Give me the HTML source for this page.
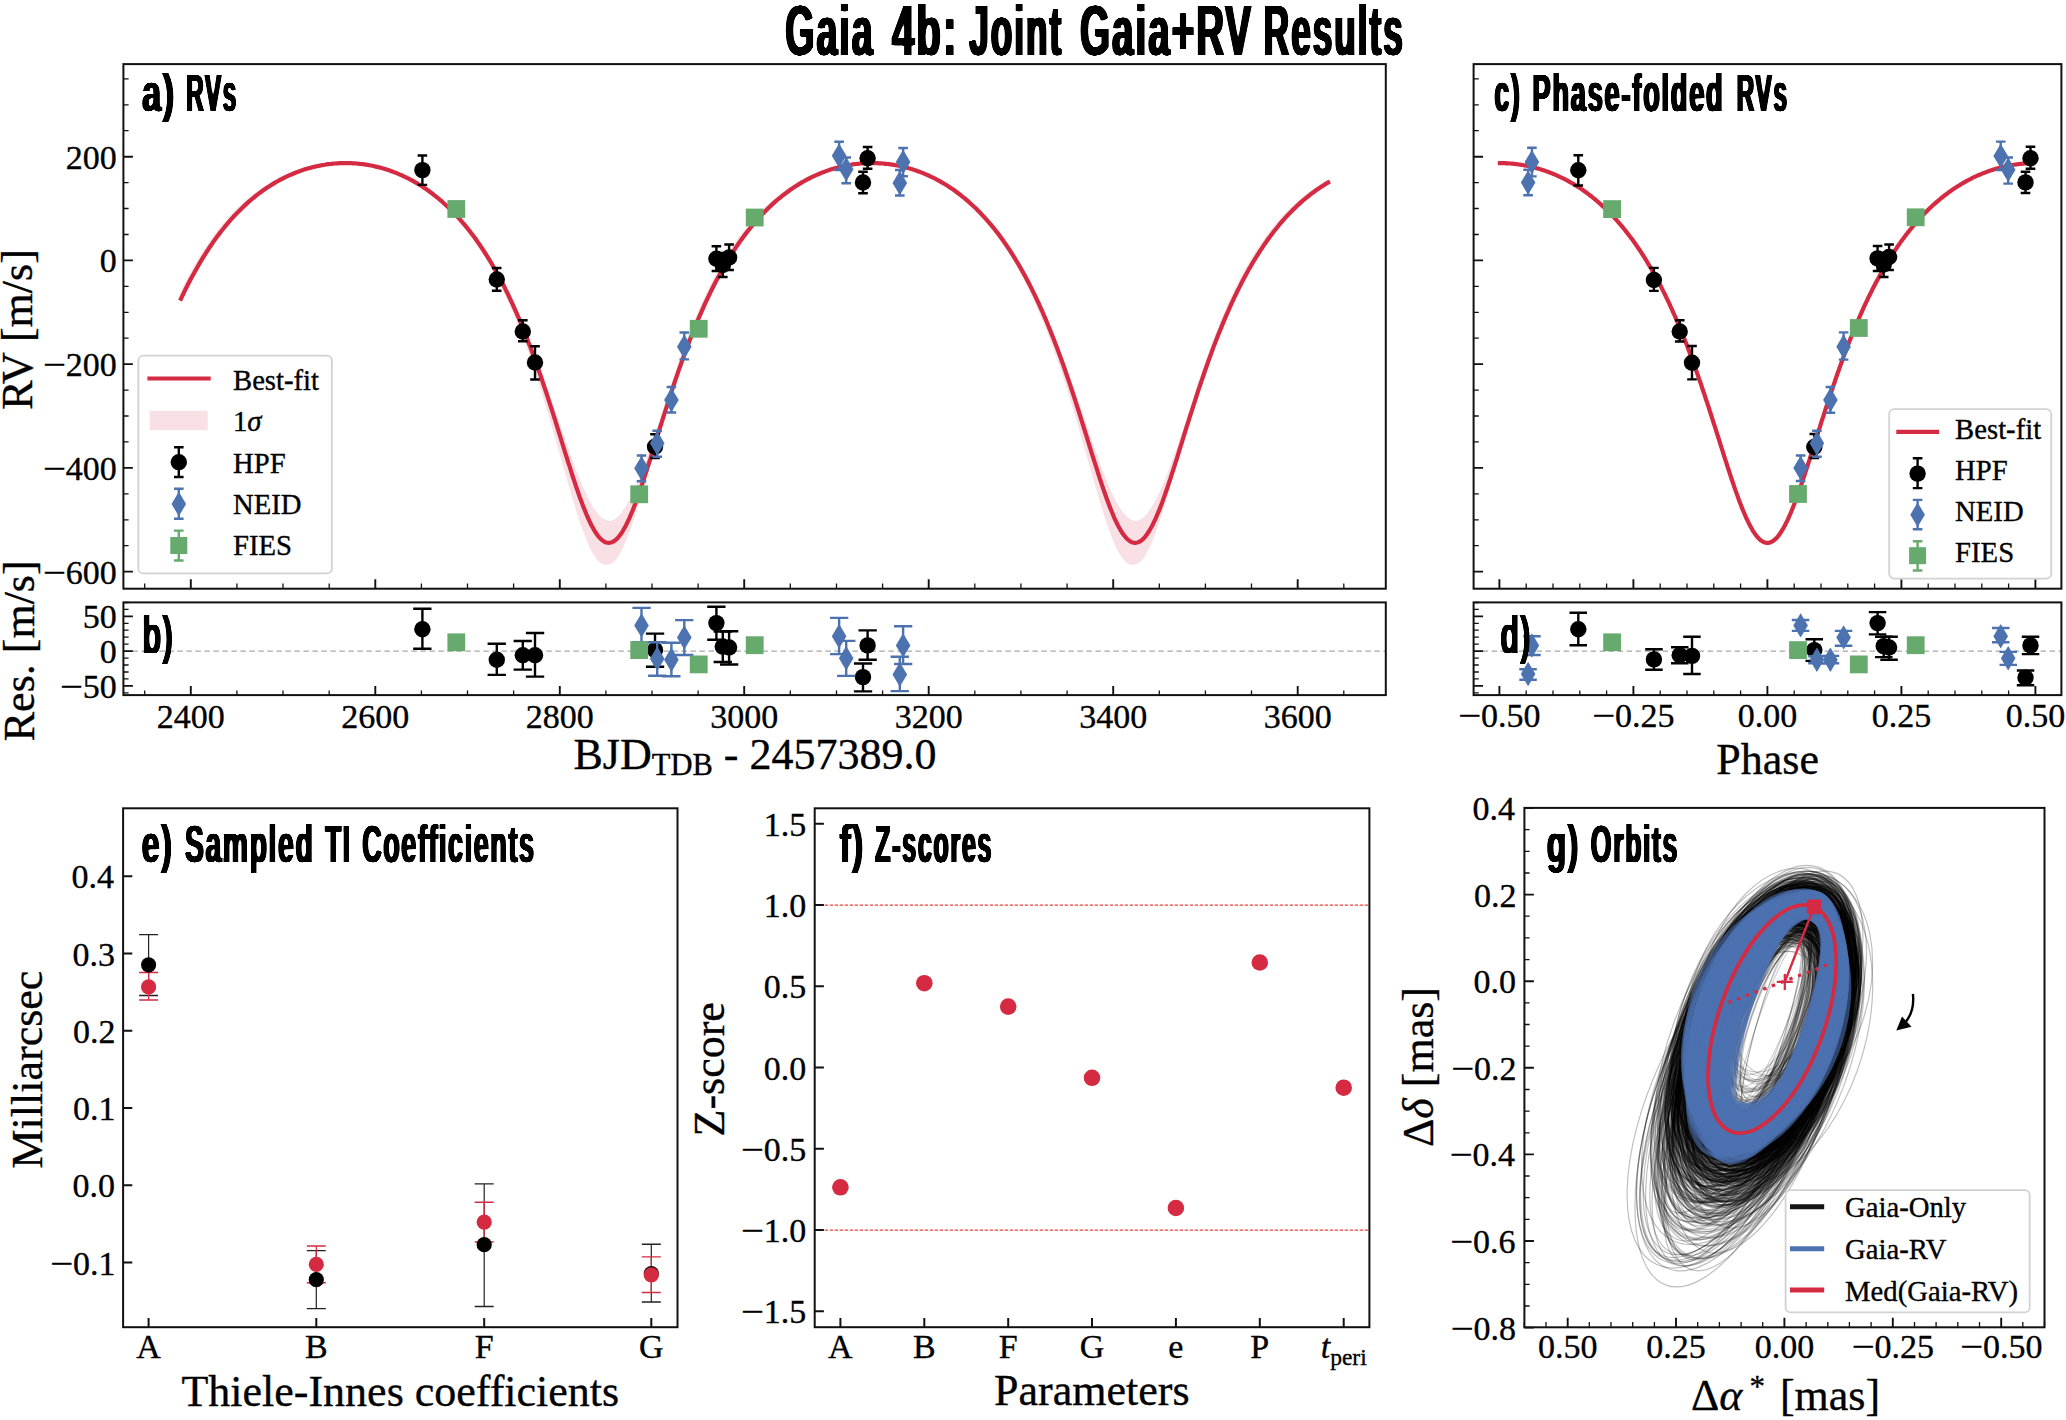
<!DOCTYPE html>
<html lang="en"><head><meta charset="utf-8"><title>Gaia 4b: Joint Gaia+RV Results</title>
<style>html,body{margin:0;padding:0;background:#fff}svg{display:block}svg text{stroke:#000;stroke-width:.35px}svg text.lb{stroke:none}</style></head>
<body>
<svg width="2066" height="1420" viewBox="0 0 2066 1420" font-family="Liberation Serif, serif" fill="#000">
<defs><filter id="fat10" x="-10%" y="-15%" width="120%" height="130%"><feGaussianBlur stdDeviation="1.5 0"/><feComponentTransfer><feFuncA type="linear" slope="6.00" intercept="-1.015"/></feComponentTransfer></filter><filter id="fat8" x="-10%" y="-15%" width="120%" height="130%"><feGaussianBlur stdDeviation="1.5 0"/><feComponentTransfer><feFuncA type="linear" slope="6.00" intercept="-1.281"/></feComponentTransfer></filter><filter id="fat6" x="-10%" y="-15%" width="120%" height="130%"><feGaussianBlur stdDeviation="1.5 0"/><feComponentTransfer><feFuncA type="linear" slope="6.00" intercept="-1.567"/></feComponentTransfer></filter><filter id="fat9" x="-10%" y="-15%" width="120%" height="130%"><feGaussianBlur stdDeviation="1.5 0"/><feComponentTransfer><feFuncA type="linear" slope="6.00" intercept="-1.146"/></feComponentTransfer></filter><clipPath id="cg"><rect x="1524.4" y="807.9" width="520.1" height="519.4"/></clipPath></defs>
<rect width="2066" height="1420" fill="#fff"/>
<g filter="url(#fat10)"><text class="lb" y="54.6" font-size="71" font-weight="bold" font-family="Liberation Sans, sans-serif"><tspan x="785.2" letter-spacing="3.78" textLength="89.4" lengthAdjust="spacingAndGlyphs">Gaia</tspan> <tspan x="891.9" letter-spacing="3.525" textLength="66.4" lengthAdjust="spacingAndGlyphs">4b:</tspan> <tspan x="969.2" letter-spacing="4.032" textLength="94.1" lengthAdjust="spacingAndGlyphs">Joint</tspan> <tspan x="1080.1" letter-spacing="3.683" textLength="173" lengthAdjust="spacingAndGlyphs">Gaia+RV</tspan> <tspan x="1263.8" letter-spacing="4.037" textLength="141.1" lengthAdjust="spacingAndGlyphs">Results</tspan></text></g>
<path d="M180.1 292.8L181.7 289.4L183.4 286.1L185 282.8L186.7 279.6L188.3 276.4L190 273.3L191.6 270.3L193.3 267.3L194.9 264.5L196.6 261.6L198.2 258.9L199.8 256.1L201.5 253.5L203.1 250.9L204.8 248.4L206.4 245.9L208.1 243.4L209.7 241.1L211.4 238.7L213 236.5L214.6 234.2L216.3 232.1L217.9 229.9L219.6 227.9L221.2 225.8L222.9 223.8L224.5 221.9L226.2 220L227.8 218.1L229.4 216.3L231.1 214.5L232.7 212.8L234.4 211.1L236 209.4L237.7 207.8L239.3 206.2L241 204.7L242.6 203.2L244.3 201.7L245.9 200.2L247.5 198.8L249.2 197.5L250.8 196.1L252.5 194.8L254.1 193.5L255.8 192.3L257.4 191.1L259.1 189.9L260.7 188.7L262.3 187.6L264 186.5L265.6 185.5L267.3 184.4L268.9 183.4L270.6 182.4L272.2 181.5L273.9 180.6L275.5 179.7L277.2 178.8L278.8 177.9L280.4 177.1L282.1 176.3L283.7 175.5L285.4 174.8L287 174.1L288.7 173.4L290.3 172.7L292 172L293.6 171.4L295.2 170.8L296.9 170.2L298.5 169.6L300.2 169.1L301.8 168.6L303.5 168.1L305.1 167.6L306.8 167.2L308.4 166.7L310.1 166.3L311.7 165.9L313.3 165.6L315 165.2L316.6 164.9L318.3 164.6L319.9 164.3L321.6 164L323.2 163.8L324.9 163.6L326.5 163.4L328.1 163.2L329.8 163L331.4 162.9L333.1 162.8L334.7 162.7L336.4 162.6L338 162.5L339.7 162.5L341.3 162.5L343 162.5L344.6 162.5L346.2 162.5L347.9 162.5L349.5 162.5L351.2 162.5L352.8 162.6L354.5 162.7L356.1 162.8L357.8 162.9L359.4 163.1L361 163.3L362.7 163.5L364.3 163.7L366 163.9L367.6 164.2L369.3 164.5L370.9 164.8L372.6 165.1L374.2 165.4L375.9 165.8L377.5 166.2L379.1 166.6L380.8 167L382.4 167.5L384.1 167.9L385.7 168.4L387.4 169L389 169.5L390.7 170.1L392.3 170.6L393.9 171.3L395.6 171.9L397.2 172.6L398.9 173.2L400.5 173.9L402.2 174.7L403.8 175.4L405.5 176.2L407.1 177L408.8 177.8L410.4 178.7L412 179.6L413.7 180.5L415.3 181.4L417 182.4L418.6 183.4L420.3 184.4L421.9 185.4L423.6 186.5L425.2 187.6L426.8 188.7L428.5 189.9L430.1 191.1L431.8 192.3L433.4 193.6L435.1 194.8L436.7 196.2L438.4 197.5L440 198.9L441.7 200.3L443.3 201.7L444.9 203.2L446.6 204.7L448.2 206.3L449.9 207.8L451.5 209.5L453.2 211.1L454.8 212.8L456.5 214.5L458.1 216.3L459.7 218.1L461.4 219.9L463 221.8L464.7 223.7L466.3 225.7L468 227.7L469.6 229.8L471.3 231.9L472.9 234L474.6 236.2L476.2 238.4L477.8 240.7L479.5 243L481.1 245.4L482.8 247.8L484.4 250.3L486.1 252.8L487.7 255.4L489.4 258L491 260.7L492.6 263.4L494.3 266.2L495.9 269L497.6 271.9L499.2 274.8L500.9 277.8L502.5 280.9L504.2 284L505.8 287.2L507.5 290.4L509.1 293.7L510.7 297.1L512.4 300.5L514 304L515.7 307.6L517.3 311.2L519 314.8L520.6 318.6L522.3 322.4L523.9 326.2L525.5 330.1L527.2 334.1L528.8 338.2L530.5 342.3L532.1 346.4L533.8 350.6L535.4 354.9L537.1 359.3L538.7 363.7L540.4 368.1L542 372.6L543.6 377.1L545.3 381.7L546.9 386.4L548.6 391L550.2 395.7L551.9 400.5L553.5 405.2L555.2 410L556.8 414.8L558.4 419.6L560.1 424.4L561.7 429.2L563.4 434L565 438.8L566.7 443.6L568.3 448.3L570 452.9L571.6 457.5L573.2 462.1L574.9 466.5L576.5 470.9L578.2 475.1L579.8 479.3L581.5 483.3L583.1 487.2L584.8 490.9L586.4 494.5L588.1 497.9L589.7 501.1L591.3 504.1L593 506.9L594.6 509.4L596.3 511.8L597.9 513.9L599.6 515.7L601.2 517.3L602.9 518.6L604.5 519.6L606.1 520.3L607.8 520.8L609.4 521L611.1 520.7L612.7 520.1L614.4 519.3L616 518.2L617.7 516.8L619.3 515.2L621 513.3L622.6 511.1L624.2 508.7L625.9 506.1L627.5 503.2L629.2 500.2L630.8 496.9L632.5 493.4L634.1 489.8L635.8 486L637.4 482.1L639 478.1L640.7 473.9L642.3 469.6L644 465.2L645.6 460.7L647.3 456.1L648.9 451.5L650.6 446.8L652.2 442.1L653.9 437.4L655.5 432.6L657.1 427.8L658.8 423L660.4 418.2L662.1 413.4L663.7 408.6L665.4 403.8L667 398.9L668.7 393.6L670.3 388.3L671.9 383.1L673.6 378L675.2 373L676.9 368L678.5 363.1L680.2 358.3L681.8 353.6L683.5 349L685.1 344.5L686.8 340L688.4 335.6L690 331.4L691.7 327.1L693.3 323L695 319L696.6 315L698.3 311.1L699.9 307.3L701.6 303.6L703.2 299.9L704.8 296.4L706.5 292.9L708.1 289.4L709.8 286.1L711.4 282.8L713.1 279.6L714.7 276.4L716.4 273.3L718 270.3L719.7 267.4L721.3 264.5L722.9 261.6L724.6 258.9L726.2 256.2L727.9 253.5L729.5 250.9L731.2 248.4L732.8 245.9L734.5 243.5L736.1 241.1L737.7 238.8L739.4 236.5L741 234.3L742.7 232.1L744.3 229.9L746 227.9L747.6 225.8L749.3 223.8L750.9 221.9L752.6 220L754.2 218.1L755.8 216.3L757.5 214.5L759.1 212.8L760.8 211.1L762.4 209.4L764.1 207.8L765.7 206.2L767.4 204.7L769 203.2L770.6 201.7L772.3 200.3L773.9 198.8L775.6 197.5L777.2 196.1L778.9 194.8L780.5 193.5L782.2 192.3L783.8 191.1L785.5 189.9L787.1 188.8L788.7 187.6L790.4 186.5L792 185.5L793.7 184.4L795.3 183.4L797 182.4L798.6 181.5L800.3 180.6L801.9 179.7L803.5 178.8L805.2 177.9L806.8 177.1L808.5 176.3L810.1 175.5L811.8 174.8L813.4 174.1L815.1 173.4L816.7 172.7L818.4 172L820 171.4L821.6 170.8L823.3 170.2L824.9 169.6L826.6 169.1L828.2 168.6L829.9 168.1L831.5 167.6L833.2 167.2L834.8 166.7L836.4 166.3L838.1 165.9L839.7 165.6L841.4 165.2L843 164.9L844.7 164.6L846.3 164.3L848 164L849.6 163.8L851.3 163.6L852.9 163.4L854.5 163.2L856.2 163L857.8 162.9L859.5 162.8L861.1 162.7L862.8 162.6L864.4 162.5L866.1 162.5L867.7 162.5L869.3 162.5L871 162.5L872.6 162.5L874.3 162.5L875.9 162.5L877.6 162.5L879.2 162.6L880.9 162.7L882.5 162.8L884.2 162.9L885.8 163.1L887.4 163.3L889.1 163.5L890.7 163.7L892.4 163.9L894 164.2L895.7 164.5L897.3 164.8L899 165.1L900.6 165.4L902.2 165.8L903.9 166.2L905.5 166.6L907.2 167L908.8 167.5L910.5 167.9L912.1 168.4L913.8 168.9L915.4 169.5L917.1 170.1L918.7 170.6L920.3 171.3L922 171.9L923.6 172.5L925.3 173.2L926.9 173.9L928.6 174.7L930.2 175.4L931.9 176.2L933.5 177L935.1 177.8L936.8 178.7L938.4 179.6L940.1 180.5L941.7 181.4L943.4 182.4L945 183.4L946.7 184.4L948.3 185.4L949.9 186.5L951.6 187.6L953.2 188.7L954.9 189.9L956.5 191.1L958.2 192.3L959.8 193.6L961.5 194.8L963.1 196.1L964.8 197.5L966.4 198.9L968 200.3L969.7 201.7L971.3 203.2L973 204.7L974.6 206.2L976.3 207.8L977.9 209.4L979.6 211.1L981.2 212.8L982.8 214.5L984.5 216.3L986.1 218.1L987.8 219.9L989.4 221.8L991.1 223.7L992.7 225.7L994.4 227.7L996 229.8L997.7 231.9L999.3 234L1000.9 236.2L1002.6 238.4L1004.2 240.7L1005.9 243L1007.5 245.4L1009.2 247.8L1010.8 250.3L1012.5 252.8L1014.1 255.3L1015.7 258L1017.4 260.6L1019 263.4L1020.7 266.2L1022.3 269L1024 271.9L1025.6 274.8L1027.3 277.8L1028.9 280.9L1030.6 284L1032.2 287.2L1033.8 290.4L1035.5 293.7L1037.1 297.1L1038.8 300.5L1040.4 304L1042.1 307.5L1043.7 311.1L1045.4 314.8L1047 318.5L1048.6 322.3L1050.3 326.2L1051.9 330.1L1053.6 334.1L1055.2 338.1L1056.9 342.2L1058.5 346.4L1060.2 350.6L1061.8 354.9L1063.5 359.2L1065.1 363.6L1066.7 368.1L1068.4 372.6L1070 377.1L1071.7 381.7L1073.3 386.3L1075 391L1076.6 395.7L1078.3 400.4L1079.9 405.2L1081.5 410L1083.2 414.8L1084.8 419.6L1086.5 424.4L1088.1 429.2L1089.8 434L1091.4 438.8L1093.1 443.5L1094.7 448.2L1096.4 452.9L1098 457.5L1099.6 462L1101.3 466.5L1102.9 470.9L1104.6 475.1L1106.2 479.3L1107.9 483.3L1109.5 487.2L1111.2 490.9L1112.8 494.5L1114.4 497.9L1116.1 501.1L1117.7 504.1L1119.4 506.9L1121 509.4L1122.7 511.8L1124.3 513.9L1126 515.7L1127.6 517.3L1129.3 518.6L1130.9 519.6L1132.5 520.3L1134.2 520.8L1135.8 521L1137.5 520.7L1139.1 520.1L1140.8 519.3L1142.4 518.2L1144.1 516.8L1145.7 515.2L1147.3 513.3L1149 511.1L1150.6 508.7L1152.3 506.1L1153.9 503.2L1155.6 500.2L1157.2 496.9L1158.9 493.5L1160.5 489.9L1162.2 486.1L1163.8 482.1L1165.4 478.1L1167.1 473.9L1168.7 469.6L1170.4 465.2L1172 460.7L1173.7 456.2L1175.3 451.6L1177 446.9L1178.6 442.2L1180.2 437.4L1181.9 432.6L1183.5 427.8L1185.2 423L1186.8 418.2L1188.5 413.4L1190.1 408.6L1191.8 403.8L1193.4 399L1195.1 393.6L1196.7 388.4L1198.3 383.2L1200 378L1201.6 373L1203.3 368L1204.9 363.2L1206.6 358.4L1208.2 353.7L1209.9 349L1211.5 344.5L1213.1 340L1214.8 335.7L1216.4 331.4L1218.1 327.2L1219.7 323L1221.4 319L1223 315L1224.7 311.2L1226.3 307.3L1228 303.6L1229.6 300L1231.2 296.4L1232.9 292.9L1234.5 289.5L1236.2 286.1L1237.8 282.8L1239.5 279.6L1241.1 276.4L1242.8 273.4L1244.4 270.3L1246 267.4L1247.7 264.5L1249.3 261.7L1251 258.9L1252.6 256.2L1254.3 253.5L1255.9 250.9L1257.6 248.4L1259.2 245.9L1260.9 243.5L1262.5 241.1L1264.1 238.8L1265.8 236.5L1267.4 234.3L1269.1 232.1L1270.7 230L1272.4 227.9L1274 225.8L1275.7 223.9L1277.3 221.9L1278.9 220L1280.6 218.1L1282.2 216.3L1283.9 214.5L1285.5 212.8L1287.2 211.1L1288.8 209.4L1290.5 207.8L1292.1 206.2L1293.7 204.7L1295.4 203.2L1297 201.7L1298.7 200.3L1300.3 198.9L1302 197.5L1303.6 196.1L1305.3 194.8L1306.9 193.6L1308.6 192.3L1310.2 191.1L1311.8 189.9L1313.5 188.8L1315.1 187.6L1316.8 186.5L1318.4 185.5L1320.1 184.4L1321.7 183.4L1323.4 182.5L1325 181.5L1326.6 180.6L1328.3 179.7L1329.9 178.8L1329.9 182.9L1328.3 183.9L1326.6 184.9L1325 185.9L1323.4 187L1321.7 188L1320.1 189.2L1318.4 190.3L1316.8 191.5L1315.1 192.7L1313.5 193.9L1311.8 195.1L1310.2 196.4L1308.6 197.8L1306.9 199.1L1305.3 200.5L1303.6 201.9L1302 203.4L1300.3 204.8L1298.7 206.4L1297 207.9L1295.4 209.5L1293.7 211.1L1292.1 212.8L1290.5 214.5L1288.8 216.2L1287.2 218L1285.5 219.8L1283.9 221.7L1282.2 223.6L1280.6 225.5L1278.9 227.5L1277.3 229.5L1275.7 231.6L1274 233.7L1272.4 235.8L1270.7 238L1269.1 240.3L1267.4 242.5L1265.8 244.9L1264.1 247.3L1262.5 249.7L1260.9 252.2L1259.2 254.7L1257.6 257.3L1255.9 259.9L1254.3 262.6L1252.6 265.4L1251 268.2L1249.3 271L1247.7 273.9L1246 276.9L1244.4 279.9L1242.8 283L1241.1 286.1L1239.5 289.3L1237.8 292.6L1236.2 295.9L1234.5 299.3L1232.9 302.7L1231.2 306.2L1229.6 309.8L1228 313.4L1226.3 317.1L1224.7 320.8L1223 324.6L1221.4 328.5L1219.7 332.4L1218.1 336.4L1216.4 340.5L1214.8 344.6L1213.1 348.8L1211.5 353.2L1209.9 357.7L1208.2 362.3L1206.6 366.9L1204.9 371.6L1203.3 376.4L1201.6 381.2L1200 386.1L1198.3 391L1196.7 396.1L1195.1 401.1L1193.4 406.3L1191.8 411.8L1190.1 417.3L1188.5 422.9L1186.8 428.6L1185.2 434.3L1183.5 440.1L1181.9 445.8L1180.2 451.6L1178.6 457.4L1177 463.2L1175.3 469.1L1173.7 474.8L1172 480.6L1170.4 486.3L1168.7 491.9L1167.1 497.5L1165.4 503L1163.8 508.4L1162.2 513.6L1160.5 518.7L1158.9 523.6L1157.2 528.3L1155.6 532.9L1153.9 537.2L1152.3 541.2L1150.6 545L1149 548.5L1147.3 551.7L1145.7 554.6L1144.1 557.2L1142.4 559.4L1140.8 561.2L1139.1 562.7L1137.5 563.7L1135.8 564.4L1134.2 564.7L1132.5 564.7L1130.9 564.7L1129.3 564.2L1127.6 563.4L1126 562.2L1124.3 560.6L1122.7 558.6L1121 556.3L1119.4 553.7L1117.7 550.7L1116.1 547.3L1114.4 543.7L1112.8 539.9L1111.2 535.7L1109.5 531.3L1107.9 526.7L1106.2 521.9L1104.6 516.9L1102.9 511.8L1101.3 506.5L1099.6 501.1L1098 495.6L1096.4 490L1094.7 484.3L1093.1 478.6L1091.4 472.8L1089.8 467L1088.1 461.2L1086.5 455.4L1084.8 449.6L1083.2 443.8L1081.5 438.1L1079.9 432.3L1078.3 426.6L1076.6 421L1075 415.4L1073.3 409.9L1071.7 404.4L1070 399L1068.4 393.7L1066.7 388.4L1065.1 383.2L1063.5 378.1L1061.8 373.1L1060.2 368.2L1058.5 363.3L1056.9 358.6L1055.2 353.9L1053.6 349.3L1051.9 344.7L1050.3 340.3L1048.6 335.9L1047 331.7L1045.4 327.5L1043.7 323.4L1042.1 319.4L1040.4 315.4L1038.8 311.5L1037.1 307.7L1035.5 304L1033.8 300.4L1032.2 296.8L1030.6 293.4L1028.9 289.9L1027.3 286.6L1025.6 283.3L1024 280.1L1022.3 277L1020.7 273.9L1019 270.9L1017.4 268L1015.7 265.1L1014.1 262.3L1012.5 259.5L1010.8 256.8L1009.2 254.2L1007.5 251.6L1005.9 249.1L1004.2 246.6L1002.6 244.2L1000.9 241.8L999.3 239.5L997.7 237.2L996 235L994.4 232.9L992.7 230.7L991.1 228.7L989.4 226.6L987.8 224.7L986.1 222.7L984.5 220.8L982.8 219L981.2 217.2L979.6 215.4L977.9 213.7L976.3 212L974.6 210.3L973 208.7L971.3 207.1L969.7 205.6L968 204.1L966.4 202.6L964.8 201.2L963.1 199.8L961.5 198.4L959.8 197.1L958.2 195.8L956.5 194.5L954.9 193.3L953.2 192.1L951.6 190.9L949.9 189.8L948.3 188.6L946.7 187.5L945 186.5L943.4 185.5L941.7 184.5L940.1 183.5L938.4 182.5L936.8 181.6L935.1 180.7L933.5 179.8L931.9 179L930.2 178.2L928.6 177.4L926.9 176.6L925.3 175.9L923.6 175.2L922 174.5L920.3 173.8L918.7 173.1L917.1 172.5L915.4 171.9L913.8 171.3L912.1 170.8L910.5 170.2L908.8 169.7L907.2 169.2L905.5 168.8L903.9 168.3L902.2 167.9L900.6 167.5L899 167.1L897.3 166.7L895.7 166.4L894 166.1L892.4 165.8L890.7 165.5L889.1 165.2L887.4 165L885.8 164.8L884.2 164.6L882.5 164.4L880.9 164.2L879.2 164.1L877.6 164L875.9 163.9L874.3 163.8L872.6 163.8L871 163.7L869.3 163.7L867.7 163.8L866.1 163.9L864.4 164L862.8 164.1L861.1 164.2L859.5 164.4L857.8 164.6L856.2 164.8L854.5 165L852.9 165.2L851.3 165.5L849.6 165.8L848 166.1L846.3 166.4L844.7 166.8L843 167.1L841.4 167.5L839.7 167.9L838.1 168.4L836.4 168.8L834.8 169.3L833.2 169.8L831.5 170.3L829.9 170.9L828.2 171.5L826.6 172L824.9 172.7L823.3 173.3L821.6 174L820 174.7L818.4 175.4L816.7 176.1L815.1 176.9L813.4 177.7L811.8 178.5L810.1 179.3L808.5 180.2L806.8 181.1L805.2 182L803.5 182.9L801.9 183.9L800.3 184.9L798.6 185.9L797 187L795.3 188L793.7 189.1L792 190.3L790.4 191.5L788.7 192.7L787.1 193.9L785.5 195.1L783.8 196.4L782.2 197.7L780.5 199.1L778.9 200.5L777.2 201.9L775.6 203.3L773.9 204.8L772.3 206.4L770.6 207.9L769 209.5L767.4 211.1L765.7 212.8L764.1 214.5L762.4 216.2L760.8 218L759.1 219.8L757.5 221.7L755.8 223.6L754.2 225.5L752.6 227.5L750.9 229.5L749.3 231.6L747.6 233.7L746 235.8L744.3 238L742.7 240.2L741 242.5L739.4 244.9L737.7 247.3L736.1 249.7L734.5 252.2L732.8 254.7L731.2 257.3L729.5 259.9L727.9 262.6L726.2 265.3L724.6 268.1L722.9 271L721.3 273.9L719.7 276.9L718 279.9L716.4 283L714.7 286.1L713.1 289.3L711.4 292.5L709.8 295.9L708.1 299.2L706.5 302.7L704.8 306.2L703.2 309.7L701.6 313.4L699.9 317L698.3 320.8L696.6 324.6L695 328.5L693.3 332.4L691.7 336.4L690 340.5L688.4 344.6L686.8 348.8L685.1 353.2L683.5 357.7L681.8 362.2L680.2 366.9L678.5 371.6L676.9 376.3L675.2 381.2L673.6 386.1L671.9 391L670.3 396L668.7 401.1L667 406.3L665.4 411.7L663.7 417.3L662.1 422.9L660.4 428.6L658.8 434.3L657.1 440L655.5 445.8L653.9 451.6L652.2 457.4L650.6 463.2L648.9 469L647.3 474.8L645.6 480.6L644 486.3L642.3 491.9L640.7 497.5L639 503L637.4 508.3L635.8 513.6L634.1 518.7L632.5 523.6L630.8 528.3L629.2 532.8L627.5 537.1L625.9 541.2L624.2 545L622.6 548.5L621 551.7L619.3 554.6L617.7 557.2L616 559.4L614.4 561.2L612.7 562.7L611.1 563.7L609.4 564.4L607.8 564.7L606.1 564.7L604.5 564.7L602.9 564.3L601.2 563.4L599.6 562.2L597.9 560.6L596.3 558.7L594.6 556.3L593 553.7L591.3 550.7L589.7 547.4L588.1 543.8L586.4 539.9L584.8 535.7L583.1 531.4L581.5 526.8L579.8 522L578.2 517L576.5 511.8L574.9 506.5L573.2 501.1L571.6 495.6L570 490L568.3 484.4L566.7 478.6L565 472.9L563.4 467.1L561.7 461.3L560.1 455.5L558.4 449.6L556.8 443.9L555.2 438.1L553.5 432.4L551.9 426.7L550.2 421L548.6 415.4L546.9 409.9L545.3 404.4L543.6 399L542 393.7L540.4 388.5L538.7 383.3L537.1 378.2L535.4 373.2L533.8 368.2L532.1 363.4L530.5 358.6L528.8 353.9L527.2 349.3L525.5 344.8L523.9 340.3L522.3 336L520.6 331.7L519 327.5L517.3 323.4L515.7 319.4L514 315.4L512.4 311.6L510.7 307.8L509.1 304.1L507.5 300.4L505.8 296.9L504.2 293.4L502.5 290L500.9 286.6L499.2 283.3L497.6 280.1L495.9 277L494.3 273.9L492.6 270.9L491 268L489.4 265.1L487.7 262.3L486.1 259.5L484.4 256.8L482.8 254.2L481.1 251.6L479.5 249.1L477.8 246.6L476.2 244.2L474.6 241.8L472.9 239.5L471.3 237.2L469.6 235L468 232.9L466.3 230.7L464.7 228.7L463 226.6L461.4 224.7L459.7 222.7L458.1 220.8L456.5 219L454.8 217.2L453.2 215.4L451.5 213.7L449.9 212L448.2 210.3L446.6 208.7L444.9 207.1L443.3 205.6L441.7 204.1L440 202.6L438.4 201.2L436.7 199.8L435.1 198.4L433.4 197.1L431.8 195.8L430.1 194.5L428.5 193.3L426.8 192.1L425.2 190.9L423.6 189.8L421.9 188.6L420.3 187.6L418.6 186.5L417 185.5L415.3 184.5L413.7 183.5L412 182.5L410.4 181.6L408.8 180.7L407.1 179.8L405.5 179L403.8 178.2L402.2 177.4L400.5 176.6L398.9 175.9L397.2 175.2L395.6 174.5L393.9 173.8L392.3 173.1L390.7 172.5L389 171.9L387.4 171.3L385.7 170.8L384.1 170.2L382.4 169.7L380.8 169.2L379.1 168.8L377.5 168.3L375.9 167.9L374.2 167.5L372.6 167.1L370.9 166.7L369.3 166.4L367.6 166.1L366 165.8L364.3 165.5L362.7 165.2L361 165L359.4 164.8L357.8 164.6L356.1 164.4L354.5 164.2L352.8 164.1L351.2 164L349.5 163.9L347.9 163.8L346.2 163.8L344.6 163.7L343 163.7L341.3 163.8L339.7 163.9L338 164L336.4 164.1L334.7 164.2L333.1 164.4L331.4 164.6L329.8 164.8L328.1 165L326.5 165.2L324.9 165.5L323.2 165.8L321.6 166.1L319.9 166.4L318.3 166.8L316.6 167.1L315 167.5L313.3 167.9L311.7 168.4L310.1 168.8L308.4 169.3L306.8 169.8L305.1 170.3L303.5 170.9L301.8 171.5L300.2 172L298.5 172.7L296.9 173.3L295.2 174L293.6 174.7L292 175.4L290.3 176.1L288.7 176.9L287 177.7L285.4 178.5L283.7 179.3L282.1 180.2L280.4 181.1L278.8 182L277.2 182.9L275.5 183.9L273.9 184.9L272.2 185.9L270.6 187L268.9 188L267.3 189.1L265.6 190.3L264 191.4L262.3 192.6L260.7 193.9L259.1 195.1L257.4 196.4L255.8 197.7L254.1 199.1L252.5 200.5L250.8 201.9L249.2 203.3L247.5 204.8L245.9 206.3L244.3 207.9L242.6 209.5L241 211.1L239.3 212.8L237.7 214.5L236 216.2L234.4 218L232.7 219.8L231.1 221.7L229.4 223.5L227.8 225.5L226.2 227.5L224.5 229.5L222.9 231.5L221.2 233.6L219.6 235.8L217.9 238L216.3 240.2L214.6 242.5L213 244.9L211.4 247.2L209.7 249.7L208.1 252.2L206.4 254.7L204.8 257.3L203.1 259.9L201.5 262.6L199.8 265.3L198.2 268.1L196.6 271L194.9 273.9L193.3 276.8L191.6 279.9L190 282.9L188.3 286.1L186.7 289.3L185 292.5L183.4 295.8L181.7 299.2L180.1 302.7Z" fill="#f9e0e5"/>
<path d="M180.1 300.6L181.7 297.1L183.4 293.7L185 290.3L186.7 287L188.3 283.8L190 280.6L191.6 277.5L193.3 274.5L194.9 271.5L196.6 268.6L198.2 265.7L199.8 262.9L201.5 260.1L203.1 257.4L204.8 254.8L206.4 252.2L208.1 249.7L209.7 247.2L211.4 244.8L213 242.4L214.6 240.1L216.3 237.8L217.9 235.6L219.6 233.4L221.2 231.3L222.9 229.2L224.5 227.2L226.2 225.2L227.8 223.2L229.4 221.3L231.1 219.4L232.7 217.6L234.4 215.8L236 214.1L237.7 212.4L239.3 210.7L241 209.1L242.6 207.5L244.3 205.9L245.9 204.4L247.5 202.9L249.2 201.4L250.8 200L252.5 198.6L254.1 197.3L255.8 195.9L257.4 194.6L259.1 193.4L260.7 192.2L262.3 191L264 189.8L265.6 188.7L267.3 187.5L268.9 186.5L270.6 185.4L272.2 184.4L273.9 183.4L275.5 182.4L277.2 181.5L278.8 180.6L280.4 179.7L282.1 178.8L283.7 178L285.4 177.2L287 176.4L288.7 175.6L290.3 174.9L292 174.2L293.6 173.5L295.2 172.8L296.9 172.2L298.5 171.6L300.2 171L301.8 170.4L303.5 169.8L305.1 169.3L306.8 168.8L308.4 168.3L310.1 167.9L311.7 167.4L313.3 167L315 166.6L316.6 166.2L318.3 165.9L319.9 165.6L321.6 165.2L323.2 165L324.9 164.7L326.5 164.4L328.1 164.2L329.8 164L331.4 163.8L333.1 163.7L334.7 163.5L336.4 163.4L338 163.3L339.7 163.2L341.3 163.1L343 163.1L344.6 163.1L346.2 163.1L347.9 163.1L349.5 163.1L351.2 163.2L352.8 163.3L354.5 163.4L356.1 163.5L357.8 163.6L359.4 163.8L361 164L362.7 164.2L364.3 164.4L366 164.7L367.6 164.9L369.3 165.2L370.9 165.5L372.6 165.8L374.2 166.2L375.9 166.6L377.5 167L379.1 167.4L380.8 167.8L382.4 168.3L384.1 168.7L385.7 169.2L387.4 169.8L389 170.3L390.7 170.9L392.3 171.5L393.9 172.1L395.6 172.7L397.2 173.4L398.9 174.1L400.5 174.8L402.2 175.5L403.8 176.3L405.5 177.1L407.1 177.9L408.8 178.7L410.4 179.6L412 180.4L413.7 181.4L415.3 182.3L417 183.3L418.6 184.3L420.3 185.3L421.9 186.3L423.6 187.4L425.2 188.5L426.8 189.6L428.5 190.8L430.1 192L431.8 193.2L433.4 194.5L435.1 195.8L436.7 197.1L438.4 198.4L440 199.8L441.7 201.2L443.3 202.7L444.9 204.2L446.6 205.7L448.2 207.3L449.9 208.8L451.5 210.5L453.2 212.1L454.8 213.8L456.5 215.6L458.1 217.4L459.7 219.2L461.4 221.1L463 223L464.7 224.9L466.3 226.9L468 228.9L469.6 231L471.3 233.2L472.9 235.3L474.6 237.5L476.2 239.8L477.8 242.1L479.5 244.5L481.1 246.9L482.8 249.4L484.4 251.9L486.1 254.5L487.7 257.1L489.4 259.8L491 262.5L492.6 265.3L494.3 268.2L495.9 271.1L497.6 274.1L499.2 277.1L500.9 280.2L502.5 283.4L504.2 286.6L505.8 289.9L507.5 293.2L509.1 296.6L510.7 300.1L512.4 303.7L514 307.3L515.7 311L517.3 314.8L519 318.6L520.6 322.5L522.3 326.5L523.9 330.6L525.5 334.7L527.2 338.9L528.8 343.2L530.5 347.5L532.1 351.9L533.8 356.4L535.4 361L537.1 365.6L538.7 370.3L540.4 375.1L542 379.9L543.6 384.8L545.3 389.7L546.9 394.7L548.6 399.8L550.2 404.9L551.9 410L553.5 415.2L555.2 420.4L556.8 425.7L558.4 430.9L560.1 436.2L561.7 441.5L563.4 446.8L565 452.1L566.7 457.3L568.3 462.6L570 467.7L571.6 472.9L573.2 477.9L574.9 482.9L576.5 487.8L578.2 492.6L579.8 497.2L581.5 501.7L583.1 506.1L584.8 510.3L586.4 514.3L588.1 518.1L589.7 521.7L591.3 525L593 528.1L594.6 530.9L596.3 533.5L597.9 535.8L599.6 537.7L601.2 539.4L602.9 540.7L604.5 541.8L606.1 542.5L607.8 542.8L609.4 542.8L611.1 542.5L612.7 541.9L614.4 540.9L616 539.6L617.7 538L619.3 536.1L621 533.8L622.6 531.3L624.2 528.5L625.9 525.4L627.5 522.1L629.2 518.6L630.8 514.8L632.5 510.8L634.1 506.7L635.8 502.3L637.4 497.9L639 493.2L640.7 488.5L642.3 483.6L644 478.6L645.6 473.6L647.3 468.5L648.9 463.3L650.6 458.1L652.2 452.8L653.9 447.5L655.5 442.2L657.1 437L658.8 431.7L660.4 426.4L662.1 421.1L663.7 415.9L665.4 410.7L667 405.6L668.7 400.5L670.3 395.4L671.9 390.4L673.6 385.4L675.2 380.5L676.9 375.7L678.5 370.9L680.2 366.2L681.8 361.6L683.5 357L685.1 352.5L686.8 348.1L688.4 343.8L690 339.5L691.7 335.3L693.3 331.1L695 327.1L696.6 323.1L698.3 319.2L699.9 315.3L701.6 311.5L703.2 307.8L704.8 304.2L706.5 300.6L708.1 297.1L709.8 293.7L711.4 290.3L713.1 287L714.7 283.8L716.4 280.6L718 277.5L719.7 274.5L721.3 271.5L722.9 268.6L724.6 265.7L726.2 262.9L727.9 260.2L729.5 257.5L731.2 254.8L732.8 252.2L734.5 249.7L736.1 247.2L737.7 244.8L739.4 242.4L741 240.1L742.7 237.9L744.3 235.6L746 233.4L747.6 231.3L749.3 229.2L750.9 227.2L752.6 225.2L754.2 223.2L755.8 221.3L757.5 219.5L759.1 217.6L760.8 215.8L762.4 214.1L764.1 212.4L765.7 210.7L767.4 209.1L769 207.5L770.6 205.9L772.3 204.4L773.9 202.9L775.6 201.4L777.2 200L778.9 198.6L780.5 197.3L782.2 195.9L783.8 194.7L785.5 193.4L787.1 192.2L788.7 191L790.4 189.8L792 188.7L793.7 187.6L795.3 186.5L797 185.4L798.6 184.4L800.3 183.4L801.9 182.4L803.5 181.5L805.2 180.6L806.8 179.7L808.5 178.8L810.1 178L811.8 177.2L813.4 176.4L815.1 175.6L816.7 174.9L818.4 174.2L820 173.5L821.6 172.8L823.3 172.2L824.9 171.6L826.6 171L828.2 170.4L829.9 169.8L831.5 169.3L833.2 168.8L834.8 168.3L836.4 167.9L838.1 167.4L839.7 167L841.4 166.6L843 166.2L844.7 165.9L846.3 165.6L848 165.2L849.6 165L851.3 164.7L852.9 164.4L854.5 164.2L856.2 164L857.8 163.8L859.5 163.7L861.1 163.5L862.8 163.4L864.4 163.3L866.1 163.2L867.7 163.1L869.3 163.1L871 163.1L872.6 163.1L874.3 163.1L875.9 163.1L877.6 163.2L879.2 163.3L880.9 163.4L882.5 163.5L884.2 163.6L885.8 163.8L887.4 164L889.1 164.2L890.7 164.4L892.4 164.7L894 164.9L895.7 165.2L897.3 165.5L899 165.8L900.6 166.2L902.2 166.6L903.9 167L905.5 167.4L907.2 167.8L908.8 168.3L910.5 168.7L912.1 169.2L913.8 169.8L915.4 170.3L917.1 170.9L918.7 171.5L920.3 172.1L922 172.7L923.6 173.4L925.3 174.1L926.9 174.8L928.6 175.5L930.2 176.3L931.9 177.1L933.5 177.9L935.1 178.7L936.8 179.6L938.4 180.4L940.1 181.4L941.7 182.3L943.4 183.3L945 184.3L946.7 185.3L948.3 186.3L949.9 187.4L951.6 188.5L953.2 189.6L954.9 190.8L956.5 192L958.2 193.2L959.8 194.5L961.5 195.8L963.1 197.1L964.8 198.4L966.4 199.8L968 201.2L969.7 202.7L971.3 204.2L973 205.7L974.6 207.2L976.3 208.8L977.9 210.5L979.6 212.1L981.2 213.8L982.8 215.6L984.5 217.4L986.1 219.2L987.8 221.1L989.4 223L991.1 224.9L992.7 226.9L994.4 228.9L996 231L997.7 233.1L999.3 235.3L1000.9 237.5L1002.6 239.8L1004.2 242.1L1005.9 244.5L1007.5 246.9L1009.2 249.4L1010.8 251.9L1012.5 254.5L1014.1 257.1L1015.7 259.8L1017.4 262.5L1019 265.3L1020.7 268.2L1022.3 271.1L1024 274L1025.6 277.1L1027.3 280.2L1028.9 283.3L1030.6 286.6L1032.2 289.9L1033.8 293.2L1035.5 296.6L1037.1 300.1L1038.8 303.7L1040.4 307.3L1042.1 311L1043.7 314.8L1045.4 318.6L1047 322.5L1048.6 326.5L1050.3 330.6L1051.9 334.7L1053.6 338.9L1055.2 343.2L1056.9 347.5L1058.5 351.9L1060.2 356.4L1061.8 361L1063.5 365.6L1065.1 370.3L1066.7 375L1068.4 379.9L1070 384.7L1071.7 389.7L1073.3 394.7L1075 399.7L1076.6 404.8L1078.3 410L1079.9 415.2L1081.5 420.4L1083.2 425.6L1084.8 430.9L1086.5 436.2L1088.1 441.5L1089.8 446.8L1091.4 452.1L1093.1 457.3L1094.7 462.5L1096.4 467.7L1098 472.8L1099.6 477.9L1101.3 482.9L1102.9 487.8L1104.6 492.5L1106.2 497.2L1107.9 501.7L1109.5 506.1L1111.2 510.3L1112.8 514.3L1114.4 518.1L1116.1 521.6L1117.7 525L1119.4 528.1L1121 530.9L1122.7 533.5L1124.3 535.7L1126 537.7L1127.6 539.4L1129.3 540.7L1130.9 541.8L1132.5 542.5L1134.2 542.8L1135.8 542.8L1137.5 542.5L1139.1 541.9L1140.8 540.9L1142.4 539.6L1144.1 538L1145.7 536.1L1147.3 533.8L1149 531.3L1150.6 528.5L1152.3 525.5L1153.9 522.1L1155.6 518.6L1157.2 514.8L1158.9 510.9L1160.5 506.7L1162.2 502.4L1163.8 497.9L1165.4 493.2L1167.1 488.5L1168.7 483.6L1170.4 478.7L1172 473.6L1173.7 468.5L1175.3 463.3L1177 458.1L1178.6 452.8L1180.2 447.6L1181.9 442.3L1183.5 437L1185.2 431.7L1186.8 426.4L1188.5 421.2L1190.1 415.9L1191.8 410.8L1193.4 405.6L1195.1 400.5L1196.7 395.4L1198.3 390.4L1200 385.5L1201.6 380.6L1203.3 375.7L1204.9 371L1206.6 366.3L1208.2 361.6L1209.9 357.1L1211.5 352.6L1213.1 348.1L1214.8 343.8L1216.4 339.5L1218.1 335.3L1219.7 331.2L1221.4 327.1L1223 323.1L1224.7 319.2L1226.3 315.3L1228 311.6L1229.6 307.9L1231.2 304.2L1232.9 300.6L1234.5 297.1L1236.2 293.7L1237.8 290.4L1239.5 287.1L1241.1 283.8L1242.8 280.6L1244.4 277.5L1246 274.5L1247.7 271.5L1249.3 268.6L1251 265.7L1252.6 262.9L1254.3 260.2L1255.9 257.5L1257.6 254.8L1259.2 252.3L1260.9 249.7L1262.5 247.3L1264.1 244.8L1265.8 242.5L1267.4 240.1L1269.1 237.9L1270.7 235.6L1272.4 233.5L1274 231.3L1275.7 229.2L1277.3 227.2L1278.9 225.2L1280.6 223.2L1282.2 221.3L1283.9 219.5L1285.5 217.6L1287.2 215.8L1288.8 214.1L1290.5 212.4L1292.1 210.7L1293.7 209.1L1295.4 207.5L1297 205.9L1298.7 204.4L1300.3 202.9L1302 201.4L1303.6 200L1305.3 198.6L1306.9 197.3L1308.6 196L1310.2 194.7L1311.8 193.4L1313.5 192.2L1315.1 191L1316.8 189.8L1318.4 188.7L1320.1 187.6L1321.7 186.5L1323.4 185.4L1325 184.4L1326.6 183.4L1328.3 182.4L1329.9 181.5" fill="none" stroke="#d42b42" stroke-width="4.2" stroke-linejoin="round"/>
<path d="M422.4 155.5V184.9" stroke="#000" stroke-width="2.4" fill="none"/><path d="M417.6 155.5h9.6M417.6 184.9h9.6" stroke="#000" stroke-width="2.4" fill="none"/>
<path d="M496.8 268V290.8" stroke="#000" stroke-width="2.4" fill="none"/><path d="M491.9 268h9.6M491.9 290.8h9.6" stroke="#000" stroke-width="2.4" fill="none"/>
<path d="M522.8 320.3V341.2" stroke="#000" stroke-width="2.4" fill="none"/><path d="M518 320.3h9.6M518 341.2h9.6" stroke="#000" stroke-width="2.4" fill="none"/>
<path d="M535 346.2V379.5" stroke="#000" stroke-width="2.4" fill="none"/><path d="M530.2 346.2h9.6M530.2 379.5h9.6" stroke="#000" stroke-width="2.4" fill="none"/>
<path d="M655 434.2V458" stroke="#000" stroke-width="2.4" fill="none"/><path d="M650.2 434.2h9.6M650.2 458h9.6" stroke="#000" stroke-width="2.4" fill="none"/>
<path d="M716.4 246.2V271" stroke="#000" stroke-width="2.4" fill="none"/><path d="M711.6 246.2h9.6M711.6 271h9.6" stroke="#000" stroke-width="2.4" fill="none"/>
<path d="M722.8 253V277" stroke="#000" stroke-width="2.4" fill="none"/><path d="M718 253h9.6M718 277h9.6" stroke="#000" stroke-width="2.4" fill="none"/>
<path d="M729.1 244.5V270" stroke="#000" stroke-width="2.4" fill="none"/><path d="M724.3 244.5h9.6M724.3 270h9.6" stroke="#000" stroke-width="2.4" fill="none"/>
<path d="M867.6 147V168.8" stroke="#000" stroke-width="2.4" fill="none"/><path d="M862.8 147h9.6M862.8 168.8h9.6" stroke="#000" stroke-width="2.4" fill="none"/>
<path d="M863 171.8V193.2" stroke="#000" stroke-width="2.4" fill="none"/><path d="M858.2 171.8h9.6M858.2 193.2h9.6" stroke="#000" stroke-width="2.4" fill="none"/>
<circle cx="422.4" cy="170.1" r="8.2" fill="#000"/>
<circle cx="496.8" cy="279.5" r="8.2" fill="#000"/>
<circle cx="522.8" cy="331.5" r="8.2" fill="#000"/>
<circle cx="535" cy="362.5" r="8.2" fill="#000"/>
<circle cx="655" cy="446.8" r="8.2" fill="#000"/>
<circle cx="716.4" cy="258.8" r="8.2" fill="#000"/>
<circle cx="722.8" cy="265" r="8.2" fill="#000"/>
<circle cx="729.1" cy="257.5" r="8.2" fill="#000"/>
<circle cx="867.6" cy="158.2" r="8.2" fill="#000"/>
<circle cx="863" cy="182.5" r="8.2" fill="#000"/>
<path d="M641.5 455.5V481.2" stroke="#4c72b0" stroke-width="2.4" fill="none"/><path d="M636.7 455.5h9.6M636.7 481.2h9.6" stroke="#4c72b0" stroke-width="2.4" fill="none"/>
<path d="M657.2 430.8V456.8" stroke="#4c72b0" stroke-width="2.4" fill="none"/><path d="M652.4 430.8h9.6M652.4 456.8h9.6" stroke="#4c72b0" stroke-width="2.4" fill="none"/>
<path d="M671.4 387V412.5" stroke="#4c72b0" stroke-width="2.4" fill="none"/><path d="M666.6 387h9.6M666.6 412.5h9.6" stroke="#4c72b0" stroke-width="2.4" fill="none"/>
<path d="M684.3 332.5V359.4" stroke="#4c72b0" stroke-width="2.4" fill="none"/><path d="M679.5 332.5h9.6M679.5 359.4h9.6" stroke="#4c72b0" stroke-width="2.4" fill="none"/>
<path d="M839.1 141.8V170" stroke="#4c72b0" stroke-width="2.4" fill="none"/><path d="M834.3 141.8h9.6M834.3 170h9.6" stroke="#4c72b0" stroke-width="2.4" fill="none"/>
<path d="M846.2 157.5V183.2" stroke="#4c72b0" stroke-width="2.4" fill="none"/><path d="M841.4 157.5h9.6M841.4 183.2h9.6" stroke="#4c72b0" stroke-width="2.4" fill="none"/>
<path d="M903.1 148V176.2" stroke="#4c72b0" stroke-width="2.4" fill="none"/><path d="M898.3 148h9.6M898.3 176.2h9.6" stroke="#4c72b0" stroke-width="2.4" fill="none"/>
<path d="M899.8 170V195.5" stroke="#4c72b0" stroke-width="2.4" fill="none"/><path d="M895 170h9.6M895 195.5h9.6" stroke="#4c72b0" stroke-width="2.4" fill="none"/>
<path d="M641.5 456.1L648.8 468.2L641.5 480.4L634.2 468.2Z" fill="#4c72b0"/>
<path d="M657.2 431.1L664.5 443.2L657.2 455.4L649.9 443.2Z" fill="#4c72b0"/>
<path d="M671.4 387.8L678.7 400L671.4 412.2L664.1 400Z" fill="#4c72b0"/>
<path d="M684.3 334.6L691.6 346.8L684.3 358.9L677 346.8Z" fill="#4c72b0"/>
<path d="M839.1 143.6L846.4 155.8L839.1 167.9L831.8 155.8Z" fill="#4c72b0"/>
<path d="M846.2 157.1L853.5 169.2L846.2 181.4L838.9 169.2Z" fill="#4c72b0"/>
<path d="M903.1 149.8L910.4 162L903.1 174.2L895.8 162Z" fill="#4c72b0"/>
<path d="M899.8 170.8L907.1 183L899.8 195.2L892.5 183Z" fill="#4c72b0"/>
<rect x="447.4" y="200.1" width="17.8" height="17.8" fill="#66aa6d"/>
<rect x="630.3" y="485.4" width="17.8" height="17.8" fill="#66aa6d"/>
<rect x="689.8" y="319.9" width="17.8" height="17.8" fill="#66aa6d"/>
<rect x="745.8" y="208.6" width="17.8" height="17.8" fill="#66aa6d"/>
<path d="M190.8 588.7v-9.5M375.3 588.7v-9.5M559.8 588.7v-9.5M744.2 588.7v-9.5M928.7 588.7v-9.5M1113.2 588.7v-9.5M1297.7 588.7v-9.5" stroke="#111" stroke-width="1.9" fill="none"/>
<path d="M144.7 588.7v-5.2M236.9 588.7v-5.2M283 588.7v-5.2M329.2 588.7v-5.2M421.4 588.7v-5.2M467.5 588.7v-5.2M513.6 588.7v-5.2M605.9 588.7v-5.2M652 588.7v-5.2M698.1 588.7v-5.2M790.3 588.7v-5.2M836.5 588.7v-5.2M882.6 588.7v-5.2M974.8 588.7v-5.2M1020.9 588.7v-5.2M1067.1 588.7v-5.2M1159.3 588.7v-5.2M1205.4 588.7v-5.2M1251.5 588.7v-5.2M1343.8 588.7v-5.2" stroke="#111" stroke-width="1.3" fill="none"/>
<path d="M123.4 571.6h9.5M123.4 467.9h9.5M123.4 364.1h9.5M123.4 260.4h9.5M123.4 156.7h9.5" stroke="#111" stroke-width="1.9" fill="none"/>
<path d="M123.4 545.7h5.2M123.4 519.8h5.2M123.4 493.8h5.2M123.4 441.9h5.2M123.4 416h5.2M123.4 390.1h5.2M123.4 338.2h5.2M123.4 312.3h5.2M123.4 286.3h5.2M123.4 234.5h5.2M123.4 208.5h5.2M123.4 182.6h5.2M123.4 130.7h5.2M123.4 104.8h5.2M123.4 78.9h5.2" stroke="#111" stroke-width="1.3" fill="none"/>
<rect x="123.4" y="64.1" width="1262.4" height="524.6" fill="none" stroke="#111" stroke-width="2.0"/>
<text x="42.7" y="583.6" font-size="34"><tspan textLength="23" lengthAdjust="spacingAndGlyphs">−</tspan>600</text>
<text x="42.7" y="479.9" font-size="34"><tspan textLength="23" lengthAdjust="spacingAndGlyphs">−</tspan>400</text>
<text x="42.7" y="376.1" font-size="34"><tspan textLength="23" lengthAdjust="spacingAndGlyphs">−</tspan>200</text>
<text x="99.7" y="272.4" font-size="34">0</text>
<text x="65.7" y="168.7" font-size="34">200</text>
<text transform="translate(32.3,329.5) rotate(-90)" font-size="44" text-anchor="middle">RV [m/s]</text>
<rect x="138.3" y="355.7" width="193.6" height="217.7" rx="5" fill="#fff" fill-opacity="0.8" stroke="#d2d2d2" stroke-width="1.8"/>
<path d="M147.4 378.5H210.7" stroke="#d42b42" stroke-width="4.2"/>
<rect x="149.7" y="410.8" width="58" height="19.4" fill="#f9e0e5"/>
<path d="M178.8 447.3V477" stroke="#000" stroke-width="2.4" fill="none"/><path d="M174 447.3h9.6M174 477h9.6" stroke="#000" stroke-width="2.4" fill="none"/>
<circle cx="178.8" cy="462.2" r="8.2" fill="#000"/>
<path d="M178.8 488.8V518.7" stroke="#4c72b0" stroke-width="2.4" fill="none"/><path d="M174 488.8h9.6M174 518.7h9.6" stroke="#4c72b0" stroke-width="2.4" fill="none"/>
<path d="M178.8 491.8L186.1 504L178.8 516.2L171.5 504Z" fill="#4c72b0"/>
<path d="M178.8 530.6V560.5" stroke="#66aa6d" stroke-width="2.4" fill="none"/><path d="M174 530.6h9.6M174 560.5h9.6" stroke="#66aa6d" stroke-width="2.4" fill="none"/>
<rect x="170.3" y="537" width="17" height="17" fill="#66aa6d"/>
<text x="233" y="389.9" font-size="28.7" text-anchor="start" >Best-fit</text>
<text x="233" y="430.8" font-size="28.7" text-anchor="start" >1<tspan font-style="italic">σ</tspan></text>
<text x="233" y="472.6" font-size="28.7" text-anchor="start" >HPF</text>
<text x="233" y="514.1" font-size="28.7" text-anchor="start" >NEID</text>
<text x="233" y="555.4" font-size="28.7" text-anchor="start" >FIES</text>
<g filter="url(#fat8)"><text class="lb" y="111" font-size="52.2" font-weight="bold" font-family="Liberation Sans, sans-serif"><tspan x="142" letter-spacing="2.415" textLength="34" lengthAdjust="spacingAndGlyphs">a)</tspan> <tspan x="186.3" letter-spacing="3.442" textLength="51.6" lengthAdjust="spacingAndGlyphs">RVs</tspan></text></g>
<path d="M123.4 651.1H1385.8" stroke="#a8a8a8" stroke-width="1.4" stroke-dasharray="5.5 3.5"/>
<path d="M422.4 608.8V648.7" stroke="#000" stroke-width="2.4" fill="none"/><path d="M413.2 608.8h18.3M413.2 648.7h18.3" stroke="#000" stroke-width="2.4" fill="none"/>
<path d="M496.8 643.7V674.9" stroke="#000" stroke-width="2.4" fill="none"/><path d="M487.6 643.7h18.3M487.6 674.9h18.3" stroke="#000" stroke-width="2.4" fill="none"/>
<path d="M522.8 641V669.6" stroke="#000" stroke-width="2.4" fill="none"/><path d="M513.6 641h18.3M513.6 669.6h18.3" stroke="#000" stroke-width="2.4" fill="none"/>
<path d="M535 633V676.6" stroke="#000" stroke-width="2.4" fill="none"/><path d="M525.9 633h18.3M525.9 676.6h18.3" stroke="#000" stroke-width="2.4" fill="none"/>
<path d="M655 633.6V666.7" stroke="#000" stroke-width="2.4" fill="none"/><path d="M645.9 633.6h18.3M645.9 666.7h18.3" stroke="#000" stroke-width="2.4" fill="none"/>
<path d="M716.4 606.8V639.7" stroke="#000" stroke-width="2.4" fill="none"/><path d="M707.2 606.8h18.3M707.2 639.7h18.3" stroke="#000" stroke-width="2.4" fill="none"/>
<path d="M722.8 631.6V662" stroke="#000" stroke-width="2.4" fill="none"/><path d="M713.6 631.6h18.3M713.6 662h18.3" stroke="#000" stroke-width="2.4" fill="none"/>
<path d="M729.1 631.3V664.5" stroke="#000" stroke-width="2.4" fill="none"/><path d="M720 631.3h18.3M720 664.5h18.3" stroke="#000" stroke-width="2.4" fill="none"/>
<path d="M867.6 630.4V659.7" stroke="#000" stroke-width="2.4" fill="none"/><path d="M858.5 630.4h18.3M858.5 659.7h18.3" stroke="#000" stroke-width="2.4" fill="none"/>
<path d="M863 663.5V691.4" stroke="#000" stroke-width="2.4" fill="none"/><path d="M853.9 663.5h18.3M853.9 691.4h18.3" stroke="#000" stroke-width="2.4" fill="none"/>
<circle cx="422.4" cy="629.2" r="8.2" fill="#000"/>
<circle cx="496.8" cy="659.7" r="8.2" fill="#000"/>
<circle cx="522.8" cy="655.3" r="8.2" fill="#000"/>
<circle cx="535" cy="655.3" r="8.2" fill="#000"/>
<circle cx="655" cy="650.1" r="8.2" fill="#000"/>
<circle cx="716.4" cy="623.1" r="8.2" fill="#000"/>
<circle cx="722.8" cy="646.6" r="8.2" fill="#000"/>
<circle cx="729.1" cy="647.5" r="8.2" fill="#000"/>
<circle cx="867.6" cy="645.4" r="8.2" fill="#000"/>
<circle cx="863" cy="677.1" r="8.2" fill="#000"/>
<path d="M641.5 607.9V642.3" stroke="#4c72b0" stroke-width="2.4" fill="none"/><path d="M632.4 607.9h18.3M632.4 642.3h18.3" stroke="#4c72b0" stroke-width="2.4" fill="none"/>
<path d="M657.2 642.3V675.7" stroke="#4c72b0" stroke-width="2.4" fill="none"/><path d="M648.1 642.3h18.3M648.1 675.7h18.3" stroke="#4c72b0" stroke-width="2.4" fill="none"/>
<path d="M671.4 642.8V676.3" stroke="#4c72b0" stroke-width="2.4" fill="none"/><path d="M662.2 642.8h18.3M662.2 676.3h18.3" stroke="#4c72b0" stroke-width="2.4" fill="none"/>
<path d="M684.3 620.1V655" stroke="#4c72b0" stroke-width="2.4" fill="none"/><path d="M675.1 620.1h18.3M675.1 655h18.3" stroke="#4c72b0" stroke-width="2.4" fill="none"/>
<path d="M839.1 617.9V654.1" stroke="#4c72b0" stroke-width="2.4" fill="none"/><path d="M830 617.9h18.3M830 654.1h18.3" stroke="#4c72b0" stroke-width="2.4" fill="none"/>
<path d="M846.2 640.9V675.9" stroke="#4c72b0" stroke-width="2.4" fill="none"/><path d="M837.1 640.9h18.3M837.1 675.9h18.3" stroke="#4c72b0" stroke-width="2.4" fill="none"/>
<path d="M903.1 626.2V664" stroke="#4c72b0" stroke-width="2.4" fill="none"/><path d="M894 626.2h18.3M894 664h18.3" stroke="#4c72b0" stroke-width="2.4" fill="none"/>
<path d="M899.8 656.7V691.1" stroke="#4c72b0" stroke-width="2.4" fill="none"/><path d="M890.6 656.7h18.3M890.6 691.1h18.3" stroke="#4c72b0" stroke-width="2.4" fill="none"/>
<path d="M641.5 613.2L648.8 625.4L641.5 637.6L634.2 625.4Z" fill="#4c72b0"/>
<path d="M657.2 646.6L664.5 658.8L657.2 671L649.9 658.8Z" fill="#4c72b0"/>
<path d="M671.4 647.5L678.7 659.7L671.4 671.9L664.1 659.7Z" fill="#4c72b0"/>
<path d="M684.3 625.2L691.6 637.4L684.3 649.6L677 637.4Z" fill="#4c72b0"/>
<path d="M839.1 624L846.4 636.2L839.1 648.4L831.8 636.2Z" fill="#4c72b0"/>
<path d="M846.2 646.1L853.5 658.3L846.2 670.5L838.9 658.3Z" fill="#4c72b0"/>
<path d="M903.1 633.2L910.4 645.4L903.1 657.6L895.8 645.4Z" fill="#4c72b0"/>
<path d="M899.8 662.3L907.1 674.5L899.8 686.7L892.5 674.5Z" fill="#4c72b0"/>
<rect x="447.4" y="633.4" width="17.8" height="17.8" fill="#66aa6d"/>
<rect x="630.3" y="641.2" width="17.8" height="17.8" fill="#66aa6d"/>
<rect x="689.8" y="655.5" width="17.8" height="17.8" fill="#66aa6d"/>
<rect x="745.8" y="636.3" width="17.8" height="17.8" fill="#66aa6d"/>
<path d="M190.8 695.1v-9.0M375.3 695.1v-9.0M559.8 695.1v-9.0M744.2 695.1v-9.0M928.7 695.1v-9.0M1113.2 695.1v-9.0M1297.7 695.1v-9.0" stroke="#111" stroke-width="1.9" fill="none"/>
<path d="M144.7 695.1v-4.7M236.9 695.1v-4.7M283 695.1v-4.7M329.2 695.1v-4.7M421.4 695.1v-4.7M467.5 695.1v-4.7M513.6 695.1v-4.7M605.9 695.1v-4.7M652 695.1v-4.7M698.1 695.1v-4.7M790.3 695.1v-4.7M836.5 695.1v-4.7M882.6 695.1v-4.7M974.8 695.1v-4.7M1020.9 695.1v-4.7M1067.1 695.1v-4.7M1159.3 695.1v-4.7M1205.4 695.1v-4.7M1251.5 695.1v-4.7M1343.8 695.1v-4.7" stroke="#111" stroke-width="1.3" fill="none"/>
<path d="M123.4 685.9h9.5M123.4 651.1h9.5M123.4 616.4h9.5" stroke="#111" stroke-width="1.9" fill="none"/>
<path d="M123.4 692.8h5.2M123.4 678.9h5.2M123.4 672h5.2M123.4 665h5.2M123.4 658.1h5.2M123.4 644.1h5.2M123.4 637.2h5.2M123.4 630.2h5.2M123.4 623.3h5.2M123.4 609.4h5.2M123.4 602.5h5.2" stroke="#111" stroke-width="1.3" fill="none"/>
<rect x="123.4" y="602.4" width="1262.4" height="92.7" fill="none" stroke="#111" stroke-width="2.0"/>
<text x="59.7" y="697.9" font-size="34"><tspan textLength="23" lengthAdjust="spacingAndGlyphs">−</tspan>50</text>
<text x="99.7" y="663.1" font-size="34">0</text>
<text x="82.7" y="628.4" font-size="34">50</text>
<text x="156.8" y="728" font-size="34">2400</text>
<text x="341.3" y="728" font-size="34">2600</text>
<text x="525.8" y="728" font-size="34">2800</text>
<text x="710.2" y="728" font-size="34">3000</text>
<text x="894.7" y="728" font-size="34">3200</text>
<text x="1079.2" y="728" font-size="34">3400</text>
<text x="1263.7" y="728" font-size="34">3600</text>
<text transform="translate(33.5,650.8) rotate(-90)" font-size="44" text-anchor="middle">Res. [m/s]</text>
<text x="573.5" y="768.8" font-size="44">BJD<tspan font-size="30.5" dy="6.5">TDB</tspan><tspan dy="-6.5"> - 2457389.0</tspan></text>
<g filter="url(#fat6)"><text class="lb" y="652.5" font-size="52.2" font-weight="bold" font-family="Liberation Sans, sans-serif"><tspan x="142.3" letter-spacing="2.007" textLength="31.9" lengthAdjust="spacingAndGlyphs">b)</tspan></text></g>
<path d="M1497.8 163.1L1498.9 163.1L1499.9 163.1L1501 163.1L1502.1 163.1L1503.1 163.1L1504.2 163.2L1505.3 163.2L1506.4 163.3L1507.4 163.3L1508.5 163.4L1509.6 163.5L1510.6 163.5L1511.7 163.6L1512.8 163.7L1513.8 163.8L1514.9 164L1516 164.1L1517.1 164.2L1518.1 164.4L1519.2 164.5L1520.3 164.7L1521.3 164.8L1522.4 165L1523.5 165.2L1524.6 165.4L1525.6 165.6L1526.7 165.8L1527.8 166L1528.8 166.2L1529.9 166.5L1531 166.7L1532 167L1533.1 167.2L1534.2 167.5L1535.3 167.8L1536.3 168.1L1537.4 168.4L1538.5 168.7L1539.5 169L1540.6 169.3L1541.7 169.7L1542.7 170L1543.8 170.4L1544.9 170.7L1546 171.1L1547 171.5L1548.1 171.9L1549.2 172.3L1550.2 172.7L1551.3 173.1L1552.4 173.5L1553.5 174L1554.5 174.4L1555.6 174.9L1556.7 175.3L1557.7 175.8L1558.8 176.3L1559.9 176.8L1560.9 177.3L1562 177.8L1563.1 178.4L1564.2 178.9L1565.2 179.4L1566.3 180L1567.4 180.6L1568.4 181.2L1569.5 181.8L1570.6 182.4L1571.6 183L1572.7 183.6L1573.8 184.2L1574.9 184.9L1575.9 185.5L1577 186.2L1578.1 186.9L1579.1 187.6L1580.2 188.3L1581.3 189L1582.4 189.7L1583.4 190.5L1584.5 191.2L1585.6 192L1586.6 192.8L1587.7 193.6L1588.8 194.4L1589.8 195.2L1590.9 196L1592 196.9L1593.1 197.7L1594.1 198.6L1595.2 199.5L1596.3 200.4L1597.3 201.3L1598.4 202.2L1599.5 203.2L1600.5 204.1L1601.6 205.1L1602.7 206.1L1603.8 207.1L1604.8 208.1L1605.9 209.1L1607 210.1L1608 211.2L1609.1 212.3L1610.2 213.3L1611.3 214.4L1612.3 215.6L1613.4 216.7L1614.5 217.9L1615.5 219L1616.6 220.2L1617.7 221.4L1618.7 222.6L1619.8 223.9L1620.9 225.1L1622 226.4L1623 227.7L1624.1 229L1625.2 230.3L1626.2 231.6L1627.3 233L1628.4 234.4L1629.4 235.8L1630.5 237.2L1631.6 238.6L1632.7 240.1L1633.7 241.6L1634.8 243.1L1635.9 244.6L1636.9 246.1L1638 247.7L1639.1 249.3L1640.2 250.9L1641.2 252.5L1642.3 254.2L1643.4 255.8L1644.4 257.5L1645.5 259.2L1646.6 261L1647.6 262.7L1648.7 264.5L1649.8 266.3L1650.9 268.1L1651.9 270L1653 271.9L1654.1 273.8L1655.1 275.7L1656.2 277.7L1657.3 279.6L1658.4 281.7L1659.4 283.7L1660.5 285.7L1661.6 287.8L1662.6 289.9L1663.7 292.1L1664.8 294.2L1665.8 296.4L1666.9 298.7L1668 300.9L1669.1 303.2L1670.1 305.5L1671.2 307.8L1672.3 310.2L1673.3 312.6L1674.4 315L1675.5 317.4L1676.5 319.9L1677.6 322.4L1678.7 324.9L1679.8 327.5L1680.8 330.1L1681.9 332.7L1683 335.4L1684 338.1L1685.1 340.8L1686.2 343.5L1687.3 346.3L1688.3 349.1L1689.4 351.9L1690.5 354.8L1691.5 357.7L1692.6 360.6L1693.7 363.5L1694.7 366.5L1695.8 369.5L1696.9 372.5L1698 375.6L1699 378.7L1700.1 381.8L1701.2 384.9L1702.2 388L1703.3 391.2L1704.4 394.4L1705.4 397.6L1706.5 400.9L1707.6 404.1L1708.7 407.4L1709.7 410.7L1710.8 414L1711.9 417.4L1712.9 420.7L1714 424.1L1715.1 427.4L1716.2 430.8L1717.2 434.2L1718.3 437.5L1719.4 440.9L1720.4 444.3L1721.5 447.7L1722.6 451.1L1723.6 454.4L1724.7 457.8L1725.8 461.1L1726.9 464.5L1727.9 467.8L1729 471L1730.1 474.3L1731.1 477.5L1732.2 480.7L1733.3 483.9L1734.3 487L1735.4 490.1L1736.5 493.1L1737.6 496.1L1738.6 499L1739.7 501.9L1740.8 504.7L1741.8 507.4L1742.9 510.1L1744 512.6L1745.1 515.2L1746.1 517.6L1747.2 519.9L1748.3 522.1L1749.3 524.3L1750.4 526.3L1751.5 528.3L1752.5 530.1L1753.6 531.8L1754.7 533.4L1755.8 534.9L1756.8 536.3L1757.9 537.5L1759 538.7L1760 539.7L1761.1 540.5L1762.2 541.2L1763.2 541.8L1764.3 542.3L1765.4 542.6L1766.5 542.8L1767.5 542.9L1768.6 542.8L1769.7 542.6L1770.7 542.2L1771.8 541.7L1772.9 541.1L1774 540.3L1775 539.4L1776.1 538.4L1777.2 537.3L1778.2 536L1779.3 534.6L1780.4 533.1L1781.4 531.4L1782.5 529.7L1783.6 527.8L1784.7 525.8L1785.7 523.8L1786.8 521.6L1787.9 519.3L1788.9 517L1790 514.6L1791.1 512L1792.1 509.4L1793.2 506.7L1794.3 504L1795.4 501.2L1796.4 498.3L1797.5 495.4L1798.6 492.4L1799.6 489.3L1800.7 486.2L1801.8 483.1L1802.9 480L1803.9 476.7L1805 473.5L1806.1 470.2L1807.1 467L1808.2 463.6L1809.3 460.3L1810.3 457L1811.4 453.6L1812.5 450.2L1813.6 446.9L1814.6 443.5L1815.7 440.1L1816.8 436.7L1817.8 433.3L1818.9 430L1820 426.6L1821 423.2L1822.1 419.9L1823.2 416.6L1824.3 413.2L1825.3 409.9L1826.4 406.6L1827.5 403.4L1828.5 400.1L1829.6 396.9L1830.7 393.6L1831.8 390.4L1832.8 387.3L1833.9 384.1L1835 381L1836 377.9L1837.1 374.8L1838.2 371.8L1839.2 368.8L1840.3 365.8L1841.4 362.8L1842.5 359.9L1843.5 357L1844.6 354.1L1845.7 351.2L1846.7 348.4L1847.8 345.6L1848.9 342.8L1849.9 340.1L1851 337.4L1852.1 334.7L1853.2 332.1L1854.2 329.5L1855.3 326.9L1856.4 324.3L1857.4 321.8L1858.5 319.3L1859.6 316.8L1860.7 314.4L1861.7 312L1862.8 309.6L1863.9 307.2L1864.9 304.9L1866 302.6L1867.1 300.4L1868.1 298.1L1869.2 295.9L1870.3 293.7L1871.4 291.6L1872.4 289.4L1873.5 287.3L1874.6 285.2L1875.6 283.2L1876.7 281.2L1877.8 279.2L1878.9 277.2L1879.9 275.2L1881 273.3L1882.1 271.4L1883.1 269.5L1884.2 267.7L1885.3 265.9L1886.3 264.1L1887.4 262.3L1888.5 260.5L1889.6 258.8L1890.6 257.1L1891.7 255.4L1892.8 253.7L1893.8 252.1L1894.9 250.5L1896 248.9L1897 247.3L1898.1 245.8L1899.2 244.2L1900.3 242.7L1901.3 241.2L1902.4 239.7L1903.5 238.3L1904.5 236.9L1905.6 235.4L1906.7 234L1907.8 232.7L1908.8 231.3L1909.9 230L1911 228.7L1912 227.4L1913.1 226.1L1914.2 224.8L1915.2 223.6L1916.3 222.3L1917.4 221.1L1918.5 219.9L1919.5 218.7L1920.6 217.6L1921.7 216.4L1922.7 215.3L1923.8 214.2L1924.9 213.1L1925.9 212L1927 210.9L1928.1 209.9L1929.2 208.8L1930.2 207.8L1931.3 206.8L1932.4 205.8L1933.4 204.8L1934.5 203.9L1935.6 202.9L1936.7 202L1937.7 201.1L1938.8 200.2L1939.9 199.3L1940.9 198.4L1942 197.5L1943.1 196.7L1944.1 195.8L1945.2 195L1946.3 194.2L1947.4 193.4L1948.4 192.6L1949.5 191.8L1950.6 191.1L1951.6 190.3L1952.7 189.6L1953.8 188.8L1954.8 188.1L1955.9 187.4L1957 186.7L1958.1 186.1L1959.1 185.4L1960.2 184.7L1961.3 184.1L1962.3 183.4L1963.4 182.8L1964.5 182.2L1965.6 181.6L1966.6 181L1967.7 180.4L1968.8 179.9L1969.8 179.3L1970.9 178.8L1972 178.2L1973 177.7L1974.1 177.2L1975.2 176.7L1976.3 176.2L1977.3 175.7L1978.4 175.2L1979.5 174.8L1980.5 174.3L1981.6 173.9L1982.7 173.4L1983.7 173L1984.8 172.6L1985.9 172.2L1987 171.8L1988 171.4L1989.1 171L1990.2 170.6L1991.2 170.3L1992.3 169.9L1993.4 169.6L1994.5 169.2L1995.5 168.9L1996.6 168.6L1997.7 168.3L1998.7 168L1999.8 167.7L2000.9 167.4L2001.9 167.2L2003 166.9L2004.1 166.7L2005.2 166.4L2006.2 166.2L2007.3 166L2008.4 165.7L2009.4 165.5L2010.5 165.3L2011.6 165.1L2012.6 165L2013.7 164.8L2014.8 164.6L2015.9 164.5L2016.9 164.3L2018 164.2L2019.1 164L2020.1 163.9L2021.2 163.8L2022.3 163.7L2023.4 163.6L2024.4 163.5L2025.5 163.4L2026.6 163.4L2027.6 163.3L2028.7 163.2L2029.8 163.2L2030.8 163.2L2031.9 163.1" fill="none" stroke="#d42b42" stroke-width="4.2" stroke-linejoin="round"/>
<path d="M1578.3 155.2V185.5" stroke="#000" stroke-width="2.4" fill="none"/><path d="M1573.5 155.2h9.6M1573.5 185.5h9.6" stroke="#000" stroke-width="2.4" fill="none"/>
<path d="M1653.9 267.9V290.9" stroke="#000" stroke-width="2.4" fill="none"/><path d="M1649.1 267.9h9.6M1649.1 290.9h9.6" stroke="#000" stroke-width="2.4" fill="none"/>
<path d="M1679.7 320.3V341.5" stroke="#000" stroke-width="2.4" fill="none"/><path d="M1674.9 320.3h9.6M1674.9 341.5h9.6" stroke="#000" stroke-width="2.4" fill="none"/>
<path d="M1692 346V379.4" stroke="#000" stroke-width="2.4" fill="none"/><path d="M1687.2 346h9.6M1687.2 379.4h9.6" stroke="#000" stroke-width="2.4" fill="none"/>
<path d="M1814.3 434V458" stroke="#000" stroke-width="2.4" fill="none"/><path d="M1809.5 434h9.6M1809.5 458h9.6" stroke="#000" stroke-width="2.4" fill="none"/>
<path d="M1877.6 246V271" stroke="#000" stroke-width="2.4" fill="none"/><path d="M1872.8 246h9.6M1872.8 271h9.6" stroke="#000" stroke-width="2.4" fill="none"/>
<path d="M1883.7 253V277" stroke="#000" stroke-width="2.4" fill="none"/><path d="M1878.9 253h9.6M1878.9 277h9.6" stroke="#000" stroke-width="2.4" fill="none"/>
<path d="M1889.1 244.5V270" stroke="#000" stroke-width="2.4" fill="none"/><path d="M1884.3 244.5h9.6M1884.3 270h9.6" stroke="#000" stroke-width="2.4" fill="none"/>
<path d="M2030.5 146.7V168.8" stroke="#000" stroke-width="2.4" fill="none"/><path d="M2025.7 146.7h9.6M2025.7 168.8h9.6" stroke="#000" stroke-width="2.4" fill="none"/>
<path d="M2025.5 171.8V193" stroke="#000" stroke-width="2.4" fill="none"/><path d="M2020.7 171.8h9.6M2020.7 193h9.6" stroke="#000" stroke-width="2.4" fill="none"/>
<circle cx="1578.3" cy="170.2" r="8.2" fill="#000"/>
<circle cx="1653.9" cy="280" r="8.2" fill="#000"/>
<circle cx="1679.7" cy="331.5" r="8.2" fill="#000"/>
<circle cx="1692" cy="362.7" r="8.2" fill="#000"/>
<circle cx="1814.3" cy="447" r="8.2" fill="#000"/>
<circle cx="1877.6" cy="258.4" r="8.2" fill="#000"/>
<circle cx="1883.7" cy="264.5" r="8.2" fill="#000"/>
<circle cx="1889.1" cy="257" r="8.2" fill="#000"/>
<circle cx="2030.5" cy="158.2" r="8.2" fill="#000"/>
<circle cx="2025.5" cy="182.4" r="8.2" fill="#000"/>
<path d="M1800.6 455.5V481" stroke="#4c72b0" stroke-width="2.4" fill="none"/><path d="M1795.8 455.5h9.6M1795.8 481h9.6" stroke="#4c72b0" stroke-width="2.4" fill="none"/>
<path d="M1816.9 430.7V456.7" stroke="#4c72b0" stroke-width="2.4" fill="none"/><path d="M1812.1 430.7h9.6M1812.1 456.7h9.6" stroke="#4c72b0" stroke-width="2.4" fill="none"/>
<path d="M1830.4 387V412.7" stroke="#4c72b0" stroke-width="2.4" fill="none"/><path d="M1825.6 387h9.6M1825.6 412.7h9.6" stroke="#4c72b0" stroke-width="2.4" fill="none"/>
<path d="M1843.6 332.4V359.6" stroke="#4c72b0" stroke-width="2.4" fill="none"/><path d="M1838.8 332.4h9.6M1838.8 359.6h9.6" stroke="#4c72b0" stroke-width="2.4" fill="none"/>
<path d="M2000.7 141.6V170" stroke="#4c72b0" stroke-width="2.4" fill="none"/><path d="M1995.9 141.6h9.6M1995.9 170h9.6" stroke="#4c72b0" stroke-width="2.4" fill="none"/>
<path d="M2008.2 157.5V183.6" stroke="#4c72b0" stroke-width="2.4" fill="none"/><path d="M2003.4 157.5h9.6M2003.4 183.6h9.6" stroke="#4c72b0" stroke-width="2.4" fill="none"/>
<path d="M1531.9 147.8V176.4" stroke="#4c72b0" stroke-width="2.4" fill="none"/><path d="M1527.1 147.8h9.6M1527.1 176.4h9.6" stroke="#4c72b0" stroke-width="2.4" fill="none"/>
<path d="M1528.1 169.8V195.3" stroke="#4c72b0" stroke-width="2.4" fill="none"/><path d="M1523.3 169.8h9.6M1523.3 195.3h9.6" stroke="#4c72b0" stroke-width="2.4" fill="none"/>
<path d="M1800.6 455.8L1807.9 468L1800.6 480.2L1793.3 468Z" fill="#4c72b0"/>
<path d="M1816.9 431L1824.2 443.2L1816.9 455.4L1809.6 443.2Z" fill="#4c72b0"/>
<path d="M1830.4 387.8L1837.7 400L1830.4 412.2L1823.1 400Z" fill="#4c72b0"/>
<path d="M1843.6 334.5L1850.9 346.7L1843.6 358.9L1836.3 346.7Z" fill="#4c72b0"/>
<path d="M2000.7 143.8L2008 156L2000.7 168.2L1993.4 156Z" fill="#4c72b0"/>
<path d="M2008.2 157.6L2015.5 169.8L2008.2 182L2000.9 169.8Z" fill="#4c72b0"/>
<path d="M1531.9 149.9L1539.2 162.1L1531.9 174.3L1524.6 162.1Z" fill="#4c72b0"/>
<path d="M1528.1 170.4L1535.4 182.6L1528.1 194.8L1520.8 182.6Z" fill="#4c72b0"/>
<rect x="1603.2" y="200.2" width="17.8" height="17.8" fill="#66aa6d"/>
<rect x="1789.1" y="485.1" width="17.8" height="17.8" fill="#66aa6d"/>
<rect x="1849.9" y="319.1" width="17.8" height="17.8" fill="#66aa6d"/>
<rect x="1906.8" y="208.4" width="17.8" height="17.8" fill="#66aa6d"/>
<path d="M1499.4 588.7v-9.5M1633.4 588.7v-9.5M1767.4 588.7v-9.5M1901.4 588.7v-9.5M2035.4 588.7v-9.5" stroke="#111" stroke-width="1.9" fill="none"/>
<path d="M1526.2 588.7v-5.2M1553 588.7v-5.2M1579.8 588.7v-5.2M1606.6 588.7v-5.2M1660.2 588.7v-5.2M1687 588.7v-5.2M1713.8 588.7v-5.2M1740.6 588.7v-5.2M1794.2 588.7v-5.2M1821 588.7v-5.2M1847.8 588.7v-5.2M1874.6 588.7v-5.2M1928.2 588.7v-5.2M1955 588.7v-5.2M1981.8 588.7v-5.2M2008.6 588.7v-5.2" stroke="#111" stroke-width="1.3" fill="none"/>
<path d="M1473.6 571.6h9.5M1473.6 467.9h9.5M1473.6 364.1h9.5M1473.6 260.4h9.5M1473.6 156.7h9.5" stroke="#111" stroke-width="1.9" fill="none"/>
<path d="M1473.6 545.7h5.2M1473.6 519.8h5.2M1473.6 493.8h5.2M1473.6 441.9h5.2M1473.6 416h5.2M1473.6 390.1h5.2M1473.6 338.2h5.2M1473.6 312.3h5.2M1473.6 286.3h5.2M1473.6 234.5h5.2M1473.6 208.5h5.2M1473.6 182.6h5.2M1473.6 130.7h5.2M1473.6 104.8h5.2M1473.6 78.9h5.2" stroke="#111" stroke-width="1.3" fill="none"/>
<rect x="1473.6" y="64.1" width="587.8" height="524.6" fill="none" stroke="#111" stroke-width="2.0"/>
<rect x="1889.2" y="409.2" width="162" height="169.4" rx="5" fill="#fff" fill-opacity="0.8" stroke="#d2d2d2" stroke-width="1.8"/>
<path d="M1896.3 431.9H1939.1" stroke="#d42b42" stroke-width="4.2"/>
<path d="M1917.6 458.3V488.1" stroke="#000" stroke-width="2.4" fill="none"/><path d="M1912.8 458.3h9.6M1912.8 488.1h9.6" stroke="#000" stroke-width="2.4" fill="none"/>
<circle cx="1917.6" cy="473.6" r="8.2" fill="#000"/>
<path d="M1917.6 499.9V529.3" stroke="#4c72b0" stroke-width="2.4" fill="none"/><path d="M1912.8 499.9h9.6M1912.8 529.3h9.6" stroke="#4c72b0" stroke-width="2.4" fill="none"/>
<path d="M1917.6 502.5L1924.9 514.7L1917.6 526.9L1910.3 514.7Z" fill="#4c72b0"/>
<path d="M1917.6 541.2V570.5" stroke="#66aa6d" stroke-width="2.4" fill="none"/><path d="M1912.8 541.2h9.6M1912.8 570.5h9.6" stroke="#66aa6d" stroke-width="2.4" fill="none"/>
<rect x="1909.1" y="547.2" width="17" height="17" fill="#66aa6d"/>
<text x="1955.1" y="439.1" font-size="28.7" text-anchor="start" >Best-fit</text>
<text x="1955.1" y="480.2" font-size="28.7" text-anchor="start" >HPF</text>
<text x="1955.1" y="521.4" font-size="28.7" text-anchor="start" >NEID</text>
<text x="1955.1" y="562.3" font-size="28.7" text-anchor="start" >FIES</text>
<g filter="url(#fat9)"><text class="lb" y="111" font-size="52.2" font-weight="bold" font-family="Liberation Sans, sans-serif"><tspan x="1494.6" letter-spacing="3.574" textLength="27" lengthAdjust="spacingAndGlyphs">c)</tspan> <tspan x="1532.5" letter-spacing="3.462" textLength="192" lengthAdjust="spacingAndGlyphs">Phase-folded</tspan> <tspan x="1736.7" letter-spacing="3.881" textLength="52.1" lengthAdjust="spacingAndGlyphs">RVs</tspan></text></g>
<path d="M1473.6 651.1H2061.4" stroke="#a8a8a8" stroke-width="1.4" stroke-dasharray="5.5 3.5"/>
<path d="M1578.3 612.7V645.2" stroke="#000" stroke-width="2.4" fill="none"/><path d="M1569.5 612.7h17.5M1569.5 645.2h17.5" stroke="#000" stroke-width="2.4" fill="none"/>
<path d="M1653.9 649.2V669.8" stroke="#000" stroke-width="2.4" fill="none"/><path d="M1645.2 649.2h17.5M1645.2 669.8h17.5" stroke="#000" stroke-width="2.4" fill="none"/>
<path d="M1679.7 647.2V663.2" stroke="#000" stroke-width="2.4" fill="none"/><path d="M1671 647.2h17.5M1671 663.2h17.5" stroke="#000" stroke-width="2.4" fill="none"/>
<path d="M1692 636.7V674" stroke="#000" stroke-width="2.4" fill="none"/><path d="M1683.2 636.7h17.5M1683.2 674h17.5" stroke="#000" stroke-width="2.4" fill="none"/>
<path d="M1814.3 639.3V660.9" stroke="#000" stroke-width="2.4" fill="none"/><path d="M1805.5 639.3h17.5M1805.5 660.9h17.5" stroke="#000" stroke-width="2.4" fill="none"/>
<path d="M1877.6 612.1V634.4" stroke="#000" stroke-width="2.4" fill="none"/><path d="M1868.8 612.1h17.5M1868.8 634.4h17.5" stroke="#000" stroke-width="2.4" fill="none"/>
<path d="M1883.7 636.7V657.1" stroke="#000" stroke-width="2.4" fill="none"/><path d="M1875 636.7h17.5M1875 657.1h17.5" stroke="#000" stroke-width="2.4" fill="none"/>
<path d="M1889.1 636.7V659.7" stroke="#000" stroke-width="2.4" fill="none"/><path d="M1880.3 636.7h17.5M1880.3 659.7h17.5" stroke="#000" stroke-width="2.4" fill="none"/>
<path d="M2030.5 636.7V654.1" stroke="#000" stroke-width="2.4" fill="none"/><path d="M2021.8 636.7h17.5M2021.8 654.1h17.5" stroke="#000" stroke-width="2.4" fill="none"/>
<path d="M2025.5 670.5V685.3" stroke="#000" stroke-width="2.4" fill="none"/><path d="M2016.8 670.5h17.5M2016.8 685.3h17.5" stroke="#000" stroke-width="2.4" fill="none"/>
<circle cx="1578.3" cy="629.2" r="8.2" fill="#000"/>
<circle cx="1653.9" cy="659.4" r="8.2" fill="#000"/>
<circle cx="1679.7" cy="655.3" r="8.2" fill="#000"/>
<circle cx="1692" cy="655.9" r="8.2" fill="#000"/>
<circle cx="1814.3" cy="650.1" r="8.2" fill="#000"/>
<circle cx="1877.6" cy="623.1" r="8.2" fill="#000"/>
<circle cx="1883.7" cy="646.1" r="8.2" fill="#000"/>
<circle cx="1889.1" cy="647.5" r="8.2" fill="#000"/>
<circle cx="2030.5" cy="645.4" r="8.2" fill="#000"/>
<circle cx="2025.5" cy="677.6" r="8.2" fill="#000"/>
<path d="M1800.6 620V630.9" stroke="#4c72b0" stroke-width="2.4" fill="none"/><path d="M1791.8 620h17.5M1791.8 630.9h17.5" stroke="#4c72b0" stroke-width="2.4" fill="none"/>
<path d="M1816.9 656.2V663.2" stroke="#4c72b0" stroke-width="2.4" fill="none"/><path d="M1808.2 656.2h17.5M1808.2 663.2h17.5" stroke="#4c72b0" stroke-width="2.4" fill="none"/>
<path d="M1830.4 655.9V663.2" stroke="#4c72b0" stroke-width="2.4" fill="none"/><path d="M1821.7 655.9h17.5M1821.7 663.2h17.5" stroke="#4c72b0" stroke-width="2.4" fill="none"/>
<path d="M1843.6 630.9V645.8" stroke="#4c72b0" stroke-width="2.4" fill="none"/><path d="M1834.8 630.9h17.5M1834.8 645.8h17.5" stroke="#4c72b0" stroke-width="2.4" fill="none"/>
<path d="M2000.7 628V642.3" stroke="#4c72b0" stroke-width="2.4" fill="none"/><path d="M1992 628h17.5M1992 642.3h17.5" stroke="#4c72b0" stroke-width="2.4" fill="none"/>
<path d="M2008.2 651.9V664.9" stroke="#4c72b0" stroke-width="2.4" fill="none"/><path d="M1999.5 651.9h17.5M1999.5 664.9h17.5" stroke="#4c72b0" stroke-width="2.4" fill="none"/>
<path d="M1531.9 636.2V655" stroke="#4c72b0" stroke-width="2.4" fill="none"/><path d="M1523.2 636.2h17.5M1523.2 655h17.5" stroke="#4c72b0" stroke-width="2.4" fill="none"/>
<path d="M1528.1 669.3V679.7" stroke="#4c72b0" stroke-width="2.4" fill="none"/><path d="M1519.3 669.3h17.5M1519.3 679.7h17.5" stroke="#4c72b0" stroke-width="2.4" fill="none"/>
<path d="M1800.6 613.2L1807.9 625.4L1800.6 637.6L1793.3 625.4Z" fill="#4c72b0"/>
<path d="M1816.9 647.5L1824.2 659.7L1816.9 671.9L1809.6 659.7Z" fill="#4c72b0"/>
<path d="M1830.4 647.5L1837.7 659.7L1830.4 671.9L1823.1 659.7Z" fill="#4c72b0"/>
<path d="M1843.6 625.2L1850.9 637.4L1843.6 649.6L1836.3 637.4Z" fill="#4c72b0"/>
<path d="M2000.7 624L2008 636.2L2000.7 648.4L1993.4 636.2Z" fill="#4c72b0"/>
<path d="M2008.2 646.1L2015.5 658.3L2008.2 670.5L2000.9 658.3Z" fill="#4c72b0"/>
<path d="M1531.9 633.3L1539.2 645.5L1531.9 657.7L1524.6 645.5Z" fill="#4c72b0"/>
<path d="M1528.1 661.8L1535.4 674L1528.1 686.2L1520.8 674Z" fill="#4c72b0"/>
<rect x="1603.2" y="633.4" width="17.8" height="17.8" fill="#66aa6d"/>
<rect x="1789.1" y="641.2" width="17.8" height="17.8" fill="#66aa6d"/>
<rect x="1849.9" y="655.5" width="17.8" height="17.8" fill="#66aa6d"/>
<rect x="1906.8" y="636.3" width="17.8" height="17.8" fill="#66aa6d"/>
<path d="M1499.4 695.1v-9.0M1633.4 695.1v-9.0M1767.4 695.1v-9.0M1901.4 695.1v-9.0M2035.4 695.1v-9.0" stroke="#111" stroke-width="1.9" fill="none"/>
<path d="M1526.2 695.1v-4.7M1553 695.1v-4.7M1579.8 695.1v-4.7M1606.6 695.1v-4.7M1660.2 695.1v-4.7M1687 695.1v-4.7M1713.8 695.1v-4.7M1740.6 695.1v-4.7M1794.2 695.1v-4.7M1821 695.1v-4.7M1847.8 695.1v-4.7M1874.6 695.1v-4.7M1928.2 695.1v-4.7M1955 695.1v-4.7M1981.8 695.1v-4.7M2008.6 695.1v-4.7" stroke="#111" stroke-width="1.3" fill="none"/>
<path d="M1473.6 685.9h9.5M1473.6 651.1h9.5M1473.6 616.4h9.5" stroke="#111" stroke-width="1.9" fill="none"/>
<path d="M1473.6 692.8h5.2M1473.6 678.9h5.2M1473.6 672h5.2M1473.6 665h5.2M1473.6 658.1h5.2M1473.6 644.1h5.2M1473.6 637.2h5.2M1473.6 630.2h5.2M1473.6 623.3h5.2M1473.6 609.4h5.2M1473.6 602.5h5.2" stroke="#111" stroke-width="1.3" fill="none"/>
<rect x="1473.6" y="602.4" width="587.8" height="92.7" fill="none" stroke="#111" stroke-width="2.0"/>
<text x="1458.1" y="727" font-size="34"><tspan textLength="23" lengthAdjust="spacingAndGlyphs">−</tspan>0.50</text>
<text x="1592.1" y="727" font-size="34"><tspan textLength="23" lengthAdjust="spacingAndGlyphs">−</tspan>0.25</text>
<text x="1737.7" y="727" font-size="34">0.00</text>
<text x="1871.7" y="727" font-size="34">0.25</text>
<text x="2005.7" y="727" font-size="34">0.50</text>
<text x="1767.6" y="774.2" font-size="44" text-anchor="middle" >Phase</text>
<g filter="url(#fat6)"><text class="lb" y="652.6" font-size="52.2" font-weight="bold" font-family="Liberation Sans, sans-serif"><tspan x="1500.3" letter-spacing="2.029" textLength="31.5" lengthAdjust="spacingAndGlyphs">d)</tspan></text></g>
<path d="M148.6 934.6V995.5" stroke="#222" stroke-width="1.2" fill="none"/><path d="M139.1 934.6h19M139.1 995.5h19" stroke="#222" stroke-width="1.4" fill="none"/>
<path d="M316.3 1250.6V1308.6" stroke="#222" stroke-width="1.2" fill="none"/><path d="M306.8 1250.6h19M306.8 1308.6h19" stroke="#222" stroke-width="1.4" fill="none"/>
<path d="M484.2 1183.9V1306.5" stroke="#222" stroke-width="1.2" fill="none"/><path d="M474.7 1183.9h19M474.7 1306.5h19" stroke="#222" stroke-width="1.4" fill="none"/>
<path d="M651.3 1244.3V1302" stroke="#222" stroke-width="1.2" fill="none"/><path d="M641.8 1244.3h19M641.8 1302h19" stroke="#222" stroke-width="1.4" fill="none"/>
<path d="M148.6 972.5V1000" stroke="#d42b42" stroke-width="1.2" fill="none"/><path d="M139.1 972.5h19M139.1 1000h19" stroke="#d42b42" stroke-width="1.4" fill="none"/>
<path d="M316.3 1246V1282.8" stroke="#d42b42" stroke-width="1.2" fill="none"/><path d="M306.8 1246h19M306.8 1282.8h19" stroke="#d42b42" stroke-width="1.4" fill="none"/>
<path d="M484.2 1202.3V1242" stroke="#d42b42" stroke-width="1.2" fill="none"/><path d="M474.7 1202.3h19M474.7 1242h19" stroke="#d42b42" stroke-width="1.4" fill="none"/>
<path d="M651.3 1256.9V1292.5" stroke="#d42b42" stroke-width="1.2" fill="none"/><path d="M641.8 1256.9h19M641.8 1292.5h19" stroke="#d42b42" stroke-width="1.4" fill="none"/>
<circle cx="148.6" cy="964.8" r="7.6" fill="#000"/>
<circle cx="316.3" cy="1279.7" r="7.6" fill="#000"/>
<circle cx="484.2" cy="1244.7" r="7.6" fill="#000"/>
<circle cx="651.3" cy="1273.6" r="7.6" fill="#000"/>
<circle cx="148.6" cy="986.9" r="7.6" fill="#d42b42"/>
<circle cx="316.3" cy="1264.4" r="7.6" fill="#d42b42"/>
<circle cx="484.2" cy="1222.2" r="7.6" fill="#d42b42"/>
<circle cx="651.3" cy="1274.9" r="7.6" fill="#d42b42"/>
<path d="M148.6 1327.2v-9.2M316.3 1327.2v-9.2M484.2 1327.2v-9.2M651.3 1327.2v-9.2" stroke="#111" stroke-width="2.0" fill="none"/>
<path d="M123.1 1262.5h9.2M123.1 1185.3h9.2M123.1 1108h9.2M123.1 1030.8h9.2M123.1 953.5h9.2M123.1 876.3h9.2" stroke="#111" stroke-width="2.0" fill="none"/>
<rect x="123.1" y="808.3" width="554.4" height="518.9" fill="none" stroke="#111" stroke-width="2.0"/>
<text x="50.1" y="1274.5" font-size="34"><tspan textLength="23" lengthAdjust="spacingAndGlyphs">−</tspan>0.1</text>
<text x="72.4" y="1197.3" font-size="34">0.0</text>
<text x="73.1" y="1120" font-size="34">0.1</text>
<text x="73" y="1042.8" font-size="34">0.2</text>
<text x="72.4" y="965.5" font-size="34">0.3</text>
<text x="71.6" y="888.3" font-size="34">0.4</text>
<text x="148.6" y="1358.4" font-size="34" text-anchor="middle" >A</text>
<text x="316.3" y="1358.4" font-size="34" text-anchor="middle" >B</text>
<text x="484.2" y="1358.4" font-size="34" text-anchor="middle" >F</text>
<text x="651.3" y="1358.4" font-size="34" text-anchor="middle" >G</text>
<text x="400.3" y="1405.5" font-size="44" text-anchor="middle" >Thiele-Innes coefficients</text>
<text transform="translate(42.3,1069.6) rotate(-90)" font-size="44" text-anchor="middle">Milliarcsec</text>
<g filter="url(#fat8)"><text class="lb" y="861.7" font-size="52.2" font-weight="bold" font-family="Liberation Sans, sans-serif"><tspan x="141.8" letter-spacing="2.618" textLength="31.6" lengthAdjust="spacingAndGlyphs">e)</tspan> <tspan x="185" letter-spacing="2.947" textLength="129.3" lengthAdjust="spacingAndGlyphs">Sampled</tspan> <tspan x="325.2" letter-spacing="3.216" textLength="26.3" lengthAdjust="spacingAndGlyphs">TI</tspan> <tspan x="362.2" letter-spacing="3.1" textLength="173.4" lengthAdjust="spacingAndGlyphs">Coefficients</tspan></text></g>
<path d="M814.7 905.1H1369.4" stroke="#f0403a" stroke-width="1.3" stroke-dasharray="3.3 1.7"/>
<path d="M814.7 1230.1H1369.4" stroke="#f0403a" stroke-width="1.3" stroke-dasharray="3.3 1.7"/>
<circle cx="840.4" cy="1187.3" r="8.3" fill="#d42b42"/>
<circle cx="924.3" cy="983.2" r="8.3" fill="#d42b42"/>
<circle cx="1008.2" cy="1006.6" r="8.3" fill="#d42b42"/>
<circle cx="1092" cy="1077.8" r="8.3" fill="#d42b42"/>
<circle cx="1175.9" cy="1208" r="8.3" fill="#d42b42"/>
<circle cx="1259.8" cy="962.5" r="8.3" fill="#d42b42"/>
<circle cx="1343.7" cy="1087.7" r="8.3" fill="#d42b42"/>
<path d="M840.4 1327.2v-9.2M924.3 1327.2v-9.2M1008.2 1327.2v-9.2M1092 1327.2v-9.2M1175.9 1327.2v-9.2M1259.8 1327.2v-9.2M1343.7 1327.2v-9.2" stroke="#111" stroke-width="2.0" fill="none"/>
<path d="M814.7 1311.3h9.2M814.7 1230.1h9.2M814.7 1148.8h9.2M814.7 1067.6h9.2M814.7 986.3h9.2M814.7 905.1h9.2M814.7 823.8h9.2" stroke="#111" stroke-width="2.0" fill="none"/>
<rect x="814.7" y="808.3" width="554.7" height="518.9" fill="none" stroke="#111" stroke-width="2.0"/>
<text x="740.8" y="1323.3" font-size="34"><tspan textLength="23" lengthAdjust="spacingAndGlyphs">−</tspan>1.5</text>
<text x="740.8" y="1242.1" font-size="34"><tspan textLength="23" lengthAdjust="spacingAndGlyphs">−</tspan>1.0</text>
<text x="740.8" y="1160.8" font-size="34"><tspan textLength="23" lengthAdjust="spacingAndGlyphs">−</tspan>0.5</text>
<text x="763.8" y="1079.6" font-size="34">0.0</text>
<text x="763.8" y="998.3" font-size="34">0.5</text>
<text x="763.8" y="917.1" font-size="34">1.0</text>
<text x="763.8" y="835.8" font-size="34">1.5</text>
<text x="840.4" y="1358.2" font-size="34" text-anchor="middle" >A</text>
<text x="924.3" y="1358.2" font-size="34" text-anchor="middle" >B</text>
<text x="1008.2" y="1358.2" font-size="34" text-anchor="middle" >F</text>
<text x="1092" y="1358.2" font-size="34" text-anchor="middle" >G</text>
<text x="1175.9" y="1358.2" font-size="34" text-anchor="middle" >e</text>
<text x="1259.8" y="1358.2" font-size="34" text-anchor="middle" >P</text>
<text x="1343.7" y="1358.2" font-size="34" text-anchor="middle"><tspan font-style="italic">t</tspan><tspan font-size="23.5" dy="6.5">peri</tspan></text>
<text x="1091.8" y="1404.9" font-size="44" text-anchor="middle" >Parameters</text>
<text transform="translate(723.5,1069.3) rotate(-90)" font-size="44" text-anchor="middle">Z-score</text>
<g filter="url(#fat9)"><text class="lb" y="861.7" font-size="52.2" font-weight="bold" font-family="Liberation Sans, sans-serif"><tspan x="839.7" letter-spacing="2.891" textLength="25.2" lengthAdjust="spacingAndGlyphs">f)</tspan> <tspan x="875.3" letter-spacing="3.786" textLength="117.9" lengthAdjust="spacingAndGlyphs">Z-scores</tspan></text></g>
<g clip-path="url(#cg)" fill="none">
<g stroke="#000" stroke-width="1.2" stroke-opacity="0.25">
<ellipse cx="1763.8" cy="1033.7" rx="60.9" ry="138.1" transform="rotate(18.6 1763.8 1033.7)"/>
<ellipse cx="1755.7" cy="1057.7" rx="66.2" ry="164.3" transform="rotate(21.5 1755.7 1057.7)"/>
<ellipse cx="1772.8" cy="1017.4" rx="67.4" ry="121.2" transform="rotate(16 1772.8 1017.4)"/>
<ellipse cx="1771.7" cy="1028.5" rx="53.7" ry="104.1" transform="rotate(16.2 1771.7 1028.5)"/>
<ellipse cx="1769.3" cy="1025.5" rx="62.2" ry="130.8" transform="rotate(19.5 1769.3 1025.5)"/>
<ellipse cx="1761.8" cy="1030.9" rx="54" ry="114.9" transform="rotate(22.1 1761.8 1030.9)"/>
<ellipse cx="1760.6" cy="1046.6" rx="68.5" ry="150.9" transform="rotate(20.3 1760.6 1046.6)"/>
<ellipse cx="1762.3" cy="1037.8" rx="52.3" ry="125.4" transform="rotate(21.8 1762.3 1037.8)"/>
<ellipse cx="1747.2" cy="1084" rx="59.9" ry="182.1" transform="rotate(20.9 1747.2 1084)"/>
<ellipse cx="1756.5" cy="1040.8" rx="72.9" ry="144.9" transform="rotate(23.5 1756.5 1040.8)"/>
<ellipse cx="1770.8" cy="1021.6" rx="57.4" ry="127.2" transform="rotate(18 1770.8 1021.6)"/>
<ellipse cx="1753.1" cy="1044.1" rx="66.8" ry="164.4" transform="rotate(21.8 1753.1 1044.1)"/>
<ellipse cx="1766.6" cy="1030.7" rx="68.3" ry="127.8" transform="rotate(18.8 1766.6 1030.7)"/>
<ellipse cx="1751.8" cy="1064.7" rx="68.4" ry="167.9" transform="rotate(21.3 1751.8 1064.7)"/>
<ellipse cx="1771.8" cy="1017.6" rx="59" ry="117.5" transform="rotate(22.3 1771.8 1017.6)"/>
<ellipse cx="1764.3" cy="1042.4" rx="76.2" ry="145.8" transform="rotate(19.9 1764.3 1042.4)"/>
<ellipse cx="1760.4" cy="1043.1" rx="49.7" ry="130" transform="rotate(19 1760.4 1043.1)"/>
<ellipse cx="1746.1" cy="1083.8" rx="67" ry="193.5" transform="rotate(21.3 1746.1 1083.8)"/>
<ellipse cx="1770.1" cy="1027.9" rx="67.8" ry="128.2" transform="rotate(17 1770.1 1027.9)"/>
<ellipse cx="1771.3" cy="1016.2" rx="57.5" ry="119.6" transform="rotate(21.8 1771.3 1016.2)"/>
<ellipse cx="1773.6" cy="1021.6" rx="51.6" ry="124.8" transform="rotate(16.6 1773.6 1021.6)"/>
<ellipse cx="1761.2" cy="1061.3" rx="67.6" ry="135.3" transform="rotate(17.9 1761.2 1061.3)"/>
<ellipse cx="1773" cy="1012.3" rx="70.3" ry="116.7" transform="rotate(19.1 1773 1012.3)"/>
<ellipse cx="1769.3" cy="1017.7" rx="58.8" ry="119" transform="rotate(19.3 1769.3 1017.7)"/>
<ellipse cx="1769.8" cy="1018.6" rx="58.7" ry="113.1" transform="rotate(21.7 1769.8 1018.6)"/>
<ellipse cx="1767.5" cy="1029.1" rx="62.3" ry="122.8" transform="rotate(18.6 1767.5 1029.1)"/>
<ellipse cx="1771.2" cy="1029.1" rx="54.4" ry="112.1" transform="rotate(16.8 1771.2 1029.1)"/>
<ellipse cx="1780.3" cy="1005.7" rx="62.8" ry="126.1" transform="rotate(14.9 1780.3 1005.7)"/>
<ellipse cx="1767.7" cy="1030.8" rx="69.1" ry="133.7" transform="rotate(18.3 1767.7 1030.8)"/>
<ellipse cx="1769.4" cy="1022.6" rx="55.2" ry="110.2" transform="rotate(20.1 1769.4 1022.6)"/>
<ellipse cx="1769.4" cy="1025.3" rx="60.6" ry="122.1" transform="rotate(19.1 1769.4 1025.3)"/>
<ellipse cx="1771.4" cy="1036" rx="68.2" ry="154.4" transform="rotate(16.4 1771.4 1036)"/>
<ellipse cx="1771.7" cy="1021.2" rx="74.1" ry="137.2" transform="rotate(21.7 1771.7 1021.2)"/>
<ellipse cx="1753.6" cy="1066.6" rx="77.5" ry="166.1" transform="rotate(21.6 1753.6 1066.6)"/>
<ellipse cx="1753.8" cy="1048" rx="61.9" ry="181.5" transform="rotate(22.4 1753.8 1048)"/>
<ellipse cx="1760.6" cy="1045.3" rx="53.4" ry="149.9" transform="rotate(20.6 1760.6 1045.3)"/>
<ellipse cx="1764.3" cy="1030.6" rx="55.2" ry="131.6" transform="rotate(19.2 1764.3 1030.6)"/>
<ellipse cx="1761.2" cy="1049.5" rx="65.1" ry="130.8" transform="rotate(17.4 1761.2 1049.5)"/>
<ellipse cx="1769.5" cy="1024.9" rx="54.8" ry="113.9" transform="rotate(20.3 1769.5 1024.9)"/>
<ellipse cx="1773.6" cy="999.4" rx="68.6" ry="130.9" transform="rotate(19.3 1773.6 999.4)"/>
<ellipse cx="1765.1" cy="1047.7" rx="68" ry="144.5" transform="rotate(19.2 1765.1 1047.7)"/>
<ellipse cx="1777" cy="1011.5" rx="49.3" ry="112.6" transform="rotate(11.1 1777 1011.5)"/>
<ellipse cx="1768.8" cy="1020.6" rx="64" ry="142.8" transform="rotate(22.5 1768.8 1020.6)"/>
<ellipse cx="1767.4" cy="1027.9" rx="71.2" ry="132.1" transform="rotate(21 1767.4 1027.9)"/>
<ellipse cx="1764.7" cy="1046.3" rx="71.9" ry="135.1" transform="rotate(16.7 1764.7 1046.3)"/>
<ellipse cx="1775.7" cy="1015.7" rx="70.4" ry="117.1" transform="rotate(18.2 1775.7 1015.7)"/>
<ellipse cx="1772.4" cy="1006" rx="61.3" ry="114.4" transform="rotate(19.4 1772.4 1006)"/>
<ellipse cx="1772.2" cy="1029.9" rx="66.4" ry="127.9" transform="rotate(19.6 1772.2 1029.9)"/>
<ellipse cx="1768.9" cy="1027.7" rx="72.1" ry="122.9" transform="rotate(21.9 1768.9 1027.7)"/>
<ellipse cx="1768.9" cy="1026.8" rx="66.9" ry="139.3" transform="rotate(19.2 1768.9 1026.8)"/>
<ellipse cx="1773.1" cy="1031.3" rx="68.7" ry="154" transform="rotate(18.3 1773.1 1031.3)"/>
<ellipse cx="1770.9" cy="1027.9" rx="60.3" ry="137.4" transform="rotate(19.5 1770.9 1027.9)"/>
<ellipse cx="1770.4" cy="1029.3" rx="64.3" ry="126.3" transform="rotate(15.6 1770.4 1029.3)"/>
<ellipse cx="1753.3" cy="1049.9" rx="70.9" ry="145.2" transform="rotate(23.8 1753.3 1049.9)"/>
<ellipse cx="1769.4" cy="1038.1" rx="58" ry="131.8" transform="rotate(20.9 1769.4 1038.1)"/>
<ellipse cx="1767.4" cy="1027.8" rx="66.3" ry="127.6" transform="rotate(16.5 1767.4 1027.8)"/>
<ellipse cx="1775.9" cy="1010.1" rx="77.4" ry="129.7" transform="rotate(20 1775.9 1010.1)"/>
<ellipse cx="1777.3" cy="1014.9" rx="62.3" ry="143.2" transform="rotate(19.7 1777.3 1014.9)"/>
<ellipse cx="1773" cy="1011" rx="63" ry="127.1" transform="rotate(20.1 1773 1011)"/>
<ellipse cx="1765.4" cy="1032.6" rx="67.5" ry="139.5" transform="rotate(20.3 1765.4 1032.6)"/>
<ellipse cx="1758.5" cy="1074.1" rx="74.3" ry="185.2" transform="rotate(16.4 1758.5 1074.1)"/>
<ellipse cx="1757.1" cy="1055" rx="51" ry="133.2" transform="rotate(19 1757.1 1055)"/>
<ellipse cx="1751.7" cy="1082.3" rx="66.6" ry="196.9" transform="rotate(17.9 1751.7 1082.3)"/>
<ellipse cx="1773.2" cy="1017.7" rx="54.8" ry="117.3" transform="rotate(22.1 1773.2 1017.7)"/>
<ellipse cx="1772.1" cy="1015.4" rx="67.2" ry="133.2" transform="rotate(18.5 1772.1 1015.4)"/>
<ellipse cx="1772.6" cy="1023.4" rx="55.7" ry="107.2" transform="rotate(19.8 1772.6 1023.4)"/>
<ellipse cx="1770.9" cy="1031.9" rx="59.1" ry="109.9" transform="rotate(18.5 1770.9 1031.9)"/>
<ellipse cx="1767.1" cy="1011.9" rx="67.7" ry="119.5" transform="rotate(20.5 1767.1 1011.9)"/>
<ellipse cx="1764" cy="1030.4" rx="69.8" ry="153.8" transform="rotate(19.1 1764 1030.4)"/>
<ellipse cx="1769.5" cy="1008.1" rx="69.4" ry="147.6" transform="rotate(20 1769.5 1008.1)"/>
<ellipse cx="1755" cy="1049.9" rx="76.8" ry="151" transform="rotate(20.9 1755 1049.9)"/>
<ellipse cx="1769.4" cy="1026.4" rx="59.1" ry="122.3" transform="rotate(17.4 1769.4 1026.4)"/>
<ellipse cx="1773.1" cy="1022.6" rx="63" ry="110.2" transform="rotate(15.5 1773.1 1022.6)"/>
<ellipse cx="1765.6" cy="1019.8" rx="57.3" ry="115.5" transform="rotate(23.1 1765.6 1019.8)"/>
<ellipse cx="1771.6" cy="1024" rx="70.3" ry="131.8" transform="rotate(19.2 1771.6 1024)"/>
<ellipse cx="1768.1" cy="1015.2" rx="62.5" ry="118.7" transform="rotate(21.8 1768.1 1015.2)"/>
<ellipse cx="1775.9" cy="1013.4" rx="54.8" ry="114.4" transform="rotate(14.8 1775.9 1013.4)"/>
<ellipse cx="1778.2" cy="1006.8" rx="60.9" ry="123.6" transform="rotate(16.5 1778.2 1006.8)"/>
<ellipse cx="1765.5" cy="1023.9" rx="56" ry="117" transform="rotate(20.5 1765.5 1023.9)"/>
<ellipse cx="1770.6" cy="1019.7" rx="54.7" ry="105.7" transform="rotate(19.9 1770.6 1019.7)"/>
<ellipse cx="1767.9" cy="1029.2" rx="59.6" ry="134.6" transform="rotate(15.8 1767.9 1029.2)"/>
<ellipse cx="1762.2" cy="1053.2" rx="57.9" ry="138.4" transform="rotate(16.5 1762.2 1053.2)"/>
<ellipse cx="1771.4" cy="1006" rx="60.6" ry="128.9" transform="rotate(18.6 1771.4 1006)"/>
<ellipse cx="1751.1" cy="1065.4" rx="65.2" ry="158.4" transform="rotate(18.1 1751.1 1065.4)"/>
<ellipse cx="1769" cy="1032.1" rx="63.8" ry="129.4" transform="rotate(16.8 1769 1032.1)"/>
<ellipse cx="1759" cy="1058" rx="69.8" ry="162.1" transform="rotate(18.3 1759 1058)"/>
<ellipse cx="1768.2" cy="1023.1" rx="55" ry="118.2" transform="rotate(20.9 1768.2 1023.1)"/>
<ellipse cx="1768" cy="1024.5" rx="59.8" ry="131.5" transform="rotate(19 1768 1024.5)"/>
<ellipse cx="1769" cy="1028" rx="67.1" ry="134.2" transform="rotate(16.3 1769 1028)"/>
<ellipse cx="1772.6" cy="1012.5" rx="60.4" ry="111.1" transform="rotate(18.8 1772.6 1012.5)"/>
<ellipse cx="1767.4" cy="1018.6" rx="58" ry="117.4" transform="rotate(19.6 1767.4 1018.6)"/>
<ellipse cx="1761.3" cy="1027.8" rx="64.3" ry="136.8" transform="rotate(21.1 1761.3 1027.8)"/>
<ellipse cx="1767.7" cy="1030.5" rx="71.1" ry="140.2" transform="rotate(18.1 1767.7 1030.5)"/>
<ellipse cx="1768.2" cy="1033.4" rx="58.8" ry="145.2" transform="rotate(21.1 1768.2 1033.4)"/>
<ellipse cx="1761.5" cy="1024.1" rx="77.1" ry="143.9" transform="rotate(19.3 1761.5 1024.1)"/>
<ellipse cx="1771.5" cy="1010.1" rx="59.1" ry="118.7" transform="rotate(22.5 1771.5 1010.1)"/>
<ellipse cx="1749.1" cy="1068" rx="72.1" ry="179.1" transform="rotate(19.9 1749.1 1068)"/>
<ellipse cx="1758.3" cy="1039.4" rx="66" ry="135.8" transform="rotate(22.3 1758.3 1039.4)"/>
<ellipse cx="1760.1" cy="1042.6" rx="76.6" ry="147" transform="rotate(20.9 1760.1 1042.6)"/>
<ellipse cx="1773.7" cy="1015.1" rx="67.5" ry="122.4" transform="rotate(19.2 1773.7 1015.1)"/>
<ellipse cx="1769.9" cy="1036.6" rx="53.5" ry="115.2" transform="rotate(13.9 1769.9 1036.6)"/>
<ellipse cx="1757.8" cy="1026.2" rx="70.3" ry="146" transform="rotate(21.7 1757.8 1026.2)"/>
<ellipse cx="1761.5" cy="1039.1" rx="79.8" ry="142.2" transform="rotate(22.7 1761.5 1039.1)"/>
<ellipse cx="1765.5" cy="1043.5" rx="69.8" ry="150.9" transform="rotate(22.2 1765.5 1043.5)"/>
<ellipse cx="1771.6" cy="1031" rx="73.9" ry="130.7" transform="rotate(19.5 1771.6 1031)"/>
<ellipse cx="1759.7" cy="1030.2" rx="66.6" ry="122.9" transform="rotate(22.2 1759.7 1030.2)"/>
<ellipse cx="1761.8" cy="1040.5" rx="54.1" ry="132.4" transform="rotate(22.4 1761.8 1040.5)"/>
<ellipse cx="1766.8" cy="1017.7" rx="64.4" ry="129.1" transform="rotate(22.2 1766.8 1017.7)"/>
<ellipse cx="1760.9" cy="1037" rx="68.2" ry="130.3" transform="rotate(20.4 1760.9 1037)"/>
<ellipse cx="1766.1" cy="1022.4" rx="66.2" ry="127.8" transform="rotate(21.8 1766.1 1022.4)"/>
<ellipse cx="1756.9" cy="1057.8" rx="85" ry="156.9" transform="rotate(20.3 1756.9 1057.8)"/>
<ellipse cx="1768.8" cy="1016.1" rx="71.6" ry="141.4" transform="rotate(20.7 1768.8 1016.1)"/>
<ellipse cx="1770.2" cy="1025.1" rx="51.5" ry="104.9" transform="rotate(19 1770.2 1025.1)"/>
<ellipse cx="1768.4" cy="1019.5" rx="61" ry="131.9" transform="rotate(18.6 1768.4 1019.5)"/>
<ellipse cx="1772.7" cy="1022.2" rx="67.3" ry="140.1" transform="rotate(19.1 1772.7 1022.2)"/>
<ellipse cx="1766.1" cy="1026.6" rx="70.4" ry="108.3" transform="rotate(21.8 1766.1 1026.6)"/>
<ellipse cx="1744.8" cy="1075.3" rx="70.9" ry="193.8" transform="rotate(23.8 1744.8 1075.3)"/>
<ellipse cx="1772.7" cy="1018.2" rx="77.6" ry="129.9" transform="rotate(20.9 1772.7 1018.2)"/>
<ellipse cx="1755.1" cy="1053.1" rx="64.6" ry="131" transform="rotate(21.6 1755.1 1053.1)"/>
<ellipse cx="1761.8" cy="1047" rx="59.5" ry="127.6" transform="rotate(18.3 1761.8 1047)"/>
<ellipse cx="1744.5" cy="1066.9" rx="71.6" ry="144" transform="rotate(25.1 1744.5 1066.9)"/>
<ellipse cx="1761.6" cy="1028" rx="53.6" ry="108.2" transform="rotate(19.6 1761.6 1028)"/>
<ellipse cx="1774.3" cy="1011.3" rx="62.1" ry="118.3" transform="rotate(18.5 1774.3 1011.3)"/>
<ellipse cx="1771.3" cy="1025.7" rx="61.6" ry="120.1" transform="rotate(24.1 1771.3 1025.7)"/>
<ellipse cx="1765.5" cy="1033.7" rx="84.4" ry="156.1" transform="rotate(19.8 1765.5 1033.7)"/>
<ellipse cx="1767.6" cy="1033.1" rx="64.7" ry="132.2" transform="rotate(17 1767.6 1033.1)"/>
<ellipse cx="1769.2" cy="1011.5" rx="77.5" ry="147.5" transform="rotate(21.4 1769.2 1011.5)"/>
<ellipse cx="1753.7" cy="1046" rx="69.9" ry="150.6" transform="rotate(23.9 1753.7 1046)"/>
<ellipse cx="1770" cy="1021.5" rx="52.1" ry="125.6" transform="rotate(17.8 1770 1021.5)"/>
<ellipse cx="1762.2" cy="1034.9" rx="58.8" ry="149.2" transform="rotate(21.7 1762.2 1034.9)"/>
<ellipse cx="1759" cy="1042.2" rx="51.5" ry="138.4" transform="rotate(18.9 1759 1042.2)"/>
<ellipse cx="1759.7" cy="1038.6" rx="75.9" ry="135" transform="rotate(19.3 1759.7 1038.6)"/>
<ellipse cx="1765.4" cy="1021.5" rx="62.6" ry="115.3" transform="rotate(17.8 1765.4 1021.5)"/>
<ellipse cx="1768.7" cy="1022.5" rx="68.6" ry="135.7" transform="rotate(21.2 1768.7 1022.5)"/>
<ellipse cx="1770.1" cy="1029.3" rx="74.8" ry="149.3" transform="rotate(16.2 1770.1 1029.3)"/>
<ellipse cx="1761.9" cy="1033" rx="76.8" ry="134.5" transform="rotate(20 1761.9 1033)"/>
<ellipse cx="1763" cy="1035.7" rx="54.6" ry="116.3" transform="rotate(19.8 1763 1035.7)"/>
<ellipse cx="1765.7" cy="1013.3" rx="71.6" ry="126.5" transform="rotate(25.9 1765.7 1013.3)"/>
<ellipse cx="1771.1" cy="1022" rx="54.6" ry="118.2" transform="rotate(18.2 1771.1 1022)"/>
<ellipse cx="1771.1" cy="1024.6" rx="47.2" ry="113.4" transform="rotate(15.8 1771.1 1024.6)"/>
<ellipse cx="1768.9" cy="1025.5" rx="62.7" ry="130.7" transform="rotate(21.6 1768.9 1025.5)"/>
<ellipse cx="1771" cy="1018.7" rx="59.1" ry="120.4" transform="rotate(16.5 1771 1018.7)"/>
<ellipse cx="1766.1" cy="1022" rx="68.2" ry="146.7" transform="rotate(22.1 1766.1 1022)"/>
<ellipse cx="1766.1" cy="1022" rx="65.5" ry="124.2" transform="rotate(22.5 1766.1 1022)"/>
<ellipse cx="1762.7" cy="1035.8" rx="59.3" ry="116.1" transform="rotate(22.8 1762.7 1035.8)"/>
<ellipse cx="1773.9" cy="1010.9" rx="78.4" ry="124.6" transform="rotate(21.3 1773.9 1010.9)"/>
<ellipse cx="1751.2" cy="1071.1" rx="71.7" ry="179.7" transform="rotate(21.7 1751.2 1071.1)"/>
<ellipse cx="1761.6" cy="1036.3" rx="66.4" ry="135.2" transform="rotate(19.4 1761.6 1036.3)"/>
<ellipse cx="1756" cy="1044.6" rx="67.6" ry="150.8" transform="rotate(21.7 1756 1044.6)"/>
<ellipse cx="1769" cy="1014" rx="77.1" ry="120.6" transform="rotate(24.4 1769 1014)"/>
<ellipse cx="1774.1" cy="1028" rx="79.7" ry="139.9" transform="rotate(16.4 1774.1 1028)"/>
<ellipse cx="1756.4" cy="1061" rx="65.7" ry="165.6" transform="rotate(21 1756.4 1061)"/>
<ellipse cx="1764" cy="1037.6" rx="52.8" ry="142.2" transform="rotate(22.1 1764 1037.6)"/>
<ellipse cx="1768.4" cy="1029.7" rx="63.6" ry="134.9" transform="rotate(17.9 1768.4 1029.7)"/>
<ellipse cx="1780.6" cy="1007.9" rx="62.1" ry="125.1" transform="rotate(16.6 1780.6 1007.9)"/>
<ellipse cx="1769.6" cy="1014.3" rx="67" ry="116.7" transform="rotate(22.3 1769.6 1014.3)"/>
<ellipse cx="1761.9" cy="1039.4" rx="72.8" ry="149.8" transform="rotate(19.8 1761.9 1039.4)"/>
<ellipse cx="1770" cy="1034.9" rx="60.8" ry="130.4" transform="rotate(18.6 1770 1034.9)"/>
<ellipse cx="1752.9" cy="1041.4" rx="74.7" ry="152.7" transform="rotate(25.7 1752.9 1041.4)"/>
<ellipse cx="1771.5" cy="1019.6" rx="78.9" ry="133.4" transform="rotate(14.6 1771.5 1019.6)"/>
<ellipse cx="1764" cy="1040.2" rx="70.7" ry="153.5" transform="rotate(21.1 1764 1040.2)"/>
<ellipse cx="1765.2" cy="1052.4" rx="74.7" ry="154.3" transform="rotate(17.5 1765.2 1052.4)"/>
<ellipse cx="1768.1" cy="1018.8" rx="56.6" ry="119.3" transform="rotate(17.1 1768.1 1018.8)"/>
<ellipse cx="1761.5" cy="1037.3" rx="66.8" ry="141.9" transform="rotate(22.4 1761.5 1037.3)"/>
<ellipse cx="1763.5" cy="1040.3" rx="65.5" ry="143.1" transform="rotate(19.2 1763.5 1040.3)"/>
<ellipse cx="1768.8" cy="1016.4" rx="60.7" ry="121.4" transform="rotate(20.6 1768.8 1016.4)"/>
<ellipse cx="1769.9" cy="1035.2" rx="83.1" ry="142.4" transform="rotate(20.7 1769.9 1035.2)"/>
<ellipse cx="1773" cy="1014.2" rx="69.9" ry="130.1" transform="rotate(19.6 1773 1014.2)"/>
<ellipse cx="1770.6" cy="1012.9" rx="47.4" ry="112.3" transform="rotate(20.2 1770.6 1012.9)"/>
<ellipse cx="1767.7" cy="1031" rx="53.6" ry="124.2" transform="rotate(15.2 1767.7 1031)"/>
<ellipse cx="1761.9" cy="1029" rx="49.6" ry="105.9" transform="rotate(21 1761.9 1029)"/>
<ellipse cx="1767.3" cy="1021.6" rx="69.5" ry="129.8" transform="rotate(23.9 1767.3 1021.6)"/>
<ellipse cx="1770.8" cy="1016.1" rx="61.6" ry="121" transform="rotate(21.5 1770.8 1016.1)"/>
<ellipse cx="1776.2" cy="999.1" rx="72.8" ry="125.7" transform="rotate(18.4 1776.2 999.1)"/>
<ellipse cx="1767.6" cy="1014.2" rx="74.8" ry="114.9" transform="rotate(22.2 1767.6 1014.2)"/>
<ellipse cx="1771.5" cy="1030.6" rx="56.3" ry="120.4" transform="rotate(17.8 1771.5 1030.6)"/>
<ellipse cx="1766.2" cy="1016.5" rx="57.3" ry="133" transform="rotate(17.8 1766.2 1016.5)"/>
<ellipse cx="1767.4" cy="1013.9" rx="78.4" ry="129" transform="rotate(22.4 1767.4 1013.9)"/>
<ellipse cx="1756" cy="1046.1" rx="65.4" ry="164.6" transform="rotate(19.9 1756 1046.1)"/>
<ellipse cx="1771.4" cy="1015.2" rx="71.2" ry="138.7" transform="rotate(20.2 1771.4 1015.2)"/>
<ellipse cx="1777.4" cy="1003.4" rx="60.5" ry="120.9" transform="rotate(19.6 1777.4 1003.4)"/>
<ellipse cx="1775.7" cy="1029.1" rx="62.4" ry="117.2" transform="rotate(17.8 1775.7 1029.1)"/>
<ellipse cx="1778.6" cy="998.6" rx="86.7" ry="132.4" transform="rotate(21.3 1778.6 998.6)"/>
<ellipse cx="1767.3" cy="1022.3" rx="59.8" ry="123.3" transform="rotate(21.3 1767.3 1022.3)"/>
<ellipse cx="1774.8" cy="1019.6" rx="55.3" ry="115" transform="rotate(18.9 1774.8 1019.6)"/>
<ellipse cx="1764.4" cy="1035.6" rx="69.6" ry="144.9" transform="rotate(19.5 1764.4 1035.6)"/>
<ellipse cx="1773.6" cy="1011.4" rx="65.4" ry="124.4" transform="rotate(17.5 1773.6 1011.4)"/>
<ellipse cx="1760.3" cy="1034.9" rx="71.7" ry="130.7" transform="rotate(17.7 1760.3 1034.9)"/>
<ellipse cx="1765" cy="1058.1" rx="57.8" ry="150.6" transform="rotate(18.2 1765 1058.1)"/>
<ellipse cx="1766" cy="1026.4" rx="83.6" ry="135" transform="rotate(22.9 1766 1026.4)"/>
<ellipse cx="1761.2" cy="1037.2" rx="61.8" ry="147.2" transform="rotate(20 1761.2 1037.2)"/>
<ellipse cx="1766.5" cy="1031.1" rx="60.4" ry="133.9" transform="rotate(19.4 1766.5 1031.1)"/>
<ellipse cx="1762.5" cy="1048.4" rx="65" ry="158.5" transform="rotate(16 1762.5 1048.4)"/>
<ellipse cx="1769.8" cy="1026.9" rx="65.4" ry="137.2" transform="rotate(19.7 1769.8 1026.9)"/>
<ellipse cx="1758.1" cy="1025.5" rx="55.7" ry="124.6" transform="rotate(23.6 1758.1 1025.5)"/>
<ellipse cx="1765.4" cy="1035.1" rx="60.2" ry="134.2" transform="rotate(19.6 1765.4 1035.1)"/>
<ellipse cx="1775.2" cy="1012.7" rx="55.7" ry="113.4" transform="rotate(17.9 1775.2 1012.7)"/>
<ellipse cx="1762.3" cy="1042.7" rx="78.8" ry="156" transform="rotate(22.9 1762.3 1042.7)"/>
<ellipse cx="1774.4" cy="1018.7" rx="76" ry="140" transform="rotate(16.2 1774.4 1018.7)"/>
<ellipse cx="1769.2" cy="1027.9" rx="59.1" ry="123.3" transform="rotate(15.2 1769.2 1027.9)"/>
<ellipse cx="1758.9" cy="1046.1" rx="68.8" ry="151.1" transform="rotate(19.5 1758.9 1046.1)"/>
<ellipse cx="1765.6" cy="1021.4" rx="77.9" ry="131.6" transform="rotate(19.5 1765.6 1021.4)"/>
<ellipse cx="1766.5" cy="1017.8" rx="65.6" ry="110.2" transform="rotate(19.9 1766.5 1017.8)"/>
<ellipse cx="1760.5" cy="1052.4" rx="67.3" ry="166" transform="rotate(19.4 1760.5 1052.4)"/>
<ellipse cx="1757.2" cy="1048.9" rx="82.3" ry="163.7" transform="rotate(23.6 1757.2 1048.9)"/>
<ellipse cx="1761.4" cy="1036.1" rx="57.7" ry="119.8" transform="rotate(21.9 1761.4 1036.1)"/>
<ellipse cx="1752.2" cy="1067.2" rx="70.5" ry="160.6" transform="rotate(22.6 1752.2 1067.2)"/>
<ellipse cx="1777.1" cy="1008.2" rx="58.9" ry="114.4" transform="rotate(16.8 1777.1 1008.2)"/>
<ellipse cx="1769.9" cy="1013.7" rx="82" ry="133.9" transform="rotate(18.4 1769.9 1013.7)"/>
<ellipse cx="1763.7" cy="1034.6" rx="74" ry="142.3" transform="rotate(18.6 1763.7 1034.6)"/>
<ellipse cx="1770.5" cy="1045.6" rx="72.1" ry="149.6" transform="rotate(19.7 1770.5 1045.6)"/>
<ellipse cx="1753.8" cy="1064.2" rx="68.1" ry="160.2" transform="rotate(22.1 1753.8 1064.2)"/>
<ellipse cx="1769" cy="1026.7" rx="67.5" ry="147.5" transform="rotate(21 1769 1026.7)"/>
<ellipse cx="1763.5" cy="1025.7" rx="83.7" ry="150.3" transform="rotate(20.2 1763.5 1025.7)"/>
<ellipse cx="1769.9" cy="1021.6" rx="52.6" ry="108.1" transform="rotate(22.4 1769.9 1021.6)"/>
<ellipse cx="1764.1" cy="1038.2" rx="73.7" ry="166.2" transform="rotate(20.3 1764.1 1038.2)"/>
<ellipse cx="1763.3" cy="1031.1" rx="53" ry="128.4" transform="rotate(20.3 1763.3 1031.1)"/>
<ellipse cx="1769.3" cy="1046.6" rx="75.8" ry="151.3" transform="rotate(16 1769.3 1046.6)"/>
<ellipse cx="1764.4" cy="1045.5" rx="48.2" ry="140.7" transform="rotate(18 1764.4 1045.5)"/>
<ellipse cx="1771.7" cy="1024.9" rx="61.8" ry="148.7" transform="rotate(23.3 1771.7 1024.9)"/>
<ellipse cx="1765.6" cy="1024.6" rx="70.9" ry="129.4" transform="rotate(26.3 1765.6 1024.6)"/>
<ellipse cx="1768.8" cy="1031.4" rx="82.5" ry="151.9" transform="rotate(16.8 1768.8 1031.4)"/>
<ellipse cx="1760" cy="1044.1" rx="73.3" ry="153.1" transform="rotate(18.1 1760 1044.1)"/>
<ellipse cx="1766.6" cy="1018.1" rx="55.8" ry="123.2" transform="rotate(18.2 1766.6 1018.1)"/>
<ellipse cx="1762.9" cy="1018.5" rx="58.4" ry="105.7" transform="rotate(24.3 1762.9 1018.5)"/>
<ellipse cx="1752.9" cy="1049.1" rx="65" ry="147.1" transform="rotate(24.3 1752.9 1049.1)"/>
<ellipse cx="1769.8" cy="1022.4" rx="59.2" ry="109.1" transform="rotate(15.9 1769.8 1022.4)"/>
<ellipse cx="1758.4" cy="1033.7" rx="74.6" ry="147.6" transform="rotate(21.3 1758.4 1033.7)"/>
<ellipse cx="1766.8" cy="1039.5" rx="51.7" ry="138.2" transform="rotate(19.1 1766.8 1039.5)"/>
<ellipse cx="1780.7" cy="1001.2" rx="59.5" ry="123.8" transform="rotate(21.6 1780.7 1001.2)"/>
<ellipse cx="1763" cy="1023.3" rx="74.3" ry="142.2" transform="rotate(17.9 1763 1023.3)"/>
<ellipse cx="1770.5" cy="1025.4" rx="70.1" ry="165.9" transform="rotate(23.6 1770.5 1025.4)"/>
<ellipse cx="1769.9" cy="1018.5" rx="70" ry="143.2" transform="rotate(14.1 1769.9 1018.5)"/>
<ellipse cx="1772.8" cy="1017.1" rx="62.3" ry="120.6" transform="rotate(24.2 1772.8 1017.1)"/>
<ellipse cx="1751.2" cy="1052.4" rx="67.9" ry="159.6" transform="rotate(22.5 1751.2 1052.4)"/>
<ellipse cx="1774" cy="1017.1" rx="70.2" ry="115.2" transform="rotate(17.4 1774 1017.1)"/>
<ellipse cx="1767.5" cy="1020.8" rx="67.1" ry="112.3" transform="rotate(25.3 1767.5 1020.8)"/>
<ellipse cx="1760.7" cy="1047.1" rx="72.1" ry="141.8" transform="rotate(20.6 1760.7 1047.1)"/>
<ellipse cx="1768.5" cy="1016.3" rx="54.9" ry="128.6" transform="rotate(18.4 1768.5 1016.3)"/>
<ellipse cx="1771.4" cy="1018.6" rx="64.9" ry="119.2" transform="rotate(15.8 1771.4 1018.6)"/>
<ellipse cx="1765" cy="1051.3" rx="71.9" ry="141.2" transform="rotate(19.1 1765 1051.3)"/>
<ellipse cx="1744.5" cy="1070.5" rx="45.1" ry="158.2" transform="rotate(27 1744.5 1070.5)"/>
<ellipse cx="1765.8" cy="1039.4" rx="63.7" ry="128.4" transform="rotate(16 1765.8 1039.4)"/>
<ellipse cx="1760.4" cy="1026.9" rx="68.9" ry="139.9" transform="rotate(25.6 1760.4 1026.9)"/>
<ellipse cx="1777.3" cy="1010.6" rx="69.5" ry="115.6" transform="rotate(16.9 1777.3 1010.6)"/>
<ellipse cx="1774.9" cy="1018.2" rx="59.2" ry="119" transform="rotate(18.2 1774.9 1018.2)"/>
<ellipse cx="1775" cy="1018.2" rx="68" ry="128.9" transform="rotate(19.2 1775 1018.2)"/>
<ellipse cx="1766.7" cy="1027.8" rx="76.5" ry="168.7" transform="rotate(17.8 1766.7 1027.8)"/>
<ellipse cx="1767.5" cy="1030.3" rx="65.3" ry="119.7" transform="rotate(18.5 1767.5 1030.3)"/>
<ellipse cx="1750.4" cy="1075.8" rx="83.2" ry="165.1" transform="rotate(22.4 1750.4 1075.8)"/>
<ellipse cx="1763.2" cy="1045" rx="59.1" ry="145.3" transform="rotate(22.9 1763.2 1045)"/>
<ellipse cx="1759.4" cy="1039.6" rx="65.3" ry="151.2" transform="rotate(21 1759.4 1039.6)"/>
<ellipse cx="1764" cy="1023.5" rx="62.1" ry="118.9" transform="rotate(20.6 1764 1023.5)"/>
<ellipse cx="1764.6" cy="1041.3" rx="73.7" ry="173.4" transform="rotate(19.9 1764.6 1041.3)"/>
<ellipse cx="1780" cy="1011.1" rx="77.7" ry="117.7" transform="rotate(14.5 1780 1011.1)"/>
<ellipse cx="1772.9" cy="1026.4" rx="58.7" ry="133.5" transform="rotate(20 1772.9 1026.4)"/>
<ellipse cx="1763.8" cy="1022.3" rx="60.7" ry="124.8" transform="rotate(23.5 1763.8 1022.3)"/>
<ellipse cx="1778.1" cy="1010" rx="64.6" ry="123.7" transform="rotate(12.7 1778.1 1010)"/>
<ellipse cx="1773.9" cy="1032.1" rx="53.5" ry="118.2" transform="rotate(16.8 1773.9 1032.1)"/>
<ellipse cx="1757.3" cy="1066.1" rx="64.4" ry="172.5" transform="rotate(20.2 1757.3 1066.1)"/>
<ellipse cx="1776.5" cy="1025.1" rx="68.5" ry="139.5" transform="rotate(18.1 1776.5 1025.1)"/>
<ellipse cx="1771.1" cy="1015.3" rx="66.6" ry="118.5" transform="rotate(21 1771.1 1015.3)"/>
<ellipse cx="1762.5" cy="1032.9" rx="55" ry="128.3" transform="rotate(21.7 1762.5 1032.9)"/>
<ellipse cx="1753.2" cy="1051.4" rx="72.2" ry="163.9" transform="rotate(25.7 1753.2 1051.4)"/>
<ellipse cx="1760.5" cy="1045.6" rx="61.4" ry="145.4" transform="rotate(20.1 1760.5 1045.6)"/>
<ellipse cx="1767" cy="1041" rx="55.5" ry="115.7" transform="rotate(15.3 1767 1041)"/>
<ellipse cx="1768.8" cy="1031.9" rx="70.5" ry="134.2" transform="rotate(16.5 1768.8 1031.9)"/>
<ellipse cx="1773.7" cy="1011" rx="75.6" ry="132.2" transform="rotate(18.4 1773.7 1011)"/>
<ellipse cx="1759.4" cy="1049.8" rx="64.2" ry="157.9" transform="rotate(17.5 1759.4 1049.8)"/>
<ellipse cx="1770.4" cy="1024.6" rx="54.5" ry="115" transform="rotate(19.7 1770.4 1024.6)"/>
<ellipse cx="1766.3" cy="1036.8" rx="66" ry="129.8" transform="rotate(18 1766.3 1036.8)"/>
<ellipse cx="1767.3" cy="1041.4" rx="58.3" ry="131.1" transform="rotate(19.2 1767.3 1041.4)"/>
<ellipse cx="1772.5" cy="1038.2" rx="59.4" ry="132.5" transform="rotate(18.4 1772.5 1038.2)"/>
<ellipse cx="1768.5" cy="1024.4" rx="61.5" ry="122.1" transform="rotate(21.1 1768.5 1024.4)"/>
<ellipse cx="1766" cy="1017.3" rx="75.9" ry="150.9" transform="rotate(21.2 1766 1017.3)"/>
<ellipse cx="1764.7" cy="1027.9" rx="51.1" ry="130.6" transform="rotate(21.8 1764.7 1027.9)"/>
<ellipse cx="1767.8" cy="1028.4" rx="65.9" ry="125.6" transform="rotate(16.4 1767.8 1028.4)"/>
<ellipse cx="1768.9" cy="1030.2" rx="63.5" ry="137.2" transform="rotate(17.6 1768.9 1030.2)"/>
<ellipse cx="1777.6" cy="1009.8" rx="72.2" ry="127.6" transform="rotate(18.2 1777.6 1009.8)"/>
<ellipse cx="1769.4" cy="1021.7" rx="53.5" ry="104.4" transform="rotate(18.5 1769.4 1021.7)"/>
<ellipse cx="1774.2" cy="1010" rx="52.9" ry="113.7" transform="rotate(17.6 1774.2 1010)"/>
<ellipse cx="1770.8" cy="1022.2" rx="57.4" ry="108.7" transform="rotate(20.8 1770.8 1022.2)"/>
<ellipse cx="1776.5" cy="1027.8" rx="62.1" ry="115" transform="rotate(14.3 1776.5 1027.8)"/>
<ellipse cx="1772.4" cy="1023.3" rx="67.6" ry="118.6" transform="rotate(20.3 1772.4 1023.3)"/>
<ellipse cx="1753.6" cy="1052.7" rx="70.4" ry="161.5" transform="rotate(23.8 1753.6 1052.7)"/>
<ellipse cx="1775.8" cy="1018.5" rx="67.8" ry="121.2" transform="rotate(16.1 1775.8 1018.5)"/>
<ellipse cx="1763" cy="1030.2" rx="67.5" ry="140.1" transform="rotate(21.4 1763 1030.2)"/>
<ellipse cx="1768.5" cy="1007.1" rx="56.9" ry="112.9" transform="rotate(21.4 1768.5 1007.1)"/>
<ellipse cx="1777.9" cy="1023.6" rx="61.2" ry="133.8" transform="rotate(18 1777.9 1023.6)"/>
<ellipse cx="1771.5" cy="1026.6" rx="54.4" ry="117" transform="rotate(22.4 1771.5 1026.6)"/>
<ellipse cx="1774" cy="1017.8" rx="64.5" ry="109.8" transform="rotate(21.3 1774 1017.8)"/>
<ellipse cx="1762.4" cy="1030.8" rx="53.4" ry="123.9" transform="rotate(22 1762.4 1030.8)"/>
<ellipse cx="1771.1" cy="1014.9" rx="80" ry="149.9" transform="rotate(24.2 1771.1 1014.9)"/>
<ellipse cx="1767.2" cy="1045.3" rx="60" ry="131" transform="rotate(17.8 1767.2 1045.3)"/>
<ellipse cx="1772.5" cy="1015.4" rx="58.3" ry="119.9" transform="rotate(20.1 1772.5 1015.4)"/>
<ellipse cx="1764.3" cy="1034.7" rx="75.7" ry="154.9" transform="rotate(22.2 1764.3 1034.7)"/>
<ellipse cx="1768" cy="1013.6" rx="73.7" ry="131.9" transform="rotate(16.8 1768 1013.6)"/>
<ellipse cx="1771.9" cy="1012.7" rx="58" ry="129.8" transform="rotate(16.1 1771.9 1012.7)"/>
<ellipse cx="1764.1" cy="1038" rx="71.3" ry="137" transform="rotate(16.8 1764.1 1038)"/>
<ellipse cx="1771.8" cy="1024.4" rx="80.5" ry="136.2" transform="rotate(17.5 1771.8 1024.4)"/>
<ellipse cx="1761.5" cy="1061" rx="80.4" ry="167.4" transform="rotate(18.4 1761.5 1061)"/>
<ellipse cx="1773.7" cy="1031.3" rx="63.8" ry="121.8" transform="rotate(19.8 1773.7 1031.3)"/>
<ellipse cx="1773.8" cy="1017.2" rx="57.1" ry="124.2" transform="rotate(22.2 1773.8 1017.2)"/>
<ellipse cx="1772.7" cy="1025.8" rx="61.7" ry="119.7" transform="rotate(17 1772.7 1025.8)"/>
<ellipse cx="1760.8" cy="1035.1" rx="55.5" ry="111.9" transform="rotate(20.3 1760.8 1035.1)"/>
<ellipse cx="1773" cy="1023.6" rx="58.1" ry="133.9" transform="rotate(16.6 1773 1023.6)"/>
<ellipse cx="1760.3" cy="1034.8" rx="69.4" ry="127" transform="rotate(23.6 1760.3 1034.8)"/>
<ellipse cx="1760.3" cy="1058.1" rx="74.8" ry="147.1" transform="rotate(20.1 1760.3 1058.1)"/>
<ellipse cx="1764.4" cy="1037.1" rx="74.6" ry="153" transform="rotate(20.5 1764.4 1037.1)"/>
<ellipse cx="1770.7" cy="1015" rx="66.9" ry="132.1" transform="rotate(21.9 1770.7 1015)"/>
<ellipse cx="1748.7" cy="1082.9" rx="60" ry="186.1" transform="rotate(19 1748.7 1082.9)"/>
<ellipse cx="1772.6" cy="1018.9" rx="66.5" ry="151.4" transform="rotate(20.6 1772.6 1018.9)"/>
<ellipse cx="1776.2" cy="1008.6" rx="72" ry="135.6" transform="rotate(16.9 1776.2 1008.6)"/>
<ellipse cx="1760.1" cy="1039.5" rx="57.8" ry="141.2" transform="rotate(23.5 1760.1 1039.5)"/>
<ellipse cx="1758.4" cy="1053.8" rx="81.5" ry="173.1" transform="rotate(19.7 1758.4 1053.8)"/>
<ellipse cx="1766.8" cy="1029.6" rx="66.4" ry="132" transform="rotate(19.2 1766.8 1029.6)"/>
<ellipse cx="1772.9" cy="1016.1" rx="63.8" ry="123.2" transform="rotate(18 1772.9 1016.1)"/>
<ellipse cx="1752.3" cy="1085.8" rx="75" ry="182.4" transform="rotate(20.6 1752.3 1085.8)"/>
<ellipse cx="1766" cy="1024.7" rx="68.7" ry="133.5" transform="rotate(23.1 1766 1024.7)"/>
<ellipse cx="1773.7" cy="1003.3" rx="63.8" ry="135.7" transform="rotate(23.9 1773.7 1003.3)"/>
<ellipse cx="1757.4" cy="1046.8" rx="61" ry="151.8" transform="rotate(19.2 1757.4 1046.8)"/>
<ellipse cx="1767" cy="1026.3" rx="61.5" ry="132" transform="rotate(18.6 1767 1026.3)"/>
<ellipse cx="1758.2" cy="1060.9" rx="72.3" ry="173.1" transform="rotate(19.3 1758.2 1060.9)"/>
<ellipse cx="1765.4" cy="1033" rx="66.3" ry="123.6" transform="rotate(19.8 1765.4 1033)"/>
<ellipse cx="1768.8" cy="1022.8" rx="70.2" ry="131.4" transform="rotate(20.3 1768.8 1022.8)"/>
<ellipse cx="1759.3" cy="1048.4" rx="67.3" ry="167.1" transform="rotate(24.1 1759.3 1048.4)"/>
<ellipse cx="1773.6" cy="1021.5" rx="56.6" ry="113.1" transform="rotate(15.4 1773.6 1021.5)"/>
<ellipse cx="1771.5" cy="1024.6" rx="53.6" ry="109.1" transform="rotate(19.2 1771.5 1024.6)"/>
<ellipse cx="1770.2" cy="1018.7" rx="62" ry="133.2" transform="rotate(23.9 1770.2 1018.7)"/>
<ellipse cx="1764.3" cy="1036.5" rx="65.1" ry="125" transform="rotate(24.2 1764.3 1036.5)"/>
<ellipse cx="1774" cy="1034.1" rx="65.3" ry="127.4" transform="rotate(20 1774 1034.1)"/>
<ellipse cx="1773.6" cy="1010" rx="61.6" ry="113.8" transform="rotate(16.1 1773.6 1010)"/>
<ellipse cx="1761" cy="1036.2" rx="60" ry="136.4" transform="rotate(21.7 1761 1036.2)"/>
<ellipse cx="1774.2" cy="1018.4" rx="63.6" ry="113.3" transform="rotate(15.3 1774.2 1018.4)"/>
<ellipse cx="1772.1" cy="1019.6" rx="59.7" ry="132" transform="rotate(22.8 1772.1 1019.6)"/>
<ellipse cx="1773" cy="1010.2" rx="67.6" ry="116.2" transform="rotate(23.6 1773 1010.2)"/>
<ellipse cx="1768.5" cy="1011" rx="68.2" ry="132.7" transform="rotate(20.5 1768.5 1011)"/>
<ellipse cx="1755.7" cy="1050.5" rx="62.5" ry="169.9" transform="rotate(21.1 1755.7 1050.5)"/>
<ellipse cx="1749.1" cy="1057.5" rx="58.3" ry="132.7" transform="rotate(25.2 1749.1 1057.5)"/>
<ellipse cx="1762.6" cy="1034.9" rx="58.8" ry="129.1" transform="rotate(20.6 1762.6 1034.9)"/>
<ellipse cx="1750.3" cy="1070.8" rx="77.6" ry="171.3" transform="rotate(21.8 1750.3 1070.8)"/>
<ellipse cx="1767.5" cy="1018.1" rx="64.1" ry="142.5" transform="rotate(19 1767.5 1018.1)"/>
<ellipse cx="1762.1" cy="1040.4" rx="62.2" ry="140.2" transform="rotate(19.8 1762.1 1040.4)"/>
<ellipse cx="1770.7" cy="1020.5" rx="49.6" ry="113" transform="rotate(19.6 1770.7 1020.5)"/>
<ellipse cx="1777.3" cy="1023.5" rx="70.9" ry="115.1" transform="rotate(16 1777.3 1023.5)"/>
<ellipse cx="1765.4" cy="1017.8" rx="73.5" ry="131.3" transform="rotate(23.8 1765.4 1017.8)"/>
<ellipse cx="1761.8" cy="1053.7" rx="84.5" ry="153.5" transform="rotate(18.7 1761.8 1053.7)"/>
<ellipse cx="1743.2" cy="1091" rx="50.8" ry="181.6" transform="rotate(20.5 1743.2 1091)"/>
<ellipse cx="1771.5" cy="1010.8" rx="75.6" ry="140.9" transform="rotate(23.5 1771.5 1010.8)"/>
<ellipse cx="1763.8" cy="1030.7" rx="72" ry="149.9" transform="rotate(19.9 1763.8 1030.7)"/>
<ellipse cx="1773.8" cy="1005.6" rx="72.2" ry="125.2" transform="rotate(19.1 1773.8 1005.6)"/>
<ellipse cx="1759.7" cy="1037.5" rx="69" ry="140" transform="rotate(22.3 1759.7 1037.5)"/>
<ellipse cx="1777.8" cy="1012.9" rx="63.1" ry="117.2" transform="rotate(18.3 1777.8 1012.9)"/>
<ellipse cx="1775.6" cy="1009.6" rx="79.2" ry="121.1" transform="rotate(18 1775.6 1009.6)"/>
<ellipse cx="1771.5" cy="1039.1" rx="75.3" ry="137.3" transform="rotate(17.3 1771.5 1039.1)"/>
<ellipse cx="1763.9" cy="1040.2" rx="68.5" ry="131.1" transform="rotate(17.4 1763.9 1040.2)"/>
<ellipse cx="1767.4" cy="1031.8" rx="55.8" ry="128.6" transform="rotate(20.8 1767.4 1031.8)"/>
<ellipse cx="1765.3" cy="1033.7" rx="73.2" ry="145.4" transform="rotate(22 1765.3 1033.7)"/>
<ellipse cx="1775.6" cy="998.9" rx="65.9" ry="126.4" transform="rotate(18.6 1775.6 998.9)"/>
<ellipse cx="1772.8" cy="1038.4" rx="60.6" ry="113.8" transform="rotate(15.8 1772.8 1038.4)"/>
<ellipse cx="1770" cy="1024" rx="60.8" ry="130.7" transform="rotate(16.7 1770 1024)"/>
<ellipse cx="1770.7" cy="1027.3" rx="63.5" ry="129.9" transform="rotate(17.3 1770.7 1027.3)"/>
<ellipse cx="1765.6" cy="1027.9" rx="61.8" ry="158" transform="rotate(16.3 1765.6 1027.9)"/>
<ellipse cx="1776.7" cy="1016" rx="61.9" ry="127.3" transform="rotate(19.7 1776.7 1016)"/>
<ellipse cx="1766.6" cy="1028.6" rx="67.6" ry="122.6" transform="rotate(17 1766.6 1028.6)"/>
<ellipse cx="1736.1" cy="1095.3" rx="77.8" ry="186.2" transform="rotate(21.5 1736.1 1095.3)"/>
<ellipse cx="1773.1" cy="1029.1" rx="76.3" ry="127.1" transform="rotate(14.8 1773.1 1029.1)"/>
<ellipse cx="1772.1" cy="1019.6" rx="70.6" ry="126.6" transform="rotate(19.8 1772.1 1019.6)"/>
<ellipse cx="1777.5" cy="1007.2" rx="76.7" ry="118.2" transform="rotate(21.7 1777.5 1007.2)"/>
<ellipse cx="1760.3" cy="1034.9" rx="57" ry="120.9" transform="rotate(22 1760.3 1034.9)"/>
<ellipse cx="1772.6" cy="1012.1" rx="60.8" ry="112.9" transform="rotate(17.5 1772.6 1012.1)"/>
<ellipse cx="1781.7" cy="1005" rx="63.7" ry="131.3" transform="rotate(22.3 1781.7 1005)"/>
<ellipse cx="1777.3" cy="1019.5" rx="71.3" ry="125" transform="rotate(17.2 1777.3 1019.5)"/>
<ellipse cx="1764.9" cy="1018.7" rx="76.5" ry="143.8" transform="rotate(23.5 1764.9 1018.7)"/>
<ellipse cx="1769.8" cy="1015.2" rx="69.4" ry="135.2" transform="rotate(19 1769.8 1015.2)"/>
<ellipse cx="1770" cy="1029.1" rx="67.6" ry="109.2" transform="rotate(21 1770 1029.1)"/>
<ellipse cx="1769.2" cy="1032.2" rx="56.9" ry="127.8" transform="rotate(17.1 1769.2 1032.2)"/>
<ellipse cx="1769.7" cy="1018.2" rx="59.7" ry="117" transform="rotate(21.9 1769.7 1018.2)"/>
<ellipse cx="1769" cy="1034.3" rx="60.9" ry="132.8" transform="rotate(18.7 1769 1034.3)"/>
<ellipse cx="1760.1" cy="1053.2" rx="69.7" ry="166.7" transform="rotate(19.2 1760.1 1053.2)"/>
<ellipse cx="1775.1" cy="1027" rx="63.5" ry="122" transform="rotate(16.6 1775.1 1027)"/>
<ellipse cx="1770.5" cy="1014" rx="62.6" ry="131.4" transform="rotate(22.3 1770.5 1014)"/>
<ellipse cx="1767.3" cy="1029.1" rx="62.8" ry="121.4" transform="rotate(20 1767.3 1029.1)"/>
<ellipse cx="1771.2" cy="1014.7" rx="65" ry="110" transform="rotate(19.9 1771.2 1014.7)"/>
<ellipse cx="1773.1" cy="1030.1" rx="61" ry="129.3" transform="rotate(17.3 1773.1 1030.1)"/>
<ellipse cx="1761.9" cy="1049" rx="70.3" ry="152.9" transform="rotate(19.6 1761.9 1049)"/>
<ellipse cx="1763.8" cy="1026.1" rx="64.1" ry="142.7" transform="rotate(23.9 1763.8 1026.1)"/>
<ellipse cx="1762.1" cy="1066.7" rx="75.1" ry="165.7" transform="rotate(19.3 1762.1 1066.7)"/>
<ellipse cx="1769.1" cy="1037.9" rx="59.1" ry="146" transform="rotate(16.5 1769.1 1037.9)"/>
<ellipse cx="1766.2" cy="1021.9" rx="56.9" ry="131.6" transform="rotate(18.7 1766.2 1021.9)"/>
<ellipse cx="1759.6" cy="1047" rx="80.5" ry="164.6" transform="rotate(18.7 1759.6 1047)"/>
<ellipse cx="1764.4" cy="1038.7" rx="59.4" ry="105.6" transform="rotate(21 1764.4 1038.7)"/>
<ellipse cx="1760.5" cy="1039.1" rx="61.4" ry="147.3" transform="rotate(18.8 1760.5 1039.1)"/>
<ellipse cx="1759.4" cy="1046" rx="65.5" ry="173.9" transform="rotate(20.7 1759.4 1046)"/>
<ellipse cx="1767.8" cy="1025.5" rx="62.9" ry="130.2" transform="rotate(21.7 1767.8 1025.5)"/>
<ellipse cx="1768.8" cy="1029.9" rx="69.7" ry="128.8" transform="rotate(18.9 1768.8 1029.9)"/>
<ellipse cx="1772.5" cy="1016.3" rx="54.1" ry="113.3" transform="rotate(21 1772.5 1016.3)"/>
<ellipse cx="1772.5" cy="1030" rx="52.2" ry="108.8" transform="rotate(16.4 1772.5 1030)"/>
<ellipse cx="1766.1" cy="1038.1" rx="68.7" ry="138.1" transform="rotate(17.9 1766.1 1038.1)"/>
<ellipse cx="1769.2" cy="1026.3" rx="60.6" ry="137.5" transform="rotate(20.1 1769.2 1026.3)"/>
<ellipse cx="1772" cy="1021.6" rx="77.2" ry="120.3" transform="rotate(18.7 1772 1021.6)"/>
<ellipse cx="1773.3" cy="1006.3" rx="57.6" ry="114.5" transform="rotate(22.7 1773.3 1006.3)"/>
<ellipse cx="1767.9" cy="1031.5" rx="62.4" ry="123.8" transform="rotate(18.2 1767.9 1031.5)"/>
<ellipse cx="1764.7" cy="1034.5" rx="72" ry="119.6" transform="rotate(21.3 1764.7 1034.5)"/>
<ellipse cx="1763.4" cy="1042.3" rx="82.6" ry="163" transform="rotate(19.8 1763.4 1042.3)"/>
<ellipse cx="1768.8" cy="1034.1" rx="62.3" ry="139.4" transform="rotate(14.5 1768.8 1034.1)"/>
<ellipse cx="1762.9" cy="1043.9" rx="49.1" ry="119.6" transform="rotate(21.4 1762.9 1043.9)"/>
<ellipse cx="1749.8" cy="1066.5" rx="61.8" ry="175.1" transform="rotate(23.1 1749.8 1066.5)"/>
<ellipse cx="1761.5" cy="1045" rx="66.4" ry="155.4" transform="rotate(18 1761.5 1045)"/>
<ellipse cx="1774.1" cy="1014.9" rx="64.5" ry="115.6" transform="rotate(19.1 1774.1 1014.9)"/>
<ellipse cx="1770.8" cy="1033" rx="56.5" ry="108.8" transform="rotate(18 1770.8 1033)"/>
<ellipse cx="1771.4" cy="1031.3" rx="70.4" ry="132.5" transform="rotate(18.5 1771.4 1031.3)"/>
<ellipse cx="1768.2" cy="1029" rx="71.7" ry="138.6" transform="rotate(22.2 1768.2 1029)"/>
<ellipse cx="1756" cy="1041.7" rx="80.3" ry="153.6" transform="rotate(19.9 1756 1041.7)"/>
<ellipse cx="1777.6" cy="1024.6" rx="69.5" ry="143.9" transform="rotate(17.5 1777.6 1024.6)"/>
<ellipse cx="1769.3" cy="1007.7" rx="60.8" ry="119" transform="rotate(24.1 1769.3 1007.7)"/>
<ellipse cx="1769.1" cy="1047.2" rx="55.9" ry="118.1" transform="rotate(14.3 1769.1 1047.2)"/>
<ellipse cx="1777.1" cy="1000.3" rx="63.5" ry="125.5" transform="rotate(25.1 1777.1 1000.3)"/>
<ellipse cx="1754.6" cy="1051.8" rx="65.1" ry="155.7" transform="rotate(21.9 1754.6 1051.8)"/>
<ellipse cx="1736.6" cy="1089.8" rx="62.4" ry="175.3" transform="rotate(21.6 1736.6 1089.8)"/>
<ellipse cx="1763.2" cy="1029.8" rx="59.7" ry="115.8" transform="rotate(22.3 1763.2 1029.8)"/>
<ellipse cx="1769.8" cy="1038.7" rx="71.7" ry="147.9" transform="rotate(17.5 1769.8 1038.7)"/>
<ellipse cx="1772" cy="1027.6" rx="68.3" ry="136.1" transform="rotate(17.7 1772 1027.6)"/>
<ellipse cx="1775.3" cy="1021.1" rx="67" ry="120.9" transform="rotate(17.9 1775.3 1021.1)"/>
<ellipse cx="1768.9" cy="1026.9" rx="58.9" ry="125.8" transform="rotate(18.4 1768.9 1026.9)"/>
<ellipse cx="1759.2" cy="1053.3" rx="90.6" ry="179.6" transform="rotate(20.2 1759.2 1053.3)"/>
<ellipse cx="1773.9" cy="1030.3" rx="71.8" ry="144.1" transform="rotate(16.7 1773.9 1030.3)"/>
<ellipse cx="1768.8" cy="1027.8" rx="69.6" ry="125.1" transform="rotate(21.6 1768.8 1027.8)"/>
<ellipse cx="1755.9" cy="1063" rx="83.5" ry="182.1" transform="rotate(18.6 1755.9 1063)"/>
<ellipse cx="1765.5" cy="1028.4" rx="73.7" ry="147.3" transform="rotate(19.3 1765.5 1028.4)"/>
<ellipse cx="1763.5" cy="1017.6" rx="58.8" ry="129.6" transform="rotate(23.9 1763.5 1017.6)"/>
<ellipse cx="1765" cy="1039.3" rx="60.1" ry="146.2" transform="rotate(19.1 1765 1039.3)"/>
<ellipse cx="1771.9" cy="1015.2" rx="73" ry="129.1" transform="rotate(22.2 1771.9 1015.2)"/>
<ellipse cx="1766.9" cy="1041.5" rx="71.2" ry="136" transform="rotate(16.7 1766.9 1041.5)"/>
<ellipse cx="1773.7" cy="1017.9" rx="61.9" ry="117.8" transform="rotate(18.3 1773.7 1017.9)"/>
<ellipse cx="1758.5" cy="1035.4" rx="62.5" ry="121.8" transform="rotate(22.3 1758.5 1035.4)"/>
<ellipse cx="1758.3" cy="1041.6" rx="75.1" ry="126.4" transform="rotate(21.3 1758.3 1041.6)"/>
<ellipse cx="1774.9" cy="1013.9" rx="82.5" ry="127" transform="rotate(20.2 1774.9 1013.9)"/>
<ellipse cx="1751.6" cy="1069.2" rx="85.1" ry="183.5" transform="rotate(18 1751.6 1069.2)"/>
<ellipse cx="1755.6" cy="1051.9" rx="77.8" ry="178" transform="rotate(20.8 1755.6 1051.9)"/>
<ellipse cx="1765.6" cy="1031" rx="76.6" ry="156.5" transform="rotate(22.5 1765.6 1031)"/>
<ellipse cx="1774.5" cy="1011" rx="78.4" ry="123.6" transform="rotate(18.1 1774.5 1011)"/>
<ellipse cx="1757.7" cy="1040.6" rx="59.7" ry="159.3" transform="rotate(21.3 1757.7 1040.6)"/>
<ellipse cx="1755.4" cy="1041.9" rx="70.9" ry="137.5" transform="rotate(27.7 1755.4 1041.9)"/>
<ellipse cx="1770.9" cy="1012.6" rx="58.8" ry="125.9" transform="rotate(18.1 1770.9 1012.6)"/>
<ellipse cx="1771.3" cy="1031.8" rx="53.9" ry="124.7" transform="rotate(16.2 1771.3 1031.8)"/>
<ellipse cx="1753.6" cy="1047.2" rx="67.6" ry="155.3" transform="rotate(21.8 1753.6 1047.2)"/>
<ellipse cx="1757.1" cy="1036.9" rx="67.5" ry="175.5" transform="rotate(21.1 1757.1 1036.9)"/>
<ellipse cx="1754.6" cy="1046.3" rx="62.9" ry="142.4" transform="rotate(22.3 1754.6 1046.3)"/>
<ellipse cx="1777.9" cy="1022.7" rx="68.1" ry="127.3" transform="rotate(17 1777.9 1022.7)"/>
<ellipse cx="1747.7" cy="1083.4" rx="76.5" ry="182.1" transform="rotate(17.7 1747.7 1083.4)"/>
<ellipse cx="1765.5" cy="1041.6" rx="77.9" ry="147.3" transform="rotate(17.9 1765.5 1041.6)"/>
<ellipse cx="1761.7" cy="1036.6" rx="81.5" ry="146.9" transform="rotate(21.3 1761.7 1036.6)"/>
<ellipse cx="1768.6" cy="1018.4" rx="60.3" ry="107.7" transform="rotate(18.4 1768.6 1018.4)"/>
<ellipse cx="1748.4" cy="1066.8" rx="65.4" ry="167.3" transform="rotate(23.8 1748.4 1066.8)"/>
<ellipse cx="1770.8" cy="1020.9" rx="56.6" ry="124.3" transform="rotate(18.3 1770.8 1020.9)"/>
<ellipse cx="1760.8" cy="1035.7" rx="70.9" ry="145.8" transform="rotate(17.3 1760.8 1035.7)"/>
<ellipse cx="1769.6" cy="1020.8" rx="59.2" ry="116.6" transform="rotate(16.3 1769.6 1020.8)"/>
<ellipse cx="1764.1" cy="1030.9" rx="69.3" ry="134" transform="rotate(19.1 1764.1 1030.9)"/>
<ellipse cx="1747.9" cy="1074.5" rx="83.2" ry="182.4" transform="rotate(24.1 1747.9 1074.5)"/>
<ellipse cx="1748" cy="1086.2" rx="68" ry="181.4" transform="rotate(20.1 1748 1086.2)"/>
<ellipse cx="1772.9" cy="1027.6" rx="60.7" ry="130.2" transform="rotate(17 1772.9 1027.6)"/>
<ellipse cx="1764.1" cy="1048.4" rx="81.2" ry="161.6" transform="rotate(21.3 1764.1 1048.4)"/>
<ellipse cx="1768.2" cy="1042.7" rx="52.3" ry="127.8" transform="rotate(17.9 1768.2 1042.7)"/>
<ellipse cx="1765.9" cy="1021.4" rx="67.6" ry="119.4" transform="rotate(21.9 1765.9 1021.4)"/>
<ellipse cx="1761.2" cy="1051.2" rx="64.1" ry="154.6" transform="rotate(22.2 1761.2 1051.2)"/>
<ellipse cx="1767.6" cy="1024.1" rx="61.8" ry="111.7" transform="rotate(19 1767.6 1024.1)"/>
<ellipse cx="1770.4" cy="1015.9" rx="59.4" ry="121.3" transform="rotate(26.1 1770.4 1015.9)"/>
<ellipse cx="1769.2" cy="1022.5" rx="50.2" ry="114" transform="rotate(17.6 1769.2 1022.5)"/>
<ellipse cx="1773.5" cy="1017.9" rx="58.6" ry="132.5" transform="rotate(16.6 1773.5 1017.9)"/>
<ellipse cx="1757.1" cy="1053.8" rx="78.1" ry="156.3" transform="rotate(20.8 1757.1 1053.8)"/>
<ellipse cx="1769.9" cy="1028.8" rx="61.7" ry="103.4" transform="rotate(19.8 1769.9 1028.8)"/>
<ellipse cx="1767.2" cy="1026.1" rx="69.1" ry="124.2" transform="rotate(20.4 1767.2 1026.1)"/>
<ellipse cx="1759.1" cy="1040" rx="61.2" ry="141.1" transform="rotate(24.1 1759.1 1040)"/>
<ellipse cx="1749.7" cy="1060.3" rx="70.9" ry="168.2" transform="rotate(21.7 1749.7 1060.3)"/>
<ellipse cx="1769.6" cy="1013.3" rx="47.8" ry="108.1" transform="rotate(20.9 1769.6 1013.3)"/>
<ellipse cx="1763.4" cy="1031.6" rx="65.5" ry="122.7" transform="rotate(24 1763.4 1031.6)"/>
<ellipse cx="1772.9" cy="1015.5" rx="67.9" ry="130.3" transform="rotate(18.3 1772.9 1015.5)"/>
<ellipse cx="1769.9" cy="1034" rx="63" ry="135.6" transform="rotate(17.8 1769.9 1034)"/>
<ellipse cx="1770.1" cy="1033.3" rx="42.4" ry="112" transform="rotate(17.7 1770.1 1033.3)"/>
<ellipse cx="1734.2" cy="1096.9" rx="81.5" ry="184.7" transform="rotate(24.8 1734.2 1096.9)"/>
<ellipse cx="1766.6" cy="1037.5" rx="72.1" ry="137.7" transform="rotate(17 1766.6 1037.5)"/>
<ellipse cx="1779.6" cy="1011.2" rx="67" ry="125.8" transform="rotate(16 1779.6 1011.2)"/>
<ellipse cx="1775.2" cy="1011.6" rx="58.1" ry="118.3" transform="rotate(17.7 1775.2 1011.6)"/>
<ellipse cx="1760.9" cy="1054" rx="74.8" ry="148.3" transform="rotate(19.9 1760.9 1054)"/>
<ellipse cx="1772.9" cy="1027.5" rx="65.6" ry="121.5" transform="rotate(21.8 1772.9 1027.5)"/>
<ellipse cx="1773.1" cy="1026.4" rx="74.1" ry="146.2" transform="rotate(19.7 1773.1 1026.4)"/>
<ellipse cx="1772.5" cy="1012.1" rx="75.2" ry="128" transform="rotate(20.2 1772.5 1012.1)"/>
<ellipse cx="1777.8" cy="1017.5" rx="65.6" ry="135.1" transform="rotate(14.6 1777.8 1017.5)"/>
<ellipse cx="1767.7" cy="1029.6" rx="63.7" ry="116" transform="rotate(19.3 1767.7 1029.6)"/>
<ellipse cx="1763.1" cy="1038.6" rx="61.5" ry="119.5" transform="rotate(20.5 1763.1 1038.6)"/>
<ellipse cx="1771.8" cy="1026.3" rx="76" ry="157.1" transform="rotate(19.4 1771.8 1026.3)"/>
<ellipse cx="1775.6" cy="1007.7" rx="69.2" ry="125.1" transform="rotate(21.7 1775.6 1007.7)"/>
<ellipse cx="1773.2" cy="1025.1" rx="59" ry="109.6" transform="rotate(15.8 1773.2 1025.1)"/>
<ellipse cx="1772.5" cy="1014" rx="50.6" ry="111.6" transform="rotate(19.9 1772.5 1014)"/>
<ellipse cx="1763.4" cy="1035.1" rx="51.9" ry="136.1" transform="rotate(19 1763.4 1035.1)"/>
<ellipse cx="1769.1" cy="1030.5" rx="58" ry="116.1" transform="rotate(15.8 1769.1 1030.5)"/>
<ellipse cx="1775.3" cy="1022.1" rx="77.4" ry="151.7" transform="rotate(16.9 1775.3 1022.1)"/>
<ellipse cx="1771" cy="1021.5" rx="58.8" ry="113.2" transform="rotate(21.1 1771 1021.5)"/>
<ellipse cx="1759.9" cy="1047.8" rx="76.4" ry="152.2" transform="rotate(16.5 1759.9 1047.8)"/>
<ellipse cx="1774.1" cy="1008.9" rx="64" ry="122.1" transform="rotate(18.1 1774.1 1008.9)"/>
<ellipse cx="1750.6" cy="1076.9" rx="76" ry="202.6" transform="rotate(22.7 1750.6 1076.9)"/>
<ellipse cx="1765.6" cy="1039" rx="65.6" ry="125.9" transform="rotate(20.1 1765.6 1039)"/>
<ellipse cx="1766.1" cy="1032.8" rx="60.3" ry="130.5" transform="rotate(19.3 1766.1 1032.8)"/>
<ellipse cx="1744.2" cy="1070.1" rx="57.1" ry="162.9" transform="rotate(23.2 1744.2 1070.1)"/>
<ellipse cx="1770" cy="1026" rx="68.8" ry="135.9" transform="rotate(18.2 1770 1026)"/>
<ellipse cx="1775.9" cy="996" rx="70.9" ry="126.9" transform="rotate(16.6 1775.9 996)"/>
<ellipse cx="1775.8" cy="1010.1" rx="76" ry="142.1" transform="rotate(19.7 1775.8 1010.1)"/>
<ellipse cx="1762.7" cy="1050.9" rx="73.8" ry="163.6" transform="rotate(20.6 1762.7 1050.9)"/>
<ellipse cx="1773.6" cy="1011.7" rx="67.7" ry="125.5" transform="rotate(17.8 1773.6 1011.7)"/>
<ellipse cx="1772.5" cy="1033.8" rx="67.6" ry="121.9" transform="rotate(19.6 1772.5 1033.8)"/>
<ellipse cx="1735" cy="1093.8" rx="77.1" ry="203.4" transform="rotate(19.8 1735 1093.8)"/>
<ellipse cx="1761.1" cy="1031.1" rx="56.8" ry="134.7" transform="rotate(24.5 1761.1 1031.1)"/>
<ellipse cx="1775.7" cy="1020.9" rx="67.8" ry="132.5" transform="rotate(16.7 1775.7 1020.9)"/>
<ellipse cx="1761.2" cy="1034.2" rx="78.8" ry="149.2" transform="rotate(19.8 1761.2 1034.2)"/>
<ellipse cx="1754.4" cy="1068.3" rx="67.8" ry="154.4" transform="rotate(19.2 1754.4 1068.3)"/>
<ellipse cx="1767.2" cy="1023.4" rx="78.5" ry="127.7" transform="rotate(20.1 1767.2 1023.4)"/>
<ellipse cx="1768.5" cy="1028.6" rx="63" ry="113.5" transform="rotate(18.9 1768.5 1028.6)"/>
<ellipse cx="1765.6" cy="1015.7" rx="63.4" ry="116.7" transform="rotate(25.5 1765.6 1015.7)"/>
<ellipse cx="1763.6" cy="1048.4" rx="58.6" ry="150.2" transform="rotate(17.6 1763.6 1048.4)"/>
<ellipse cx="1768.3" cy="1025.3" rx="73.4" ry="133.5" transform="rotate(20.4 1768.3 1025.3)"/>
<ellipse cx="1761" cy="1040" rx="67.7" ry="141.5" transform="rotate(21 1761 1040)"/>
<ellipse cx="1765.7" cy="1025.4" rx="59.9" ry="110" transform="rotate(23.4 1765.7 1025.4)"/>
<ellipse cx="1759.4" cy="1052.5" rx="68.6" ry="169.4" transform="rotate(19.8 1759.4 1052.5)"/>
<ellipse cx="1755.9" cy="1041.6" rx="61.3" ry="134.7" transform="rotate(24.7 1755.9 1041.6)"/>
<ellipse cx="1773" cy="1028.7" rx="66.9" ry="127.5" transform="rotate(19.6 1773 1028.7)"/>
<ellipse cx="1763" cy="1034.1" rx="59.7" ry="147.3" transform="rotate(19.6 1763 1034.1)"/>
<ellipse cx="1769.1" cy="1022.2" rx="74.2" ry="138.8" transform="rotate(21.7 1769.1 1022.2)"/>
<ellipse cx="1769.4" cy="1042.3" rx="64" ry="147" transform="rotate(21.1 1769.4 1042.3)"/>
<ellipse cx="1766.6" cy="1025.2" rx="55.3" ry="128" transform="rotate(22.5 1766.6 1025.2)"/>
<ellipse cx="1748.1" cy="1071" rx="65.1" ry="182.8" transform="rotate(23.2 1748.1 1071)"/>
<ellipse cx="1764.7" cy="1034.9" rx="80.7" ry="144.6" transform="rotate(21.4 1764.7 1034.9)"/>
<ellipse cx="1760.8" cy="1037.5" rx="76.2" ry="160.3" transform="rotate(24.4 1760.8 1037.5)"/>
<ellipse cx="1771.8" cy="1019.3" rx="56.4" ry="120.6" transform="rotate(19.7 1771.8 1019.3)"/>
<ellipse cx="1768.7" cy="1045" rx="59.9" ry="118.7" transform="rotate(17.3 1768.7 1045)"/>
<ellipse cx="1772.6" cy="1020.7" rx="59.4" ry="113.1" transform="rotate(21.8 1772.6 1020.7)"/>
<ellipse cx="1768.2" cy="1012.6" rx="57.5" ry="119.7" transform="rotate(18.9 1768.2 1012.6)"/>
<ellipse cx="1761.5" cy="1039.9" rx="72.3" ry="146.2" transform="rotate(17.5 1761.5 1039.9)"/>
<ellipse cx="1751.8" cy="1055.5" rx="65" ry="154" transform="rotate(23.2 1751.8 1055.5)"/>
<ellipse cx="1766.7" cy="1027.5" rx="79" ry="152.4" transform="rotate(17.9 1766.7 1027.5)"/>
<ellipse cx="1767.6" cy="1044.9" rx="61.5" ry="127.1" transform="rotate(18.7 1767.6 1044.9)"/>
<ellipse cx="1764.5" cy="1020.6" rx="70.3" ry="119.7" transform="rotate(20.3 1764.5 1020.6)"/>
<ellipse cx="1767.5" cy="1046.2" rx="77.3" ry="140.5" transform="rotate(16.5 1767.5 1046.2)"/>
<ellipse cx="1753.1" cy="1061.4" rx="77.4" ry="158.9" transform="rotate(18.6 1753.1 1061.4)"/>
<ellipse cx="1766" cy="1027.7" rx="66.7" ry="116.2" transform="rotate(22.8 1766 1027.7)"/>
<ellipse cx="1766.4" cy="1034.5" rx="70.8" ry="123.5" transform="rotate(20.4 1766.4 1034.5)"/>
<ellipse cx="1771.6" cy="1019" rx="61.4" ry="116" transform="rotate(17.4 1771.6 1019)"/>
<ellipse cx="1775" cy="1007.1" rx="66.9" ry="131.2" transform="rotate(17.6 1775 1007.1)"/>
<ellipse cx="1768.2" cy="1025.2" rx="67.1" ry="136.1" transform="rotate(19.2 1768.2 1025.2)"/>
<ellipse cx="1771.6" cy="1015.9" rx="67.8" ry="132.8" transform="rotate(19.8 1771.6 1015.9)"/>
<ellipse cx="1769.3" cy="1022.4" rx="69" ry="139.5" transform="rotate(17.1 1769.3 1022.4)"/>
<ellipse cx="1764.7" cy="1039.6" rx="56.2" ry="128.7" transform="rotate(20.3 1764.7 1039.6)"/>
<ellipse cx="1743.2" cy="1078.6" rx="66.2" ry="162.9" transform="rotate(23.2 1743.2 1078.6)"/>
<ellipse cx="1737.1" cy="1085.3" rx="70.1" ry="187.6" transform="rotate(22.9 1737.1 1085.3)"/>
<ellipse cx="1766.7" cy="1037.3" rx="60.9" ry="139.1" transform="rotate(19.7 1766.7 1037.3)"/>
<ellipse cx="1775.3" cy="1016" rx="63" ry="118.7" transform="rotate(20.5 1775.3 1016)"/>
<ellipse cx="1768.1" cy="1030" rx="62.9" ry="147.3" transform="rotate(19.4 1768.1 1030)"/>
<ellipse cx="1760.1" cy="1031" rx="75" ry="131.5" transform="rotate(25 1760.1 1031)"/>
<ellipse cx="1768.9" cy="1022.8" rx="69.3" ry="131.8" transform="rotate(19.8 1768.9 1022.8)"/>
<ellipse cx="1771.8" cy="1016.2" rx="58.7" ry="120.7" transform="rotate(20.7 1771.8 1016.2)"/>
<ellipse cx="1768.5" cy="1021.1" rx="63.2" ry="140" transform="rotate(21.2 1768.5 1021.1)"/>
<ellipse cx="1762.6" cy="1027.3" rx="53.2" ry="135.3" transform="rotate(20.5 1762.6 1027.3)"/>
<ellipse cx="1771.8" cy="1001.2" rx="55" ry="122" transform="rotate(23.3 1771.8 1001.2)"/>
<ellipse cx="1768.8" cy="1020.5" rx="62.3" ry="125.7" transform="rotate(21.1 1768.8 1020.5)"/>
<ellipse cx="1776.4" cy="1019.6" rx="65.3" ry="133.7" transform="rotate(20.4 1776.4 1019.6)"/>
<ellipse cx="1761" cy="1027.5" rx="62.7" ry="138.6" transform="rotate(23.4 1761 1027.5)"/>
<ellipse cx="1772.4" cy="1035.6" rx="74.5" ry="124.7" transform="rotate(13.7 1772.4 1035.6)"/>
<ellipse cx="1769.3" cy="1009.6" rx="67.6" ry="123.8" transform="rotate(23.4 1769.3 1009.6)"/>
<ellipse cx="1768" cy="1062.4" rx="62.4" ry="142.4" transform="rotate(14.5 1768 1062.4)"/>
<ellipse cx="1763.6" cy="1055.7" rx="66.9" ry="156.1" transform="rotate(19 1763.6 1055.7)"/>
<ellipse cx="1774.1" cy="1000.1" rx="76.9" ry="123" transform="rotate(18.3 1774.1 1000.1)"/>
<ellipse cx="1767.4" cy="1027.3" rx="62.4" ry="130.9" transform="rotate(18.8 1767.4 1027.3)"/>
<ellipse cx="1771.1" cy="1016.4" rx="63.4" ry="124" transform="rotate(22.7 1771.1 1016.4)"/>
<ellipse cx="1767.3" cy="1041" rx="75.4" ry="142.2" transform="rotate(21.1 1767.3 1041)"/>
<ellipse cx="1769.8" cy="1019.3" rx="76.7" ry="141.4" transform="rotate(20.9 1769.8 1019.3)"/>
<ellipse cx="1765.5" cy="1019.7" rx="59.4" ry="103.8" transform="rotate(21.3 1765.5 1019.7)"/>
<ellipse cx="1772.1" cy="1014.9" rx="70.4" ry="132.1" transform="rotate(17.5 1772.1 1014.9)"/>
<ellipse cx="1769.3" cy="1032.5" rx="57.6" ry="106.1" transform="rotate(19.5 1769.3 1032.5)"/>
<ellipse cx="1771.4" cy="1018.4" rx="62.5" ry="126.2" transform="rotate(21 1771.4 1018.4)"/>
<ellipse cx="1767.8" cy="1036.9" rx="60.5" ry="125.8" transform="rotate(21.9 1767.8 1036.9)"/>
<ellipse cx="1767.5" cy="1026.3" rx="57.6" ry="124.7" transform="rotate(19.2 1767.5 1026.3)"/>
<ellipse cx="1758.9" cy="1047.8" rx="55.2" ry="122.7" transform="rotate(18.8 1758.9 1047.8)"/>
<ellipse cx="1776.3" cy="1008.9" rx="76.1" ry="121.2" transform="rotate(19.4 1776.3 1008.9)"/>
<ellipse cx="1774.7" cy="1017.6" rx="64" ry="117.3" transform="rotate(16.8 1774.7 1017.6)"/>
<ellipse cx="1769.5" cy="1045.2" rx="66.1" ry="164.7" transform="rotate(16.1 1769.5 1045.2)"/>
<ellipse cx="1764" cy="1038.4" rx="61.9" ry="151" transform="rotate(20.1 1764 1038.4)"/>
<ellipse cx="1761.1" cy="1036.2" rx="65" ry="129.2" transform="rotate(17.1 1761.1 1036.2)"/>
<ellipse cx="1769.5" cy="1034.8" rx="62.8" ry="133.7" transform="rotate(18 1769.5 1034.8)"/>
<ellipse cx="1763.4" cy="1030.4" rx="62" ry="134.4" transform="rotate(20.1 1763.4 1030.4)"/>
<ellipse cx="1762.7" cy="1031.4" rx="61.3" ry="118.8" transform="rotate(23.2 1762.7 1031.4)"/>
<ellipse cx="1773.9" cy="1016.9" rx="68.8" ry="114.5" transform="rotate(20.1 1773.9 1016.9)"/>
<ellipse cx="1769.2" cy="1024.5" rx="69.1" ry="137.4" transform="rotate(21.3 1769.2 1024.5)"/>
<ellipse cx="1772.5" cy="1030" rx="66.4" ry="138.8" transform="rotate(17.3 1772.5 1030)"/>
<ellipse cx="1766.6" cy="1040.8" rx="55.7" ry="114.5" transform="rotate(16.7 1766.6 1040.8)"/>
<ellipse cx="1781" cy="1021.5" rx="70.5" ry="139.1" transform="rotate(18.6 1781 1021.5)"/>
<ellipse cx="1771.8" cy="1022" rx="66.6" ry="125.3" transform="rotate(20.5 1771.8 1022)"/>
<ellipse cx="1769.6" cy="1011.8" rx="60.3" ry="117.4" transform="rotate(18.6 1769.6 1011.8)"/>
<ellipse cx="1769.9" cy="1023.7" rx="52.7" ry="118.6" transform="rotate(19.6 1769.9 1023.7)"/>
<ellipse cx="1772.2" cy="1029.6" rx="64.9" ry="115.9" transform="rotate(13.1 1772.2 1029.6)"/>
<ellipse cx="1763.2" cy="1033.1" rx="54.8" ry="114.6" transform="rotate(19.8 1763.2 1033.1)"/>
<ellipse cx="1770.9" cy="1036.2" rx="64.8" ry="165.5" transform="rotate(17.3 1770.9 1036.2)"/>
<ellipse cx="1767" cy="1026.2" rx="56.2" ry="127.3" transform="rotate(21.5 1767 1026.2)"/>
<ellipse cx="1773.6" cy="1017.9" rx="60.8" ry="126.6" transform="rotate(21.8 1773.6 1017.9)"/>
<ellipse cx="1763.5" cy="1031.4" rx="50.9" ry="148.9" transform="rotate(21.9 1763.5 1031.4)"/>
<ellipse cx="1772" cy="1025.5" rx="61.7" ry="128.9" transform="rotate(21.2 1772 1025.5)"/>
<ellipse cx="1766.7" cy="1020.8" rx="55.4" ry="116.4" transform="rotate(24.6 1766.7 1020.8)"/>
<ellipse cx="1752.1" cy="1052.4" rx="56.5" ry="147.6" transform="rotate(24 1752.1 1052.4)"/>
<ellipse cx="1777.5" cy="1015.8" rx="73.2" ry="137.3" transform="rotate(21.8 1777.5 1015.8)"/>
<ellipse cx="1764.9" cy="1030.3" rx="70.2" ry="158.6" transform="rotate(19.2 1764.9 1030.3)"/>
<ellipse cx="1772.8" cy="1011.2" rx="59" ry="110" transform="rotate(25.6 1772.8 1011.2)"/>
<ellipse cx="1771.6" cy="1045.3" rx="62.4" ry="140.2" transform="rotate(15.2 1771.6 1045.3)"/>
<ellipse cx="1774.3" cy="1012" rx="70.2" ry="122.5" transform="rotate(20.6 1774.3 1012)"/>
<ellipse cx="1767.1" cy="1026" rx="66" ry="117.6" transform="rotate(17.4 1767.1 1026)"/>
<ellipse cx="1778.1" cy="1011.8" rx="68.5" ry="128.5" transform="rotate(21.6 1778.1 1011.8)"/>
<ellipse cx="1766.1" cy="1040.5" rx="66" ry="153.3" transform="rotate(21.6 1766.1 1040.5)"/>
<ellipse cx="1744.4" cy="1074.6" rx="78.3" ry="202.9" transform="rotate(23.4 1744.4 1074.6)"/>
<ellipse cx="1767.2" cy="1015.4" rx="55.9" ry="119" transform="rotate(20.6 1767.2 1015.4)"/>
<ellipse cx="1778.5" cy="1011" rx="56.4" ry="127.3" transform="rotate(18.3 1778.5 1011)"/>
<ellipse cx="1765.7" cy="1035.8" rx="48.6" ry="128.2" transform="rotate(20.4 1765.7 1035.8)"/>
<ellipse cx="1758.9" cy="1046.2" rx="57.7" ry="136" transform="rotate(19.9 1758.9 1046.2)"/>
<ellipse cx="1775.1" cy="997.3" rx="76.4" ry="131.7" transform="rotate(14.3 1775.1 997.3)"/>
<ellipse cx="1768.9" cy="1018" rx="73.5" ry="129.5" transform="rotate(18.6 1768.9 1018)"/>
<ellipse cx="1755.4" cy="1048.3" rx="59.5" ry="117.8" transform="rotate(20.3 1755.4 1048.3)"/>
<ellipse cx="1762.6" cy="1039.9" rx="65.7" ry="168.5" transform="rotate(19.1 1762.6 1039.9)"/>
<ellipse cx="1769.3" cy="1018.2" rx="62.1" ry="115.8" transform="rotate(20.3 1769.3 1018.2)"/>
<ellipse cx="1772.2" cy="1024.8" rx="66.4" ry="145" transform="rotate(19.6 1772.2 1024.8)"/>
<ellipse cx="1767.3" cy="1027.3" rx="68.1" ry="126.6" transform="rotate(18.4 1767.3 1027.3)"/>
<ellipse cx="1758.2" cy="1042.7" rx="54.1" ry="138.2" transform="rotate(21.4 1758.2 1042.7)"/>
<ellipse cx="1766.7" cy="1033.6" rx="76" ry="142.1" transform="rotate(18.3 1766.7 1033.6)"/>
<ellipse cx="1744.4" cy="1075.3" rx="79.9" ry="165.7" transform="rotate(19.7 1744.4 1075.3)"/>
<ellipse cx="1770.9" cy="1020.8" rx="71.9" ry="145" transform="rotate(21.3 1770.9 1020.8)"/>
<ellipse cx="1751.6" cy="1060.6" rx="61.9" ry="145.4" transform="rotate(24.4 1751.6 1060.6)"/>
<ellipse cx="1769.7" cy="1012.8" rx="62.6" ry="111.7" transform="rotate(19.1 1769.7 1012.8)"/>
<ellipse cx="1767.1" cy="1018.9" rx="63.7" ry="112.2" transform="rotate(21.9 1767.1 1018.9)"/>
<ellipse cx="1759.7" cy="1035.8" rx="67.8" ry="145" transform="rotate(25.2 1759.7 1035.8)"/>
<ellipse cx="1775.2" cy="1018.5" rx="56.1" ry="132.3" transform="rotate(19.4 1775.2 1018.5)"/>
<ellipse cx="1763.9" cy="1040.9" rx="77.6" ry="174.3" transform="rotate(18.7 1763.9 1040.9)"/>
<ellipse cx="1772.3" cy="1015.2" rx="59.2" ry="126.3" transform="rotate(15 1772.3 1015.2)"/>
<ellipse cx="1772" cy="1026.4" rx="54.5" ry="105.2" transform="rotate(19.9 1772 1026.4)"/>
<ellipse cx="1774.3" cy="1014.4" rx="71.2" ry="134.1" transform="rotate(19.5 1774.3 1014.4)"/>
<ellipse cx="1768.3" cy="1028.8" rx="61.4" ry="112" transform="rotate(18.5 1768.3 1028.8)"/>
<ellipse cx="1758.1" cy="1054.1" rx="85.3" ry="172.8" transform="rotate(19.3 1758.1 1054.1)"/>
<ellipse cx="1767.5" cy="1021.9" rx="76.7" ry="130.2" transform="rotate(19 1767.5 1021.9)"/>
<ellipse cx="1751.4" cy="1070.5" rx="85.1" ry="183.8" transform="rotate(19.5 1751.4 1070.5)"/>
<ellipse cx="1759.6" cy="1028.6" rx="68.1" ry="125.5" transform="rotate(24.2 1759.6 1028.6)"/>
<ellipse cx="1775.9" cy="1006.4" rx="74" ry="131.2" transform="rotate(21 1775.9 1006.4)"/>
<ellipse cx="1762.3" cy="1046.7" rx="78.2" ry="127.8" transform="rotate(19.2 1762.3 1046.7)"/>
<ellipse cx="1769.4" cy="1030.9" rx="65.8" ry="117.6" transform="rotate(18.8 1769.4 1030.9)"/>
<ellipse cx="1773.2" cy="1028.3" rx="55.8" ry="120.5" transform="rotate(15 1773.2 1028.3)"/>
<ellipse cx="1763.3" cy="1029.1" rx="55.4" ry="118.1" transform="rotate(21.7 1763.3 1029.1)"/>
<ellipse cx="1762.9" cy="1049.1" rx="73.8" ry="173.8" transform="rotate(18.2 1762.9 1049.1)"/>
<ellipse cx="1771.6" cy="1005" rx="57.6" ry="124.4" transform="rotate(17.2 1771.6 1005)"/>
<ellipse cx="1764.6" cy="1013.3" rx="68.4" ry="148.4" transform="rotate(22.3 1764.6 1013.3)"/>
<ellipse cx="1740.2" cy="1082" rx="72.8" ry="192.1" transform="rotate(22.5 1740.2 1082)"/>
<ellipse cx="1762.1" cy="1048.8" rx="72.7" ry="153.3" transform="rotate(19.2 1762.1 1048.8)"/>
<ellipse cx="1765.7" cy="1064.4" rx="69.6" ry="167.8" transform="rotate(14.2 1765.7 1064.4)"/>
<ellipse cx="1769.2" cy="1011.3" rx="58.4" ry="125.9" transform="rotate(21.7 1769.2 1011.3)"/>
<ellipse cx="1763.7" cy="1035.4" rx="65.1" ry="133.4" transform="rotate(19.5 1763.7 1035.4)"/>
<ellipse cx="1766.7" cy="1041.5" rx="63.6" ry="167.3" transform="rotate(18.1 1766.7 1041.5)"/>
<ellipse cx="1758.5" cy="1051.2" rx="69.3" ry="146.3" transform="rotate(21.6 1758.5 1051.2)"/>
<ellipse cx="1771.3" cy="1031.5" rx="54.3" ry="121.7" transform="rotate(18.3 1771.3 1031.5)"/>
<ellipse cx="1773.1" cy="1020.9" rx="65.8" ry="120.6" transform="rotate(22 1773.1 1020.9)"/>
<ellipse cx="1762" cy="1050.9" rx="71.6" ry="155.7" transform="rotate(18.4 1762 1050.9)"/>
<ellipse cx="1759.3" cy="1045.6" rx="82.8" ry="161.3" transform="rotate(18.9 1759.3 1045.6)"/>
<ellipse cx="1774.6" cy="1015.5" rx="62.6" ry="115" transform="rotate(18.8 1774.6 1015.5)"/>
<ellipse cx="1767.3" cy="1031.6" rx="65.1" ry="130.5" transform="rotate(17.5 1767.3 1031.6)"/>
<ellipse cx="1768.1" cy="1033.7" rx="55.7" ry="135.4" transform="rotate(18.9 1768.1 1033.7)"/>
<ellipse cx="1758.8" cy="1043.3" rx="74.5" ry="153.9" transform="rotate(20 1758.8 1043.3)"/>
<ellipse cx="1767.3" cy="1028.8" rx="62.1" ry="119.1" transform="rotate(19.5 1767.3 1028.8)"/>
<ellipse cx="1765.8" cy="1027.9" rx="71" ry="140.8" transform="rotate(18.3 1765.8 1027.9)"/>
<ellipse cx="1765.2" cy="1033" rx="85.8" ry="143.9" transform="rotate(19.2 1765.2 1033)"/>
<ellipse cx="1777.9" cy="1004.9" rx="73.4" ry="138.2" transform="rotate(16.5 1777.9 1004.9)"/>
<ellipse cx="1767.1" cy="1036.7" rx="80.3" ry="165" transform="rotate(20.3 1767.1 1036.7)"/>
<ellipse cx="1770.6" cy="1024.8" rx="69.5" ry="125.2" transform="rotate(20.3 1770.6 1024.8)"/>
<ellipse cx="1751.7" cy="1067.1" rx="74.1" ry="145.3" transform="rotate(19.4 1751.7 1067.1)"/>
<ellipse cx="1774.9" cy="1016.5" rx="60.4" ry="121.9" transform="rotate(21.8 1774.9 1016.5)"/>
<ellipse cx="1762" cy="1048" rx="51.4" ry="123.7" transform="rotate(18.2 1762 1048)"/>
<ellipse cx="1776.6" cy="1007" rx="77.7" ry="123.1" transform="rotate(20.8 1776.6 1007)"/>
<ellipse cx="1778.5" cy="1018.2" rx="64.4" ry="118.2" transform="rotate(21.2 1778.5 1018.2)"/>
<ellipse cx="1767.8" cy="1032.4" rx="60.3" ry="145.7" transform="rotate(16.9 1767.8 1032.4)"/>
<ellipse cx="1758.8" cy="1045.7" rx="78.9" ry="141.9" transform="rotate(23.7 1758.8 1045.7)"/>
<ellipse cx="1763.3" cy="1043.5" rx="59.5" ry="142.1" transform="rotate(20.7 1763.3 1043.5)"/>
<ellipse cx="1751.1" cy="1062.6" rx="65.3" ry="172.7" transform="rotate(20.7 1751.1 1062.6)"/>
<ellipse cx="1771.1" cy="1013.9" rx="67.5" ry="125.2" transform="rotate(21.8 1771.1 1013.9)"/>
<ellipse cx="1747.3" cy="1080.9" rx="79.7" ry="167.7" transform="rotate(21.6 1747.3 1080.9)"/>
<ellipse cx="1767.4" cy="1022.1" rx="62.2" ry="151.7" transform="rotate(21.9 1767.4 1022.1)"/>
<ellipse cx="1771.2" cy="1031.5" rx="76.4" ry="131.9" transform="rotate(15 1771.2 1031.5)"/>
<ellipse cx="1759.6" cy="1059.4" rx="71.8" ry="153.7" transform="rotate(19.2 1759.6 1059.4)"/>
<ellipse cx="1773.9" cy="1017.6" rx="58.5" ry="133.8" transform="rotate(20.3 1773.9 1017.6)"/>
<ellipse cx="1760.4" cy="1057.1" rx="54.4" ry="153.5" transform="rotate(16.7 1760.4 1057.1)"/>
<ellipse cx="1765.3" cy="1027" rx="70.4" ry="131.5" transform="rotate(18.4 1765.3 1027)"/>
<ellipse cx="1737.1" cy="1089.2" rx="67.7" ry="182.3" transform="rotate(24.4 1737.1 1089.2)"/>
<ellipse cx="1769.8" cy="1036.1" rx="70.7" ry="126.9" transform="rotate(17.4 1769.8 1036.1)"/>
<ellipse cx="1764.8" cy="1052" rx="68.4" ry="158.8" transform="rotate(16.5 1764.8 1052)"/>
<ellipse cx="1771.6" cy="1031.8" rx="93.6" ry="158.8" transform="rotate(17.3 1771.6 1031.8)"/>
<ellipse cx="1766.5" cy="1034" rx="73.9" ry="129.5" transform="rotate(17.3 1766.5 1034)"/>
<ellipse cx="1762.5" cy="1049.1" rx="65.3" ry="130.8" transform="rotate(17.1 1762.5 1049.1)"/>
<ellipse cx="1767.1" cy="1018.5" rx="72.5" ry="137.1" transform="rotate(18.7 1767.1 1018.5)"/>
<ellipse cx="1765.8" cy="1024.8" rx="55.6" ry="142.6" transform="rotate(15.6 1765.8 1024.8)"/>
<ellipse cx="1758.9" cy="1056.7" rx="67.1" ry="149.1" transform="rotate(20.4 1758.9 1056.7)"/>
</g>
<g stroke="#000" stroke-width="1.1" stroke-opacity="0.2">
<ellipse cx="1770.5" cy="1031.8" rx="38.3" ry="102.5" transform="rotate(14.2 1770.5 1031.8)"/>
<ellipse cx="1771.9" cy="1015.3" rx="35.7" ry="101.3" transform="rotate(18.2 1771.9 1015.3)"/>
<ellipse cx="1774.9" cy="1018.8" rx="27.8" ry="101.6" transform="rotate(11.9 1774.9 1018.8)"/>
<ellipse cx="1766.2" cy="1012.2" rx="44.2" ry="70.6" transform="rotate(21.5 1766.2 1012.2)"/>
<ellipse cx="1762.4" cy="1024.1" rx="29.9" ry="108.4" transform="rotate(21.5 1762.4 1024.1)"/>
<ellipse cx="1767.3" cy="1013.5" rx="27" ry="78.2" transform="rotate(21.9 1767.3 1013.5)"/>
<ellipse cx="1773.6" cy="1021.3" rx="38.8" ry="83.9" transform="rotate(18.9 1773.6 1021.3)"/>
<ellipse cx="1769.8" cy="1014" rx="32.5" ry="82.1" transform="rotate(19.8 1769.8 1014)"/>
<ellipse cx="1766.2" cy="1044.2" rx="31.7" ry="120.7" transform="rotate(19.8 1766.2 1044.2)"/>
<ellipse cx="1771.8" cy="1019.5" rx="27" ry="87.1" transform="rotate(20.7 1771.8 1019.5)"/>
<ellipse cx="1762.9" cy="1024" rx="48.3" ry="99.1" transform="rotate(21.8 1762.9 1024)"/>
<ellipse cx="1767.1" cy="1025.8" rx="43.3" ry="100.3" transform="rotate(19.1 1767.1 1025.8)"/>
<ellipse cx="1776.8" cy="1009.3" rx="36.5" ry="77.5" transform="rotate(18.1 1776.8 1009.3)"/>
<ellipse cx="1773" cy="1026.2" rx="27.9" ry="89.6" transform="rotate(17 1773 1026.2)"/>
<ellipse cx="1761.5" cy="1029.8" rx="26.6" ry="101.8" transform="rotate(19.9 1761.5 1029.8)"/>
<ellipse cx="1769.2" cy="1021.6" rx="41.9" ry="91.2" transform="rotate(20.1 1769.2 1021.6)"/>
<ellipse cx="1767.9" cy="1022.8" rx="41.5" ry="104.7" transform="rotate(21.5 1767.9 1022.8)"/>
<ellipse cx="1769.5" cy="1030.5" rx="32.9" ry="101.1" transform="rotate(20.6 1769.5 1030.5)"/>
<ellipse cx="1771.3" cy="1017.3" rx="25" ry="98.5" transform="rotate(19.4 1771.3 1017.3)"/>
<ellipse cx="1769.5" cy="1015.4" rx="34.7" ry="99.6" transform="rotate(21.4 1769.5 1015.4)"/>
<ellipse cx="1761.4" cy="1043" rx="50" ry="116.9" transform="rotate(21.2 1761.4 1043)"/>
<ellipse cx="1763.4" cy="1034.1" rx="37.1" ry="100.5" transform="rotate(20.1 1763.4 1034.1)"/>
<ellipse cx="1768" cy="1022.5" rx="39.4" ry="96.7" transform="rotate(23.1 1768 1022.5)"/>
<ellipse cx="1773" cy="1022.9" rx="22.3" ry="80.7" transform="rotate(17.6 1773 1022.9)"/>
<ellipse cx="1768.8" cy="1016.2" rx="39" ry="94" transform="rotate(17.7 1768.8 1016.2)"/>
<ellipse cx="1775.9" cy="1023.9" rx="49.3" ry="83" transform="rotate(16.2 1775.9 1023.9)"/>
<ellipse cx="1772.4" cy="1017.8" rx="36.1" ry="102.7" transform="rotate(18 1772.4 1017.8)"/>
<ellipse cx="1768.7" cy="1021.8" rx="45.5" ry="101.8" transform="rotate(22.5 1768.7 1021.8)"/>
<ellipse cx="1772.8" cy="1024" rx="39.7" ry="99.5" transform="rotate(16.8 1772.8 1024)"/>
<ellipse cx="1771.3" cy="1014.9" rx="55" ry="90.2" transform="rotate(17.1 1771.3 1014.9)"/>
<ellipse cx="1775.1" cy="1003.4" rx="29.4" ry="78.7" transform="rotate(15.8 1775.1 1003.4)"/>
<ellipse cx="1769.2" cy="1029.5" rx="46.4" ry="101.6" transform="rotate(21.6 1769.2 1029.5)"/>
<ellipse cx="1770.5" cy="1017.3" rx="46.5" ry="96.2" transform="rotate(18.3 1770.5 1017.3)"/>
<ellipse cx="1769.3" cy="1027" rx="38.5" ry="114.2" transform="rotate(21.4 1769.3 1027)"/>
<ellipse cx="1765" cy="1028.9" rx="25.9" ry="91.5" transform="rotate(19.9 1765 1028.9)"/>
<ellipse cx="1765.6" cy="1023.3" rx="29.2" ry="110.5" transform="rotate(19.5 1765.6 1023.3)"/>
<ellipse cx="1770.1" cy="1031.5" rx="38.9" ry="104.8" transform="rotate(14.7 1770.1 1031.5)"/>
<ellipse cx="1772.6" cy="1027.2" rx="46.9" ry="104.3" transform="rotate(16.3 1772.6 1027.2)"/>
<ellipse cx="1764.2" cy="1028.5" rx="40.1" ry="97.8" transform="rotate(21.3 1764.2 1028.5)"/>
<ellipse cx="1772.6" cy="1011.7" rx="23.8" ry="86.6" transform="rotate(20.9 1772.6 1011.7)"/>
<ellipse cx="1769.7" cy="1023.1" rx="36.7" ry="82" transform="rotate(23.4 1769.7 1023.1)"/>
<ellipse cx="1777.3" cy="1003.3" rx="35.6" ry="82.6" transform="rotate(20.7 1777.3 1003.3)"/>
<ellipse cx="1767.6" cy="1019.6" rx="52.3" ry="97.9" transform="rotate(23.2 1767.6 1019.6)"/>
<ellipse cx="1761.6" cy="1051.2" rx="31.5" ry="116.8" transform="rotate(22.5 1761.6 1051.2)"/>
<ellipse cx="1766.2" cy="1031.8" rx="33.3" ry="97.5" transform="rotate(20.8 1766.2 1031.8)"/>
<ellipse cx="1766.5" cy="1022.6" rx="36.4" ry="112.8" transform="rotate(22.4 1766.5 1022.6)"/>
<ellipse cx="1762.3" cy="1048.3" rx="29.1" ry="119.6" transform="rotate(18.3 1762.3 1048.3)"/>
<ellipse cx="1774.4" cy="1007.3" rx="46" ry="70.6" transform="rotate(17.6 1774.4 1007.3)"/>
<ellipse cx="1778.5" cy="1018.7" rx="26.8" ry="86.1" transform="rotate(20 1778.5 1018.7)"/>
<ellipse cx="1764" cy="1028.4" rx="22.9" ry="110.1" transform="rotate(19.5 1764 1028.4)"/>
<ellipse cx="1769.4" cy="1018.7" rx="36.8" ry="99.6" transform="rotate(19.3 1769.4 1018.7)"/>
<ellipse cx="1766.5" cy="1038.1" rx="24" ry="98.1" transform="rotate(16.6 1766.5 1038.1)"/>
<ellipse cx="1766.9" cy="1030.6" rx="45.6" ry="98.3" transform="rotate(20.2 1766.9 1030.6)"/>
<ellipse cx="1762.3" cy="1032.4" rx="19.9" ry="108.1" transform="rotate(20.5 1762.3 1032.4)"/>
<ellipse cx="1768.9" cy="1030.9" rx="33" ry="93.1" transform="rotate(21 1768.9 1030.9)"/>
<ellipse cx="1767.7" cy="1034.9" rx="54.1" ry="87.3" transform="rotate(21.7 1767.7 1034.9)"/>
<ellipse cx="1776.1" cy="1010.3" rx="26.3" ry="83.3" transform="rotate(21.3 1776.1 1010.3)"/>
<ellipse cx="1771.2" cy="1026" rx="38.8" ry="92.3" transform="rotate(15.2 1771.2 1026)"/>
<ellipse cx="1757.8" cy="1036.9" rx="35.5" ry="128.5" transform="rotate(24.1 1757.8 1036.9)"/>
<ellipse cx="1783" cy="1007.5" rx="45.1" ry="70.3" transform="rotate(18.6 1783 1007.5)"/>
<ellipse cx="1764.9" cy="1023.9" rx="20.2" ry="102.2" transform="rotate(23.3 1764.9 1023.9)"/>
<ellipse cx="1774.2" cy="1001.7" rx="44.8" ry="73.6" transform="rotate(22 1774.2 1001.7)"/>
<ellipse cx="1772.2" cy="1030.3" rx="45.2" ry="103.3" transform="rotate(19.8 1772.2 1030.3)"/>
<ellipse cx="1772.7" cy="1020.4" rx="32.3" ry="90.9" transform="rotate(13.2 1772.7 1020.4)"/>
<ellipse cx="1763.1" cy="1021" rx="29.1" ry="106.1" transform="rotate(20.4 1763.1 1021)"/>
<ellipse cx="1770.8" cy="1033" rx="42.8" ry="103.1" transform="rotate(17.6 1770.8 1033)"/>
<ellipse cx="1769.6" cy="1012.3" rx="43.2" ry="101.7" transform="rotate(15.7 1769.6 1012.3)"/>
<ellipse cx="1769.9" cy="1022.9" rx="38.3" ry="101.9" transform="rotate(18.1 1769.9 1022.9)"/>
<ellipse cx="1771.7" cy="1041.7" rx="34.6" ry="121.2" transform="rotate(15.4 1771.7 1041.7)"/>
<ellipse cx="1762.7" cy="1027.6" rx="38.2" ry="108.9" transform="rotate(25.4 1762.7 1027.6)"/>
<ellipse cx="1777.1" cy="1003.8" rx="31.3" ry="80.6" transform="rotate(17.9 1777.1 1003.8)"/>
<ellipse cx="1772.5" cy="1015.8" rx="52.1" ry="92" transform="rotate(16.9 1772.5 1015.8)"/>
<ellipse cx="1772.2" cy="1010.3" rx="41.7" ry="86" transform="rotate(21.2 1772.2 1010.3)"/>
<ellipse cx="1767.9" cy="1017.6" rx="39.1" ry="107.3" transform="rotate(17.2 1767.9 1017.6)"/>
<ellipse cx="1761" cy="1021.1" rx="32.4" ry="92.3" transform="rotate(21.5 1761 1021.1)"/>
<ellipse cx="1773.2" cy="1010.6" rx="48.6" ry="73.5" transform="rotate(18.2 1773.2 1010.6)"/>
<ellipse cx="1757.6" cy="1036.6" rx="32.8" ry="103.6" transform="rotate(20.1 1757.6 1036.6)"/>
<ellipse cx="1766.4" cy="1023" rx="41.5" ry="108.3" transform="rotate(22.7 1766.4 1023)"/>
<ellipse cx="1766.7" cy="1033.4" rx="40.4" ry="105.9" transform="rotate(19 1766.7 1033.4)"/>
<ellipse cx="1770.8" cy="1036.4" rx="45" ry="104.3" transform="rotate(19.6 1770.8 1036.4)"/>
<ellipse cx="1763.7" cy="1027.9" rx="52" ry="89.2" transform="rotate(18.5 1763.7 1027.9)"/>
<ellipse cx="1764.7" cy="1023" rx="25.8" ry="111.1" transform="rotate(21.5 1764.7 1023)"/>
<ellipse cx="1768.7" cy="1029.5" rx="32.2" ry="91" transform="rotate(16.8 1768.7 1029.5)"/>
<ellipse cx="1764.3" cy="1028.8" rx="36.4" ry="94.9" transform="rotate(21.4 1764.3 1028.8)"/>
<ellipse cx="1771.7" cy="1017" rx="34.4" ry="78.2" transform="rotate(23.4 1771.7 1017)"/>
<ellipse cx="1760.9" cy="1036.1" rx="26.1" ry="106.3" transform="rotate(22.1 1760.9 1036.1)"/>
<ellipse cx="1764.1" cy="1026.8" rx="34.1" ry="109.1" transform="rotate(20.4 1764.1 1026.8)"/>
<ellipse cx="1763.3" cy="1036" rx="55" ry="110.4" transform="rotate(21.3 1763.3 1036)"/>
<ellipse cx="1766.5" cy="1041.3" rx="21.6" ry="105.9" transform="rotate(17.6 1766.5 1041.3)"/>
<ellipse cx="1761.4" cy="1046.1" rx="46.4" ry="110.3" transform="rotate(18.2 1761.4 1046.1)"/>
<ellipse cx="1772.1" cy="1016.1" rx="40.6" ry="77.4" transform="rotate(21.1 1772.1 1016.1)"/>
<ellipse cx="1773.8" cy="1018.8" rx="39.8" ry="93.8" transform="rotate(15.9 1773.8 1018.8)"/>
<ellipse cx="1770.9" cy="1034.1" rx="32.4" ry="120" transform="rotate(18.7 1770.9 1034.1)"/>
<ellipse cx="1780.2" cy="1003.3" rx="32.7" ry="90" transform="rotate(20.2 1780.2 1003.3)"/>
<ellipse cx="1760.9" cy="1033.5" rx="33.9" ry="102.1" transform="rotate(25.5 1760.9 1033.5)"/>
<ellipse cx="1765.7" cy="1020.4" rx="46.1" ry="94.5" transform="rotate(21.3 1765.7 1020.4)"/>
<ellipse cx="1772" cy="1009.5" rx="29.8" ry="85" transform="rotate(16.3 1772 1009.5)"/>
<ellipse cx="1769.5" cy="1017" rx="41.4" ry="84.9" transform="rotate(21.6 1769.5 1017)"/>
<ellipse cx="1771.2" cy="1040.2" rx="18.3" ry="102.6" transform="rotate(14.7 1771.2 1040.2)"/>
<ellipse cx="1767.6" cy="1032.8" rx="34.6" ry="112.5" transform="rotate(16.4 1767.6 1032.8)"/>
<ellipse cx="1771.3" cy="1014.3" rx="30.3" ry="92.9" transform="rotate(16.1 1771.3 1014.3)"/>
<ellipse cx="1769" cy="1026.3" rx="26.1" ry="107.6" transform="rotate(16.9 1769 1026.3)"/>
<ellipse cx="1773.1" cy="1010.4" rx="35.1" ry="88.4" transform="rotate(14.2 1773.1 1010.4)"/>
<ellipse cx="1770.2" cy="1033.9" rx="26.1" ry="110.6" transform="rotate(17.6 1770.2 1033.9)"/>
<ellipse cx="1773.1" cy="1022" rx="41.3" ry="91.1" transform="rotate(20.1 1773.1 1022)"/>
<ellipse cx="1768.5" cy="1014.3" rx="35.5" ry="96" transform="rotate(19.4 1768.5 1014.3)"/>
<ellipse cx="1762.1" cy="1038.6" rx="22.3" ry="105.2" transform="rotate(22.1 1762.1 1038.6)"/>
<ellipse cx="1763" cy="1029.7" rx="40.9" ry="104.1" transform="rotate(22.6 1763 1029.7)"/>
<ellipse cx="1765.1" cy="1021.7" rx="53.6" ry="95.1" transform="rotate(22 1765.1 1021.7)"/>
<ellipse cx="1777.1" cy="1021.3" rx="36.7" ry="89.6" transform="rotate(20.1 1777.1 1021.3)"/>
<ellipse cx="1763.8" cy="1044" rx="40.6" ry="102" transform="rotate(17.8 1763.8 1044)"/>
<ellipse cx="1774.8" cy="1029.7" rx="45.7" ry="97.2" transform="rotate(15.8 1774.8 1029.7)"/>
<ellipse cx="1761.1" cy="1041.6" rx="40.4" ry="113.8" transform="rotate(22.7 1761.1 1041.6)"/>
<ellipse cx="1771.1" cy="1021.4" rx="29.2" ry="104.4" transform="rotate(21.3 1771.1 1021.4)"/>
<ellipse cx="1774.7" cy="995.3" rx="34.9" ry="84.5" transform="rotate(22.3 1774.7 995.3)"/>
<ellipse cx="1767.6" cy="1049.2" rx="49.5" ry="120.3" transform="rotate(17.4 1767.6 1049.2)"/>
<ellipse cx="1764.8" cy="1027" rx="40.1" ry="112.9" transform="rotate(20.2 1764.8 1027)"/>
<ellipse cx="1760.2" cy="1032.7" rx="38" ry="104.8" transform="rotate(24.3 1760.2 1032.7)"/>
<ellipse cx="1765.8" cy="1031.6" rx="39.2" ry="84.5" transform="rotate(20.6 1765.8 1031.6)"/>
<ellipse cx="1759.3" cy="1043.1" rx="30.8" ry="111.8" transform="rotate(21.4 1759.3 1043.1)"/>
<ellipse cx="1765.4" cy="1046" rx="15" ry="109.2" transform="rotate(17.5 1765.4 1046)"/>
<ellipse cx="1772.7" cy="1036.8" rx="35.9" ry="105.8" transform="rotate(18.5 1772.7 1036.8)"/>
<ellipse cx="1772.4" cy="1025.5" rx="27" ry="96.4" transform="rotate(17.8 1772.4 1025.5)"/>
<ellipse cx="1763.7" cy="1020.4" rx="30.5" ry="101.7" transform="rotate(21.4 1763.7 1020.4)"/>
<ellipse cx="1767.1" cy="1023.2" rx="29.2" ry="94.9" transform="rotate(20 1767.1 1023.2)"/>
<ellipse cx="1757.7" cy="1046" rx="43.5" ry="115.4" transform="rotate(22.7 1757.7 1046)"/>
<ellipse cx="1762" cy="1026.9" rx="47.8" ry="112.2" transform="rotate(25.6 1762 1026.9)"/>
<ellipse cx="1772.1" cy="1024.4" rx="15" ry="99.9" transform="rotate(16.2 1772.1 1024.4)"/>
<ellipse cx="1768.8" cy="1015.3" rx="47.1" ry="95.9" transform="rotate(22.9 1768.8 1015.3)"/>
<ellipse cx="1771.1" cy="1039.5" rx="41.1" ry="125.1" transform="rotate(17.2 1771.1 1039.5)"/>
</g>
<g stroke="#4c72b0" stroke-width="4.5" stroke-opacity="0.6">
<ellipse cx="1772.3" cy="1016.5" rx="53.2" ry="117" transform="rotate(18.9 1772.3 1016.5)"/>
<ellipse cx="1767.8" cy="1018.8" rx="64.8" ry="128.3" transform="rotate(20.6 1767.8 1018.8)"/>
<ellipse cx="1769.6" cy="1019" rx="61.2" ry="116.6" transform="rotate(19.1 1769.6 1019)"/>
<ellipse cx="1774.4" cy="1010.7" rx="45.8" ry="124.9" transform="rotate(21.4 1774.4 1010.7)"/>
<ellipse cx="1772.2" cy="1016" rx="49.6" ry="122.1" transform="rotate(20.3 1772.2 1016)"/>
<ellipse cx="1770.7" cy="1020.6" rx="48.8" ry="127.5" transform="rotate(20.3 1770.7 1020.6)"/>
<ellipse cx="1775.8" cy="1022.3" rx="29" ry="127.5" transform="rotate(18.4 1775.8 1022.3)"/>
<ellipse cx="1769.8" cy="1018.5" rx="53.9" ry="116.2" transform="rotate(21.1 1769.8 1018.5)"/>
<ellipse cx="1770.6" cy="1015.1" rx="52.2" ry="121" transform="rotate(22.3 1770.6 1015.1)"/>
<ellipse cx="1766.6" cy="1020.5" rx="68.4" ry="120.1" transform="rotate(20.2 1766.6 1020.5)"/>
<ellipse cx="1769.4" cy="1026.5" rx="47.9" ry="116.4" transform="rotate(19.5 1769.4 1026.5)"/>
<ellipse cx="1771.1" cy="1018" rx="49.2" ry="126.2" transform="rotate(21 1771.1 1018)"/>
<ellipse cx="1770.7" cy="1017.3" rx="55.2" ry="122" transform="rotate(20.1 1770.7 1017.3)"/>
<ellipse cx="1772.8" cy="1016.7" rx="52.3" ry="116" transform="rotate(18.3 1772.8 1016.7)"/>
<ellipse cx="1767.7" cy="1029.9" rx="49.5" ry="124.7" transform="rotate(19.7 1767.7 1029.9)"/>
<ellipse cx="1771.1" cy="1018.7" rx="52.2" ry="119.7" transform="rotate(19.8 1771.1 1018.7)"/>
<ellipse cx="1768.6" cy="1026.3" rx="44.7" ry="123.6" transform="rotate(21.3 1768.6 1026.3)"/>
<ellipse cx="1769.9" cy="1016.5" rx="62.4" ry="107.3" transform="rotate(19.5 1769.9 1016.5)"/>
<ellipse cx="1771.8" cy="1023.1" rx="41" ry="120.4" transform="rotate(19.8 1771.8 1023.1)"/>
<ellipse cx="1771" cy="1021.4" rx="45.2" ry="111.1" transform="rotate(20.5 1771 1021.4)"/>
<ellipse cx="1771.4" cy="1009.6" rx="68.9" ry="117.1" transform="rotate(18.8 1771.4 1009.6)"/>
<ellipse cx="1771.2" cy="1009.2" rx="68.2" ry="99.5" transform="rotate(19.6 1771.2 1009.2)"/>
<ellipse cx="1773.3" cy="1015.9" rx="40.5" ry="113.2" transform="rotate(21.7 1773.3 1015.9)"/>
<ellipse cx="1770.7" cy="1030.5" rx="49.9" ry="131.4" transform="rotate(16.2 1770.7 1030.5)"/>
<ellipse cx="1772.2" cy="1013.3" rx="49.5" ry="120.1" transform="rotate(22.1 1772.2 1013.3)"/>
<ellipse cx="1769.4" cy="1026.4" rx="51.9" ry="126.8" transform="rotate(18.6 1769.4 1026.4)"/>
<ellipse cx="1770" cy="1011.9" rx="64.9" ry="117.6" transform="rotate(21.1 1770 1011.9)"/>
<ellipse cx="1769.3" cy="1021.5" rx="57.9" ry="124.2" transform="rotate(19.3 1769.3 1021.5)"/>
<ellipse cx="1772.3" cy="1014.2" rx="58.5" ry="121.2" transform="rotate(18.3 1772.3 1014.2)"/>
<ellipse cx="1772.5" cy="1021.2" rx="43.7" ry="123" transform="rotate(19.1 1772.5 1021.2)"/>
<ellipse cx="1770.1" cy="1024.5" rx="44.5" ry="123.2" transform="rotate(20.4 1770.1 1024.5)"/>
<ellipse cx="1775.2" cy="1017.2" rx="35.1" ry="126.9" transform="rotate(19.9 1775.2 1017.2)"/>
<ellipse cx="1770.3" cy="1012.5" rx="63.7" ry="121.3" transform="rotate(20.6 1770.3 1012.5)"/>
<ellipse cx="1773.6" cy="1015.9" rx="46.7" ry="119.6" transform="rotate(19.3 1773.6 1015.9)"/>
<ellipse cx="1769.7" cy="1021.1" rx="56.5" ry="123.7" transform="rotate(19.3 1769.7 1021.1)"/>
<ellipse cx="1774.5" cy="1021.8" rx="35.1" ry="122.8" transform="rotate(18.6 1774.5 1021.8)"/>
<ellipse cx="1771.7" cy="1019.5" rx="49.2" ry="116.4" transform="rotate(19.3 1771.7 1019.5)"/>
<ellipse cx="1770.3" cy="1025.3" rx="55.1" ry="121.9" transform="rotate(17.3 1770.3 1025.3)"/>
<ellipse cx="1770.8" cy="1010.3" rx="70" ry="112.9" transform="rotate(19 1770.8 1010.3)"/>
<ellipse cx="1771.2" cy="1020" rx="50.1" ry="119.5" transform="rotate(19.6 1771.2 1020)"/>
<ellipse cx="1769.7" cy="1014.3" rx="60.9" ry="126.3" transform="rotate(21.4 1769.7 1014.3)"/>
<ellipse cx="1764" cy="1030.4" rx="59.4" ry="128.2" transform="rotate(21.2 1764 1030.4)"/>
<ellipse cx="1768.4" cy="1025.6" rx="56.5" ry="122.9" transform="rotate(18.9 1768.4 1025.6)"/>
<ellipse cx="1772.5" cy="1015.8" rx="49.7" ry="130.3" transform="rotate(20 1772.5 1015.8)"/>
<ellipse cx="1767.3" cy="1021.7" rx="58.3" ry="130.3" transform="rotate(21.6 1767.3 1021.7)"/>
<ellipse cx="1777.1" cy="1007.1" rx="47.1" ry="116.6" transform="rotate(18.3 1777.1 1007.1)"/>
<ellipse cx="1768.1" cy="1026.8" rx="59.1" ry="129.9" transform="rotate(18.2 1768.1 1026.8)"/>
<ellipse cx="1769.9" cy="1025.8" rx="46.6" ry="126" transform="rotate(19.6 1769.9 1025.8)"/>
<ellipse cx="1773.8" cy="1005.6" rx="60.4" ry="109.3" transform="rotate(20.2 1773.8 1005.6)"/>
<ellipse cx="1776" cy="1011.4" rx="44.1" ry="115.5" transform="rotate(18.8 1776 1011.4)"/>
<ellipse cx="1769.4" cy="1017.2" rx="53.6" ry="121.4" transform="rotate(22.4 1769.4 1017.2)"/>
<ellipse cx="1774.2" cy="1010.2" rx="45.3" ry="119.4" transform="rotate(22.3 1774.2 1010.2)"/>
<ellipse cx="1765.4" cy="1026.7" rx="69" ry="128.2" transform="rotate(18.9 1765.4 1026.7)"/>
<ellipse cx="1773.5" cy="1020.4" rx="43.1" ry="119.9" transform="rotate(18.3 1773.5 1020.4)"/>
<ellipse cx="1770.1" cy="1025" rx="47.5" ry="124.5" transform="rotate(19.4 1770.1 1025)"/>
<ellipse cx="1772.6" cy="1011" rx="67.8" ry="109.9" transform="rotate(16.2 1772.6 1011)"/>
<ellipse cx="1771.5" cy="1024.3" rx="37.6" ry="121.9" transform="rotate(20.6 1771.5 1024.3)"/>
<ellipse cx="1774.8" cy="1009.6" rx="54.4" ry="118.4" transform="rotate(18.1 1774.8 1009.6)"/>
<ellipse cx="1769.9" cy="1016.7" rx="54.5" ry="122.3" transform="rotate(21.8 1769.9 1016.7)"/>
<ellipse cx="1768.9" cy="1025.2" rx="58.9" ry="130.3" transform="rotate(17.9 1768.9 1025.2)"/>
<ellipse cx="1771.9" cy="1021.1" rx="37" ry="124.2" transform="rotate(21.7 1771.9 1021.1)"/>
<ellipse cx="1772.2" cy="1020.9" rx="42.8" ry="122.8" transform="rotate(19.8 1772.2 1020.9)"/>
<ellipse cx="1774" cy="1016" rx="53" ry="119" transform="rotate(16.5 1774 1016)"/>
<ellipse cx="1780.1" cy="1009.3" rx="29.3" ry="117" transform="rotate(18.3 1780.1 1009.3)"/>
<ellipse cx="1770.7" cy="1024.5" rx="42.6" ry="121.2" transform="rotate(20.2 1770.7 1024.5)"/>
<ellipse cx="1761.7" cy="1033" rx="57.9" ry="131.6" transform="rotate(22.7 1761.7 1033)"/>
<ellipse cx="1770" cy="1025.6" rx="42.1" ry="121.4" transform="rotate(20.6 1770 1025.6)"/>
<ellipse cx="1778.5" cy="1007.6" rx="40.2" ry="111.8" transform="rotate(18 1778.5 1007.6)"/>
<ellipse cx="1774.7" cy="1019.1" rx="42.1" ry="110.9" transform="rotate(17.6 1774.7 1019.1)"/>
<ellipse cx="1773.4" cy="1022.4" rx="38.4" ry="124" transform="rotate(18.9 1773.4 1022.4)"/>
<ellipse cx="1772.4" cy="1017.1" rx="44.8" ry="118.7" transform="rotate(20.9 1772.4 1017.1)"/>
<ellipse cx="1769.1" cy="1019.4" rx="49.9" ry="127.1" transform="rotate(22.7 1769.1 1019.4)"/>
<ellipse cx="1773.3" cy="1010.6" rx="50.9" ry="122.7" transform="rotate(21.5 1773.3 1010.6)"/>
<ellipse cx="1770.3" cy="1023.2" rx="52.6" ry="120.3" transform="rotate(18.7 1770.3 1023.2)"/>
<ellipse cx="1777.1" cy="1010.1" rx="46.4" ry="109.2" transform="rotate(16.7 1777.1 1010.1)"/>
<ellipse cx="1767.5" cy="1020.4" rx="65" ry="136.3" transform="rotate(20.2 1767.5 1020.4)"/>
<ellipse cx="1766.6" cy="1022.1" rx="62.8" ry="131.3" transform="rotate(21.1 1766.6 1022.1)"/>
<ellipse cx="1771.8" cy="1024.2" rx="46.5" ry="120.1" transform="rotate(17.9 1771.8 1024.2)"/>
<ellipse cx="1768.7" cy="1023.9" rx="63.1" ry="119.4" transform="rotate(17.7 1768.7 1023.9)"/>
<ellipse cx="1771.1" cy="1022.7" rx="48.1" ry="134.8" transform="rotate(19 1771.1 1022.7)"/>
<ellipse cx="1771.1" cy="1025.1" rx="48" ry="126.2" transform="rotate(18 1771.1 1025.1)"/>
<ellipse cx="1775.2" cy="1004.2" rx="53.5" ry="107.6" transform="rotate(21.4 1775.2 1004.2)"/>
<ellipse cx="1768.2" cy="1021.5" rx="57.2" ry="126" transform="rotate(20.8 1768.2 1021.5)"/>
<ellipse cx="1773.8" cy="1012.9" rx="49.6" ry="115" transform="rotate(19.6 1773.8 1012.9)"/>
<ellipse cx="1769.1" cy="1024.6" rx="56.4" ry="134.3" transform="rotate(18.6 1769.1 1024.6)"/>
<ellipse cx="1768" cy="1018" rx="66.6" ry="116.6" transform="rotate(20.2 1768 1018)"/>
<ellipse cx="1771" cy="1013" rx="61.3" ry="114.9" transform="rotate(20.1 1771 1013)"/>
<ellipse cx="1767.9" cy="1017.9" rx="69.7" ry="120.5" transform="rotate(19.5 1767.9 1017.9)"/>
<ellipse cx="1769.3" cy="1020.7" rx="52.5" ry="133.1" transform="rotate(21 1769.3 1020.7)"/>
<ellipse cx="1774.3" cy="1013.9" rx="49.2" ry="114.2" transform="rotate(18.3 1774.3 1013.9)"/>
<ellipse cx="1770" cy="1016.2" rx="58" ry="121.6" transform="rotate(20.9 1770 1016.2)"/>
<ellipse cx="1772" cy="1027" rx="33.1" ry="116" transform="rotate(19.9 1772 1027)"/>
<ellipse cx="1769.3" cy="1021.1" rx="66.3" ry="118" transform="rotate(17.1 1769.3 1021.1)"/>
<ellipse cx="1774.8" cy="1018.4" rx="32.1" ry="120.1" transform="rotate(20.7 1774.8 1018.4)"/>
<ellipse cx="1771.1" cy="1014.5" rx="44.4" ry="116.8" transform="rotate(24.5 1771.1 1014.5)"/>
<ellipse cx="1777" cy="1009" rx="42.2" ry="107.1" transform="rotate(19.2 1777 1009)"/>
<ellipse cx="1772.7" cy="1019.4" rx="41" ry="118.3" transform="rotate(20.5 1772.7 1019.4)"/>
<ellipse cx="1775.8" cy="1011.9" rx="43.4" ry="109.7" transform="rotate(19.1 1775.8 1011.9)"/>
<ellipse cx="1771.8" cy="1019" rx="48.5" ry="125.7" transform="rotate(19.7 1771.8 1019)"/>
<ellipse cx="1767.7" cy="1030.3" rx="45.5" ry="133.9" transform="rotate(20.4 1767.7 1030.3)"/>
<ellipse cx="1773.7" cy="1010.2" rx="54" ry="116" transform="rotate(19.9 1773.7 1010.2)"/>
<ellipse cx="1766.4" cy="1021.8" rx="62.8" ry="122.3" transform="rotate(21.4 1766.4 1021.8)"/>
<ellipse cx="1767.2" cy="1018.8" rx="76.7" ry="120.7" transform="rotate(18 1767.2 1018.8)"/>
<ellipse cx="1768.6" cy="1022.7" rx="53.6" ry="126.5" transform="rotate(20.7 1768.6 1022.7)"/>
<ellipse cx="1767.6" cy="1021.5" rx="65.5" ry="125.4" transform="rotate(19.4 1767.6 1021.5)"/>
<ellipse cx="1772.5" cy="1017.6" rx="47.8" ry="120.2" transform="rotate(19.7 1772.5 1017.6)"/>
<ellipse cx="1763.3" cy="1023.9" rx="69.9" ry="121.4" transform="rotate(22.3 1763.3 1023.9)"/>
<ellipse cx="1772.2" cy="1007.9" rx="68" ry="117.6" transform="rotate(18.6 1772.2 1007.9)"/>
<ellipse cx="1768.3" cy="1030.1" rx="40.7" ry="131.8" transform="rotate(21 1768.3 1030.1)"/>
<ellipse cx="1773.3" cy="1017" rx="42.8" ry="119.9" transform="rotate(20.3 1773.3 1017)"/>
<ellipse cx="1767.8" cy="1025.7" rx="64.9" ry="125.4" transform="rotate(17.6 1767.8 1025.7)"/>
<ellipse cx="1775" cy="1018.8" rx="39.6" ry="116.4" transform="rotate(18 1775 1018.8)"/>
<ellipse cx="1775.7" cy="1018" rx="34.7" ry="118.9" transform="rotate(18.9 1775.7 1018)"/>
<ellipse cx="1775.2" cy="1009.7" rx="42.3" ry="113.7" transform="rotate(22.1 1775.2 1009.7)"/>
<ellipse cx="1778.7" cy="1005.5" rx="37.8" ry="113.4" transform="rotate(20.3 1778.7 1005.5)"/>
<ellipse cx="1771" cy="1020.2" rx="47.3" ry="114.8" transform="rotate(20.5 1771 1020.2)"/>
<ellipse cx="1775.8" cy="1011" rx="39.1" ry="99.7" transform="rotate(21.2 1775.8 1011)"/>
<ellipse cx="1773.5" cy="1007.7" rx="57.2" ry="108.4" transform="rotate(20.8 1773.5 1007.7)"/>
<ellipse cx="1769.9" cy="1016.1" rx="56.6" ry="117.1" transform="rotate(21.5 1769.9 1016.1)"/>
<ellipse cx="1770.8" cy="1021.2" rx="51.5" ry="123.9" transform="rotate(19.1 1770.8 1021.2)"/>
<ellipse cx="1770.7" cy="1022.7" rx="48.8" ry="118.9" transform="rotate(19.3 1770.7 1022.7)"/>
<ellipse cx="1771" cy="1018.5" rx="61.1" ry="126" transform="rotate(17.3 1771 1018.5)"/>
<ellipse cx="1775.5" cy="1013.8" rx="43.5" ry="117.8" transform="rotate(18.4 1775.5 1013.8)"/>
<ellipse cx="1773.3" cy="1020.7" rx="44.5" ry="129" transform="rotate(18 1773.3 1020.7)"/>
<ellipse cx="1770.4" cy="1014.8" rx="69.4" ry="117.1" transform="rotate(17.5 1770.4 1014.8)"/>
<ellipse cx="1769.9" cy="1021.8" rx="52.1" ry="112.8" transform="rotate(19.9 1769.9 1021.8)"/>
<ellipse cx="1768.9" cy="1029.2" rx="48.4" ry="135.7" transform="rotate(18.9 1768.9 1029.2)"/>
<ellipse cx="1767.6" cy="1024.2" rx="61" ry="116.3" transform="rotate(19.3 1767.6 1024.2)"/>
<ellipse cx="1769.2" cy="1013.9" rx="67.9" ry="123.7" transform="rotate(20.2 1769.2 1013.9)"/>
<ellipse cx="1776.4" cy="1018.8" rx="35.9" ry="112.7" transform="rotate(17.1 1776.4 1018.8)"/>
<ellipse cx="1765.9" cy="1021.4" rx="72.5" ry="126.5" transform="rotate(19.6 1765.9 1021.4)"/>
<ellipse cx="1771.3" cy="1011.3" rx="62.4" ry="112.1" transform="rotate(20.3 1771.3 1011.3)"/>
<ellipse cx="1770.2" cy="1024.5" rx="57.9" ry="122.7" transform="rotate(16.9 1770.2 1024.5)"/>
<ellipse cx="1773" cy="1017.4" rx="47.9" ry="123.1" transform="rotate(19.1 1773 1017.4)"/>
<ellipse cx="1767.4" cy="1021.9" rx="71.2" ry="135.2" transform="rotate(18 1767.4 1021.9)"/>
<ellipse cx="1771.9" cy="1026.7" rx="39.3" ry="123.9" transform="rotate(18.6 1771.9 1026.7)"/>
<ellipse cx="1762.7" cy="1033.6" rx="63.2" ry="126.6" transform="rotate(20.4 1762.7 1033.6)"/>
<ellipse cx="1772.7" cy="1015.1" rx="47.8" ry="117.9" transform="rotate(20.6 1772.7 1015.1)"/>
<ellipse cx="1770" cy="1028.4" rx="46.8" ry="125.8" transform="rotate(18.4 1770 1028.4)"/>
<ellipse cx="1772.2" cy="1013.4" rx="57.8" ry="123" transform="rotate(19.1 1772.2 1013.4)"/>
<ellipse cx="1769.5" cy="1027.8" rx="37.9" ry="117.6" transform="rotate(21.3 1769.5 1027.8)"/>
<ellipse cx="1772.9" cy="1010.8" rx="55.2" ry="103.2" transform="rotate(20.3 1772.9 1010.8)"/>
<ellipse cx="1773.5" cy="1010.3" rx="61.3" ry="112.4" transform="rotate(17.5 1773.5 1010.3)"/>
<ellipse cx="1772.6" cy="1014.7" rx="48" ry="113.5" transform="rotate(21 1772.6 1014.7)"/>
<ellipse cx="1770" cy="1023.7" rx="59.3" ry="121.8" transform="rotate(17.1 1770 1023.7)"/>
<ellipse cx="1771.9" cy="1019.5" rx="45.8" ry="114" transform="rotate(20.2 1771.9 1019.5)"/>
<ellipse cx="1766.6" cy="1027.6" rx="59.8" ry="118.9" transform="rotate(19.4 1766.6 1027.6)"/>
<ellipse cx="1770.4" cy="1022.3" rx="46.4" ry="115.9" transform="rotate(20.5 1770.4 1022.3)"/>
<ellipse cx="1769" cy="1022.7" rx="47.5" ry="124.5" transform="rotate(21.9 1769 1022.7)"/>
<ellipse cx="1772" cy="1017.8" rx="57.2" ry="107.4" transform="rotate(17.4 1772 1017.8)"/>
<ellipse cx="1775.2" cy="1008.9" rx="53" ry="114.3" transform="rotate(18.3 1775.2 1008.9)"/>
<ellipse cx="1771.1" cy="1020.7" rx="50.9" ry="119.8" transform="rotate(19.1 1771.1 1020.7)"/>
<ellipse cx="1774.7" cy="1012.6" rx="41.8" ry="126.5" transform="rotate(21.1 1774.7 1012.6)"/>
<ellipse cx="1767" cy="1022.6" rx="70.8" ry="130.4" transform="rotate(18.3 1767 1022.6)"/>
<ellipse cx="1769.7" cy="1022.1" rx="52" ry="130.6" transform="rotate(20.1 1769.7 1022.1)"/>
<ellipse cx="1768.8" cy="1019.9" rx="70.8" ry="110.3" transform="rotate(17 1768.8 1019.9)"/>
<ellipse cx="1767.4" cy="1020.4" rx="58" ry="120.3" transform="rotate(22.1 1767.4 1020.4)"/>
<ellipse cx="1769.2" cy="1023.4" rx="61" ry="115" transform="rotate(17.7 1769.2 1023.4)"/>
<ellipse cx="1763.9" cy="1028.6" rx="65.8" ry="132.1" transform="rotate(20.5 1763.9 1028.6)"/>
<ellipse cx="1769.2" cy="1022.9" rx="56.1" ry="113.2" transform="rotate(19.2 1769.2 1022.9)"/>
<ellipse cx="1768" cy="1033.1" rx="49.7" ry="134.8" transform="rotate(18.2 1768 1033.1)"/>
<ellipse cx="1773" cy="1015.8" rx="48.7" ry="118.7" transform="rotate(19.6 1773 1015.8)"/>
<ellipse cx="1774.1" cy="1018.4" rx="39.4" ry="123.9" transform="rotate(19.5 1774.1 1018.4)"/>
<ellipse cx="1769.9" cy="1012.9" rx="64.1" ry="118.4" transform="rotate(20.9 1769.9 1012.9)"/>
<ellipse cx="1764.1" cy="1020.8" rx="72.8" ry="119.1" transform="rotate(22 1764.1 1020.8)"/>
<ellipse cx="1772.3" cy="1024.8" rx="44.9" ry="125.7" transform="rotate(17.5 1772.3 1024.8)"/>
<ellipse cx="1770.4" cy="1017.8" rx="57.4" ry="123.3" transform="rotate(19.7 1770.4 1017.8)"/>
<ellipse cx="1771.2" cy="1013.5" rx="57" ry="117.6" transform="rotate(20.9 1771.2 1013.5)"/>
<ellipse cx="1773.9" cy="1024.8" rx="33.4" ry="125.1" transform="rotate(18.5 1773.9 1024.8)"/>
<ellipse cx="1768.6" cy="1024.8" rx="54.6" ry="135.8" transform="rotate(19.5 1768.6 1024.8)"/>
<ellipse cx="1769.4" cy="1024.1" rx="60.2" ry="118.6" transform="rotate(17.5 1769.4 1024.1)"/>
<ellipse cx="1771.1" cy="1019.7" rx="56.6" ry="124.9" transform="rotate(18 1771.1 1019.7)"/>
<ellipse cx="1772.2" cy="1006.4" rx="67.6" ry="111.9" transform="rotate(19.9 1772.2 1006.4)"/>
<ellipse cx="1765.8" cy="1029.2" rx="64.1" ry="125.3" transform="rotate(18.7 1765.8 1029.2)"/>
<ellipse cx="1774.4" cy="1005.4" rx="55.3" ry="120" transform="rotate(21.5 1774.4 1005.4)"/>
<ellipse cx="1767.3" cy="1030" rx="51.3" ry="120.5" transform="rotate(19.7 1767.3 1030)"/>
<ellipse cx="1772.8" cy="1024.4" rx="40.3" ry="118.9" transform="rotate(18.2 1772.8 1024.4)"/>
<ellipse cx="1771.5" cy="1011.3" rx="68.5" ry="110.7" transform="rotate(17.7 1771.5 1011.3)"/>
<ellipse cx="1770.5" cy="1018.1" rx="52" ry="115.7" transform="rotate(20.9 1770.5 1018.1)"/>
<ellipse cx="1773.6" cy="1014.3" rx="48" ry="120.5" transform="rotate(19.8 1773.6 1014.3)"/>
<ellipse cx="1773.8" cy="1021.2" rx="46.6" ry="127" transform="rotate(16.6 1773.8 1021.2)"/>
<ellipse cx="1770.6" cy="1017.7" rx="54.8" ry="132.6" transform="rotate(20.2 1770.6 1017.7)"/>
<ellipse cx="1773.9" cy="1013.9" rx="48.5" ry="111.9" transform="rotate(19.4 1773.9 1013.9)"/>
<ellipse cx="1774.1" cy="1011.1" rx="48.7" ry="108.7" transform="rotate(20.6 1774.1 1011.1)"/>
<ellipse cx="1775.1" cy="1021.3" rx="30.3" ry="118.7" transform="rotate(19.4 1775.1 1021.3)"/>
<ellipse cx="1777" cy="1012.2" rx="33.8" ry="111.7" transform="rotate(20.3 1777 1012.2)"/>
<ellipse cx="1769.6" cy="1023.6" rx="47.6" ry="120.7" transform="rotate(20.6 1769.6 1023.6)"/>
<ellipse cx="1774.7" cy="1010.1" rx="51.1" ry="109.2" transform="rotate(19.2 1774.7 1010.1)"/>
<ellipse cx="1773.1" cy="1013.6" rx="47.9" ry="119" transform="rotate(21 1773.1 1013.6)"/>
<ellipse cx="1768.4" cy="1018.6" rx="62.9" ry="128.4" transform="rotate(20.4 1768.4 1018.6)"/>
<ellipse cx="1769.3" cy="1021.1" rx="56.2" ry="128" transform="rotate(19.8 1769.3 1021.1)"/>
<ellipse cx="1766.7" cy="1032" rx="52.1" ry="135.4" transform="rotate(19.3 1766.7 1032)"/>
<ellipse cx="1771.7" cy="1019.3" rx="54.6" ry="118.7" transform="rotate(18 1771.7 1019.3)"/>
<ellipse cx="1771.6" cy="1026.7" rx="35.1" ry="116" transform="rotate(20.1 1771.6 1026.7)"/>
<ellipse cx="1765.3" cy="1023.5" rx="69.5" ry="127.9" transform="rotate(20.3 1765.3 1023.5)"/>
<ellipse cx="1774.9" cy="1013.1" rx="43.7" ry="110.7" transform="rotate(19.8 1774.9 1013.1)"/>
<ellipse cx="1768.5" cy="1024.1" rx="51.9" ry="114.5" transform="rotate(20.7 1768.5 1024.1)"/>
<ellipse cx="1772.7" cy="1020.5" rx="44.3" ry="119.7" transform="rotate(19 1772.7 1020.5)"/>
<ellipse cx="1766.1" cy="1022.8" rx="68.3" ry="115.5" transform="rotate(19.9 1766.1 1022.8)"/>
<ellipse cx="1771.6" cy="1010.4" rx="67" ry="114.7" transform="rotate(18.5 1771.6 1010.4)"/>
</g></g>
<ellipse cx="1772.1" cy="1019" rx="52.8" ry="119.8" transform="rotate(19.7 1772.1 1019)" fill="none" stroke="#d42b42" stroke-width="3.8"/>
<path d="M1719.8 1005.7L1832.5 962.9" stroke="#d42b42" stroke-width="3.2" stroke-dasharray="3.4 5.9" fill="none"/>
<path d="M1784.8 981.9L1814.1 906.8" stroke="#d42b42" stroke-width="2.4" fill="none"/>
<path d="M1776.8 981.9h16M1784.8 973.9v16" stroke="#d42b42" stroke-width="2.2" fill="none"/>
<rect x="1806.8" y="899.5" width="14.6" height="14.6" fill="#d42b42"/>
<path d="M1912.9 993.8C1914.5 1008 1910 1018 1903 1025" stroke="#000" stroke-width="2.4" fill="none"/>
<path d="M1896.3 1030.6L1902 1016.5L1911.5 1026.8Z" fill="#000"/>
<path d="M2001.2 1327.3v-9.5M1892.8 1327.3v-9.5M1784.4 1327.3v-9.5M1676 1327.3v-9.5M1567.7 1327.3v-9.5" stroke="#111" stroke-width="1.9" fill="none"/>
<path d="M2044.5 1327.3v-5.2M2022.8 1327.3v-5.2M1979.5 1327.3v-5.2M1957.8 1327.3v-5.2M1936.1 1327.3v-5.2M1914.5 1327.3v-5.2M1871.1 1327.3v-5.2M1849.4 1327.3v-5.2M1827.8 1327.3v-5.2M1806.1 1327.3v-5.2M1762.7 1327.3v-5.2M1741.1 1327.3v-5.2M1719.4 1327.3v-5.2M1697.7 1327.3v-5.2M1654.4 1327.3v-5.2M1632.7 1327.3v-5.2M1611 1327.3v-5.2M1589.3 1327.3v-5.2M1546 1327.3v-5.2M1524.3 1327.3v-5.2" stroke="#111" stroke-width="1.3" fill="none"/>
<path d="M1524.4 1327.6h9.5M1524.4 1241h9.5M1524.4 1154.4h9.5M1524.4 1067.8h9.5M1524.4 981.2h9.5M1524.4 894.6h9.5M1524.4 808h9.5" stroke="#111" stroke-width="1.9" fill="none"/>
<path d="M1524.4 1306h5.2M1524.4 1284.3h5.2M1524.4 1262.7h5.2M1524.4 1219.4h5.2M1524.4 1197.7h5.2M1524.4 1176h5.2M1524.4 1132.8h5.2M1524.4 1111.1h5.2M1524.4 1089.5h5.2M1524.4 1046.2h5.2M1524.4 1024.5h5.2M1524.4 1002.9h5.2M1524.4 959.6h5.2M1524.4 937.9h5.2M1524.4 916.2h5.2M1524.4 873h5.2M1524.4 851.3h5.2M1524.4 829.7h5.2" stroke="#111" stroke-width="1.3" fill="none"/>
<rect x="1524.4" y="807.9" width="520.1" height="519.4" fill="none" stroke="#111" stroke-width="2.0"/>
<text x="1450.4" y="1339.6" font-size="34"><tspan textLength="23" lengthAdjust="spacingAndGlyphs">−</tspan>0.8</text>
<text x="1450.1" y="1253" font-size="34"><tspan textLength="23" lengthAdjust="spacingAndGlyphs">−</tspan>0.6</text>
<text x="1449.6" y="1166.4" font-size="34"><tspan textLength="23" lengthAdjust="spacingAndGlyphs">−</tspan>0.4</text>
<text x="1451" y="1079.8" font-size="34"><tspan textLength="23" lengthAdjust="spacingAndGlyphs">−</tspan>0.2</text>
<text x="1473.4" y="993.2" font-size="34">0.0</text>
<text x="1474" y="906.6" font-size="34">0.2</text>
<text x="1472.6" y="820" font-size="34">0.4</text>
<text x="1537.9" y="1358.3" font-size="34">0.50</text>
<text x="1646.3" y="1358.3" font-size="34">0.25</text>
<text x="1754.7" y="1358.3" font-size="34">0.00</text>
<text x="1851.5" y="1358.3" font-size="34"><tspan textLength="23" lengthAdjust="spacingAndGlyphs">−</tspan>0.25</text>
<text x="1959.9" y="1358.3" font-size="34"><tspan textLength="23" lengthAdjust="spacingAndGlyphs">−</tspan>0.50</text>
<text x="1691" y="1410.3" font-size="44">Δ<tspan font-style="italic">α</tspan><tspan font-size="31" dy="-13" dx="7">*</tspan><tspan dy="13" dx="4"> [mas]</tspan></text>
<text transform="translate(1432.5,1067) rotate(-90)" font-size="44" text-anchor="middle">Δ<tspan font-style="italic">δ</tspan> [mas]</text>
<rect x="1785.6" y="1190.2" width="244.1" height="122.2" rx="5" fill="#fff" fill-opacity="0.8" stroke="#d2d2d2" stroke-width="1.8"/>
<path d="M1790 1206.8H1824.2" stroke="#141414" stroke-width="5"/>
<path d="M1790 1248.7H1824.2" stroke="#4c72b0" stroke-width="5"/>
<path d="M1790 1290.1H1824.2" stroke="#d42b42" stroke-width="5"/>
<text x="1845.1" y="1216.8" font-size="28.7" text-anchor="start" >Gaia-Only</text>
<text x="1845.1" y="1258.9" font-size="28.7" text-anchor="start" >Gaia-RV</text>
<text x="1845.1" y="1301" font-size="28.7" text-anchor="start" >Med(Gaia-RV)</text>
<g filter="url(#fat8)"><text class="lb" y="861.7" font-size="52.2" font-weight="bold" font-family="Liberation Sans, sans-serif"><tspan x="1546.7" letter-spacing="2.625" textLength="33.2" lengthAdjust="spacingAndGlyphs">g)</tspan> <tspan x="1590.8" letter-spacing="3.128" textLength="88.2" lengthAdjust="spacingAndGlyphs">Orbits</tspan></text></g>
</svg>
</body></html>
